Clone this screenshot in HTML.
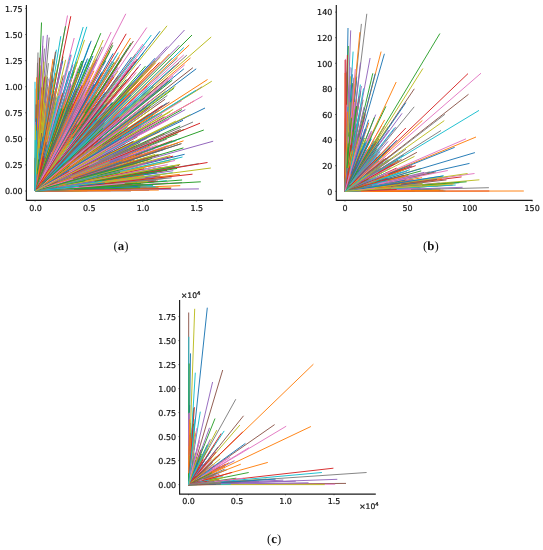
<!DOCTYPE html>
<html><head><meta charset="utf-8"><title>Figure</title>
<style>html,body{margin:0;padding:0;background:#fff}svg{display:block}.c0{stroke:#1f77b4}.c1{stroke:#ff7f0e}.c2{stroke:#2ca02c}.c3{stroke:#d62728}.c4{stroke:#9467bd}.c5{stroke:#8c564b}.c6{stroke:#e377c2}.c7{stroke:#7f7f7f}.c8{stroke:#bcbd22}.c9{stroke:#17becf}</style></head>
<body>
<svg width="543" height="550" viewBox="0 0 543 550">
<rect width="543" height="550" fill="#fff"/>
<g font-family="'DejaVu Sans','Liberation Sans',sans-serif" font-size="8.2" fill="#151515" stroke="#151515" stroke-width="0.22" text-rendering="geometricPrecision">
<path d="M26.4 5.0V200.3H223.1" fill="none" stroke="#1c1c1c" stroke-width="1.15" stroke-linecap="butt" stroke-linejoin="miter"/>
<path d="M35.10 200.3v1.2" stroke="#1c1c1c" stroke-width="0.6"/>
<text transform="translate(35.60 210.80) scale(0.975 1)" text-anchor="middle">0.0</text>
<path d="M88.85 200.3v1.2" stroke="#1c1c1c" stroke-width="0.6"/>
<text transform="translate(89.35 210.80) scale(0.975 1)" text-anchor="middle">0.5</text>
<path d="M142.60 200.3v1.2" stroke="#1c1c1c" stroke-width="0.6"/>
<text transform="translate(143.10 210.80) scale(0.975 1)" text-anchor="middle">1.0</text>
<path d="M196.35 200.3v1.2" stroke="#1c1c1c" stroke-width="0.6"/>
<text transform="translate(196.85 210.80) scale(0.975 1)" text-anchor="middle">1.5</text>
<path d="M26.4 191.00h-1.2" stroke="#1c1c1c" stroke-width="0.6"/>
<text transform="translate(22.70 194.20) scale(0.975 1)" text-anchor="end">0.00</text>
<path d="M26.4 164.93h-1.2" stroke="#1c1c1c" stroke-width="0.6"/>
<text transform="translate(22.70 168.12) scale(0.975 1)" text-anchor="end">0.25</text>
<path d="M26.4 138.85h-1.2" stroke="#1c1c1c" stroke-width="0.6"/>
<text transform="translate(22.70 142.05) scale(0.975 1)" text-anchor="end">0.50</text>
<path d="M26.4 112.78h-1.2" stroke="#1c1c1c" stroke-width="0.6"/>
<text transform="translate(22.70 115.98) scale(0.975 1)" text-anchor="end">0.75</text>
<path d="M26.4 86.70h-1.2" stroke="#1c1c1c" stroke-width="0.6"/>
<text transform="translate(22.70 89.90) scale(0.975 1)" text-anchor="end">1.00</text>
<path d="M26.4 60.62h-1.2" stroke="#1c1c1c" stroke-width="0.6"/>
<text transform="translate(22.70 63.83) scale(0.975 1)" text-anchor="end">1.25</text>
<path d="M26.4 34.55h-1.2" stroke="#1c1c1c" stroke-width="0.6"/>
<text transform="translate(22.70 37.75) scale(0.975 1)" text-anchor="end">1.50</text>
<path d="M26.4 8.47h-1.2" stroke="#1c1c1c" stroke-width="0.6"/>
<text transform="translate(22.70 11.67) scale(0.975 1)" text-anchor="end">1.75</text>
<path d="M336.3 5.0V200.3H532.6" fill="none" stroke="#1c1c1c" stroke-width="1.15" stroke-linecap="butt" stroke-linejoin="miter"/>
<path d="M345.00 200.3v1.2" stroke="#1c1c1c" stroke-width="0.6"/>
<text transform="translate(345.10 211.05) scale(0.975 1)" text-anchor="middle">0</text>
<path d="M407.35 200.3v1.2" stroke="#1c1c1c" stroke-width="0.6"/>
<text transform="translate(407.45 211.05) scale(0.975 1)" text-anchor="middle">50</text>
<path d="M469.70 200.3v1.2" stroke="#1c1c1c" stroke-width="0.6"/>
<text transform="translate(469.80 211.05) scale(0.975 1)" text-anchor="middle">100</text>
<path d="M532.05 200.3v1.2" stroke="#1c1c1c" stroke-width="0.6"/>
<text transform="translate(532.15 211.05) scale(0.975 1)" text-anchor="middle">150</text>
<path d="M336.3 191.30h-1.2" stroke="#1c1c1c" stroke-width="0.6"/>
<text transform="translate(332.30 194.50) scale(0.975 1)" text-anchor="end">0</text>
<path d="M336.3 165.70h-1.2" stroke="#1c1c1c" stroke-width="0.6"/>
<text transform="translate(332.30 168.90) scale(0.975 1)" text-anchor="end">20</text>
<path d="M336.3 140.10h-1.2" stroke="#1c1c1c" stroke-width="0.6"/>
<text transform="translate(332.30 143.30) scale(0.975 1)" text-anchor="end">40</text>
<path d="M336.3 114.50h-1.2" stroke="#1c1c1c" stroke-width="0.6"/>
<text transform="translate(332.30 117.70) scale(0.975 1)" text-anchor="end">60</text>
<path d="M336.3 88.90h-1.2" stroke="#1c1c1c" stroke-width="0.6"/>
<text transform="translate(332.30 92.10) scale(0.975 1)" text-anchor="end">80</text>
<path d="M336.3 63.30h-1.2" stroke="#1c1c1c" stroke-width="0.6"/>
<text transform="translate(332.30 66.50) scale(0.975 1)" text-anchor="end">100</text>
<path d="M336.3 37.70h-1.2" stroke="#1c1c1c" stroke-width="0.6"/>
<text transform="translate(332.30 40.90) scale(0.975 1)" text-anchor="end">120</text>
<path d="M336.3 12.10h-1.2" stroke="#1c1c1c" stroke-width="0.6"/>
<text transform="translate(332.30 15.30) scale(0.975 1)" text-anchor="end">140</text>
<path d="M179.6 300.0V494.05H375.8" fill="none" stroke="#1c1c1c" stroke-width="1.15" stroke-linecap="butt" stroke-linejoin="miter"/>
<path d="M188.50 494.05v1.2" stroke="#1c1c1c" stroke-width="0.6"/>
<text transform="translate(188.60 504.25) scale(0.975 1)" text-anchor="middle">0.0</text>
<path d="M237.00 494.05v1.2" stroke="#1c1c1c" stroke-width="0.6"/>
<text transform="translate(237.10 504.25) scale(0.975 1)" text-anchor="middle">0.5</text>
<path d="M285.50 494.05v1.2" stroke="#1c1c1c" stroke-width="0.6"/>
<text transform="translate(285.60 504.25) scale(0.975 1)" text-anchor="middle">1.0</text>
<path d="M334.00 494.05v1.2" stroke="#1c1c1c" stroke-width="0.6"/>
<text transform="translate(334.10 504.25) scale(0.975 1)" text-anchor="middle">1.5</text>
<path d="M179.6 484.60h-1.2" stroke="#1c1c1c" stroke-width="0.6"/>
<text transform="translate(176.10 487.80) scale(0.975 1)" text-anchor="end">0.00</text>
<path d="M179.6 460.60h-1.2" stroke="#1c1c1c" stroke-width="0.6"/>
<text transform="translate(176.10 463.80) scale(0.975 1)" text-anchor="end">0.25</text>
<path d="M179.6 436.60h-1.2" stroke="#1c1c1c" stroke-width="0.6"/>
<text transform="translate(176.10 439.80) scale(0.975 1)" text-anchor="end">0.50</text>
<path d="M179.6 412.60h-1.2" stroke="#1c1c1c" stroke-width="0.6"/>
<text transform="translate(176.10 415.80) scale(0.975 1)" text-anchor="end">0.75</text>
<path d="M179.6 388.60h-1.2" stroke="#1c1c1c" stroke-width="0.6"/>
<text transform="translate(176.10 391.80) scale(0.975 1)" text-anchor="end">1.00</text>
<path d="M179.6 364.60h-1.2" stroke="#1c1c1c" stroke-width="0.6"/>
<text transform="translate(176.10 367.80) scale(0.975 1)" text-anchor="end">1.25</text>
<path d="M179.6 340.60h-1.2" stroke="#1c1c1c" stroke-width="0.6"/>
<text transform="translate(176.10 343.80) scale(0.975 1)" text-anchor="end">1.50</text>
<path d="M179.6 316.60h-1.2" stroke="#1c1c1c" stroke-width="0.6"/>
<text transform="translate(176.10 319.80) scale(0.975 1)" text-anchor="end">1.75</text>
<text x="181" y="297.9" font-size="7.6">×10<tspan dy="-2.6" font-size="5.3">4</tspan></text>
<text x="359.2" y="508.5" font-size="7.6">×10<tspan dy="-2.6" font-size="5.3">4</tspan></text>
</g>
<g fill="none" stroke-width="1.0" stroke-linecap="butt">
<path class="c0" d="M35 191L79.8 153.5"/>
<path class="c1" d="M35 191L41.4 139.3"/>
<path class="c2" d="M35 191L73.8 152.3"/>
<path class="c3" d="M35 191L82.8 177.1"/>
<path class="c4" d="M35 191L48.1 171.7"/>
<path class="c5" d="M35 191L113.7 179.6"/>
<path class="c6" d="M35 191L52.6 188.6"/>
<path class="c7" d="M35 191L109.9 51.7"/>
<path class="c8" d="M35 191L35.1 188.2"/>
<path class="c9" d="M35 191L58.6 153.1"/>
<path class="c0" d="M35 191L184.6 154.3"/>
<path class="c1" d="M35 191L155.7 62.8"/>
<path class="c2" d="M35 191L120.2 165.5"/>
<path class="c3" d="M35 191L91.4 188.4"/>
<path class="c4" d="M35 191L49.7 179.1"/>
<path class="c5" d="M35 191L67.5 157.5"/>
<path class="c6" d="M35 191L66.3 160.6"/>
<path class="c7" d="M35 191L118.8 119.8"/>
<path class="c8" d="M35 191L35 190.7"/>
<path class="c9" d="M35 191L42.2 163.8"/>
<path class="c0" d="M35 191L125.3 143.6"/>
<path class="c1" d="M35 191L159.8 131.8"/>
<path class="c2" d="M35 191L60.3 127.1"/>
<path class="c3" d="M35 191L51.4 126.3"/>
<path class="c4" d="M35 191L35.9 178.3"/>
<path class="c5" d="M35 191L131 190.9"/>
<path class="c6" d="M35 191L42.5 139.3"/>
<path class="c7" d="M35 191L36.8 132.8"/>
<path class="c8" d="M35 191L71.4 186.9"/>
<path class="c9" d="M35 191L66.2 107.5"/>
<path class="c0" d="M35 191L109.3 181"/>
<path class="c1" d="M35 191L36.2 170.5"/>
<path class="c2" d="M35 191L122.6 175"/>
<path class="c3" d="M35 191L167.1 170.4"/>
<path class="c4" d="M35 191L69.1 90.7"/>
<path class="c5" d="M35 191L84.1 133.4"/>
<path class="c6" d="M35 191L59.2 183.7"/>
<path class="c7" d="M35 191L69.2 184.1"/>
<path class="c8" d="M35 191L96.1 180"/>
<path class="c9" d="M35 191L114.9 164"/>
<path class="c0" d="M35 191L35.8 174.6"/>
<path class="c1" d="M35 191L45.2 185.9"/>
<path class="c2" d="M35 191L96.9 170.3"/>
<path class="c3" d="M35 191L43.1 157.1"/>
<path class="c4" d="M35 191L35.9 190.9"/>
<path class="c5" d="M35 191L116.8 163.3"/>
<path class="c6" d="M35 191L63.5 116.8"/>
<path class="c7" d="M35 191L159.5 130.2"/>
<path class="c8" d="M35 191L76.5 185.2"/>
<path class="c9" d="M35 191L72.3 176.4"/>
<path class="c0" d="M35 191L93.8 153.2"/>
<path class="c1" d="M35 191L38.2 142.5"/>
<path class="c2" d="M35 191L44.8 178.9"/>
<path class="c3" d="M35 191L137.2 161.7"/>
<path class="c4" d="M35 191L37.3 175.2"/>
<path class="c5" d="M35 191L128.8 153.3"/>
<path class="c6" d="M35 191L37.4 185.7"/>
<path class="c7" d="M35 191L39.2 189.7"/>
<path class="c8" d="M35 191L42.2 153.6"/>
<path class="c9" d="M35 191L157.5 98.2"/>
<path class="c0" d="M35 191L38.3 190.8"/>
<path class="c1" d="M35 191L61.7 180.8"/>
<path class="c2" d="M35 191L50.4 184.6"/>
<path class="c3" d="M35 191L96.1 110.2"/>
<path class="c4" d="M35 191L60.5 184"/>
<path class="c5" d="M35 191L127 181.3"/>
<path class="c6" d="M35 191L46.4 177.7"/>
<path class="c7" d="M35 191L94.2 107.9"/>
<path class="c8" d="M35 191L47 101.3"/>
<path class="c9" d="M35 191L120.1 188.8"/>
<path class="c0" d="M35 191L169.9 80.6"/>
<path class="c1" d="M35 191L101.3 172.7"/>
<path class="c2" d="M35 191L126.3 79.5"/>
<path class="c3" d="M35 191L45.1 184.8"/>
<path class="c4" d="M35 191L35.9 161.2"/>
<path class="c5" d="M35 191L57.4 149.7"/>
<path class="c6" d="M35 191L174.9 160.5"/>
<path class="c7" d="M35 191L43.1 190.8"/>
<path class="c8" d="M35 191L36.7 187.7"/>
<path class="c9" d="M35 191L70.8 189.8"/>
<path class="c0" d="M35 191L60.1 167.9"/>
<path class="c1" d="M35 191L35.1 191"/>
<path class="c2" d="M35 191L80.9 185.7"/>
<path class="c3" d="M35 191L39 182.1"/>
<path class="c4" d="M35 191L47.7 162.9"/>
<path class="c5" d="M35 191L37.6 183.5"/>
<path class="c6" d="M35 191L65.7 172.6"/>
<path class="c7" d="M35 191L36.8 180"/>
<path class="c8" d="M35 191L55.1 176"/>
<path class="c9" d="M35 191L44.2 149.8"/>
<path class="c0" d="M35 191L81.3 123.6"/>
<path class="c1" d="M35 191L65.5 152.4"/>
<path class="c2" d="M35 191L70.2 186.7"/>
<path class="c3" d="M35 191L35.1 181.3"/>
<path class="c4" d="M35 191L65.8 125.3"/>
<path class="c5" d="M35 191L53.9 149.5"/>
<path class="c6" d="M35 191L50.1 178.8"/>
<path class="c7" d="M35 191L58.5 188"/>
<path class="c8" d="M35 191L74.7 189.2"/>
<path class="c9" d="M35 191L125 108.6"/>
<path class="c0" d="M35 191L62.2 139.4"/>
<path class="c1" d="M35 191L40.1 183.8"/>
<path class="c2" d="M35 191L183.9 129.5"/>
<path class="c3" d="M35 191L65.2 176"/>
<path class="c4" d="M35 191L133.1 159.6"/>
<path class="c5" d="M35 191L39.7 160.1"/>
<path class="c6" d="M35 191L45 182.9"/>
<path class="c7" d="M35 191L67.2 173.3"/>
<path class="c8" d="M35 191L92.4 173"/>
<path class="c9" d="M35 191L37.5 183.4"/>
<path class="c0" d="M35 191L47.5 127.2"/>
<path class="c1" d="M35 191L95.7 114.2"/>
<path class="c2" d="M35 191L85.9 180.2"/>
<path class="c3" d="M35 191L38.6 177.5"/>
<path class="c4" d="M35 191L37.2 186.6"/>
<path class="c5" d="M35 191L134.1 146.2"/>
<path class="c6" d="M35 191L119.7 120.5"/>
<path class="c7" d="M35 191L94.3 170.9"/>
<path class="c8" d="M35 191L71 138.5"/>
<path class="c9" d="M35 191L49.6 183.4"/>
<path class="c0" d="M35 191L36.5 139.5"/>
<path class="c1" d="M35 191L179.8 174.4"/>
<path class="c2" d="M35 191L63 56.7"/>
<path class="c3" d="M35 191L56.7 148.2"/>
<path class="c4" d="M35 191L54 181.2"/>
<path class="c5" d="M35 191L146.7 187.7"/>
<path class="c6" d="M35 191L184.7 64.8"/>
<path class="c7" d="M35 191L59.9 102.8"/>
<path class="c8" d="M35 191L169.8 161.5"/>
<path class="c9" d="M35 191L74.7 132.4"/>
<path class="c0" d="M35 191L57.7 157.3"/>
<path class="c1" d="M35 191L36.2 187.4"/>
<path class="c2" d="M35 191L89 93.9"/>
<path class="c3" d="M35 191L135.5 100.6"/>
<path class="c4" d="M35 191L90.4 190.1"/>
<path class="c5" d="M35 191L84.9 90.2"/>
<path class="c6" d="M35 191L104.2 160.3"/>
<path class="c7" d="M35 191L60.8 142.2"/>
<path class="c8" d="M35 191L51.4 168"/>
<path class="c9" d="M35 191L54.9 177.2"/>
<path class="c0" d="M35 191L52.7 74.8"/>
<path class="c1" d="M35 191L37.7 166.7"/>
<path class="c2" d="M35 191L91.5 179.6"/>
<path class="c3" d="M35 191L40.6 182.9"/>
<path class="c4" d="M35 191L79.3 162"/>
<path class="c5" d="M35 191L38.6 173"/>
<path class="c6" d="M35 191L39.6 139.8"/>
<path class="c7" d="M35 191L95.5 94.6"/>
<path class="c8" d="M35 191L43 174.4"/>
<path class="c9" d="M35 191L52.5 164"/>
<path class="c0" d="M35 191L43.5 188.1"/>
<path class="c1" d="M35 191L35.1 189.2"/>
<path class="c2" d="M35 191L52.3 172.1"/>
<path class="c3" d="M35 191L43 186.7"/>
<path class="c4" d="M35 191L51.5 121.3"/>
<path class="c5" d="M35 191L94 183.5"/>
<path class="c6" d="M35 191L53.7 169.6"/>
<path class="c7" d="M35 191L177.6 57.8"/>
<path class="c8" d="M35 191L76.1 61.7"/>
<path class="c9" d="M35 191L68.9 89.7"/>
<path class="c0" d="M35 191L54.8 179.8"/>
<path class="c1" d="M35 191L140.7 167.9"/>
<path class="c2" d="M35 191L59.4 166"/>
<path class="c3" d="M35 191L42.7 161.9"/>
<path class="c4" d="M35 191L39.2 143.2"/>
<path class="c5" d="M35 191L44.3 77.9"/>
<path class="c6" d="M35 191L80.5 175"/>
<path class="c7" d="M35 191L59.9 179.2"/>
<path class="c8" d="M35 191L67 142.1"/>
<path class="c9" d="M35 191L46.1 147.9"/>
<path class="c0" d="M35 191L101.1 156.7"/>
<path class="c1" d="M35 191L37.2 182.3"/>
<path class="c2" d="M35 191L47.9 186.7"/>
<path class="c3" d="M35 191L37.2 147.3"/>
<path class="c4" d="M35 191L113.8 94.4"/>
<path class="c5" d="M35 191L80.6 141.3"/>
<path class="c6" d="M35 191L143 44"/>
<path class="c7" d="M35 191L37.2 146.4"/>
<path class="c8" d="M35 191L54 177.5"/>
<path class="c9" d="M35 191L79 138.9"/>
<path class="c0" d="M35 191L105.7 60.8"/>
<path class="c1" d="M35 191L90.7 129.9"/>
<path class="c2" d="M35 191L35.4 184.8"/>
<path class="c3" d="M35 191L87.3 168.1"/>
<path class="c4" d="M35 191L94.1 179.4"/>
<path class="c5" d="M35 191L37.7 182.2"/>
<path class="c6" d="M35 191L110.9 122.4"/>
<path class="c7" d="M35 191L70.8 180.2"/>
<path class="c8" d="M35 191L47.6 86.9"/>
<path class="c9" d="M35 191L89.8 43.4"/>
<path class="c0" d="M35 191L122.6 164.2"/>
<path class="c1" d="M35 191L76.8 115.2"/>
<path class="c2" d="M35 191L73 167.9"/>
<path class="c3" d="M35 191L60.3 186.9"/>
<path class="c4" d="M35 191L84.5 181.6"/>
<path class="c5" d="M35 191L127.4 153.7"/>
<path class="c6" d="M35 191L88.9 133.4"/>
<path class="c7" d="M35 191L99.4 149.1"/>
<path class="c8" d="M35 191L130.6 89.1"/>
<path class="c9" d="M35 191L69.2 179.9"/>
<path class="c0" d="M35 191L66.5 143"/>
<path class="c1" d="M35 191L44.1 153.8"/>
<path class="c2" d="M35 191L55.7 102.9"/>
<path class="c3" d="M35 191L42.7 173.6"/>
<path class="c4" d="M35 191L46.5 118.6"/>
<path class="c5" d="M35 191L41.8 187.4"/>
<path class="c6" d="M35 191L35.1 191"/>
<path class="c7" d="M35 191L54.5 85.1"/>
<path class="c8" d="M35 191L59.5 181.6"/>
<path class="c9" d="M35 191L149.9 142.8"/>
<path class="c0" d="M35 191L51.7 130.7"/>
<path class="c1" d="M35 191L74.5 79"/>
<path class="c2" d="M35 191L66.2 168.8"/>
<path class="c3" d="M35 191L132.6 188.4"/>
<path class="c4" d="M35 191L39.5 183"/>
<path class="c5" d="M35 191L40.3 86.4"/>
<path class="c6" d="M35 191L56.6 169.7"/>
<path class="c7" d="M35 191L63.8 162.8"/>
<path class="c8" d="M35 191L158.2 154.4"/>
<path class="c9" d="M35 191L175.8 168"/>
<path class="c0" d="M35 191L77.7 142.1"/>
<path class="c1" d="M35 191L124.2 83.2"/>
<path class="c2" d="M35 191L127.2 164.3"/>
<path class="c3" d="M35 191L35.2 190.2"/>
<path class="c4" d="M35 191L48.3 78.7"/>
<path class="c5" d="M35 191L39.3 190.6"/>
<path class="c6" d="M35 191L57.2 171.9"/>
<path class="c7" d="M35 191L90.4 160.6"/>
<path class="c8" d="M35 191L91.4 133.5"/>
<path class="c9" d="M35 191L151.3 35"/>
<path class="c0" d="M35 191L42.4 176.8"/>
<path class="c1" d="M35 191L89.9 175.4"/>
<path class="c2" d="M35 191L63.3 127.7"/>
<path class="c3" d="M35 191L134.3 160.4"/>
<path class="c4" d="M35 191L179.2 45.2"/>
<path class="c5" d="M35 191L38 173.6"/>
<path class="c6" d="M35 191L41.5 178.4"/>
<path class="c7" d="M35 191L78.5 126.8"/>
<path class="c8" d="M35 191L73.2 139.9"/>
<path class="c9" d="M35 191L35.5 174.8"/>
<path class="c0" d="M35 191L42.6 187.8"/>
<path class="c1" d="M35 191L44 170.4"/>
<path class="c2" d="M35 191L54.3 128.2"/>
<path class="c3" d="M35 191L36.7 180.7"/>
<path class="c4" d="M35 191L46.6 169.3"/>
<path class="c5" d="M35 191L60.1 127.8"/>
<path class="c6" d="M35 191L96.4 62.8"/>
<path class="c7" d="M35 191L90.8 158.7"/>
<path class="c8" d="M35 191L106.4 189.8"/>
<path class="c9" d="M35 191L59.3 153.9"/>
<path class="c0" d="M35 191L39.7 189.3"/>
<path class="c1" d="M35 191L78.8 117.4"/>
<path class="c2" d="M35 191L61.3 147.8"/>
<path class="c3" d="M35 191L94.4 126.9"/>
<path class="c4" d="M35 191L35 159.9"/>
<path class="c5" d="M35 191L46.6 168.7"/>
<path class="c6" d="M35 191L39.3 57.3"/>
<path class="c7" d="M35 191L52.6 166.2"/>
<path class="c8" d="M35 191L96.1 165.7"/>
<path class="c9" d="M35 191L133.5 183.4"/>
<path class="c0" d="M35 191L158.7 110.5"/>
<path class="c1" d="M35 191L43 187.7"/>
<path class="c2" d="M35 191L78.6 141.3"/>
<path class="c3" d="M35 191L37.1 152"/>
<path class="c4" d="M35 191L35.2 159.5"/>
<path class="c5" d="M35 191L74.8 65.7"/>
<path class="c6" d="M35 191L52.1 168.3"/>
<path class="c7" d="M35 191L41.3 190.6"/>
<path class="c8" d="M35 191L88.3 177.7"/>
<path class="c9" d="M35 191L85.2 177.7"/>
<path class="c0" d="M35 191L131.4 57.2"/>
<path class="c1" d="M35 191L40 134.6"/>
<path class="c2" d="M35 191L71.3 152.6"/>
<path class="c3" d="M35 191L118.5 138.5"/>
<path class="c4" d="M35 191L62.4 146.8"/>
<path class="c5" d="M35 191L61 179"/>
<path class="c6" d="M35 191L185.5 117.6"/>
<path class="c7" d="M35 191L166.8 139.1"/>
<path class="c8" d="M35 191L57.4 185.5"/>
<path class="c9" d="M35 191L44.5 184.5"/>
<path class="c0" d="M35 191L93 55.8"/>
<path class="c1" d="M35 191L35.1 186.6"/>
<path class="c2" d="M35 191L43.5 190"/>
<path class="c3" d="M35 191L90.7 147.7"/>
<path class="c4" d="M35 191L38.5 111"/>
<path class="c5" d="M35 191L40.1 185.6"/>
<path class="c6" d="M35 191L61.4 135.9"/>
<path class="c7" d="M35 191L35.5 175.8"/>
<path class="c8" d="M35 191L121.1 74.5"/>
<path class="c9" d="M35 191L74.5 133.6"/>
<path class="c0" d="M35 191L163.7 149.6"/>
<path class="c1" d="M35 191L138.4 81.2"/>
<path class="c2" d="M35 191L67.7 164.4"/>
<path class="c3" d="M35 191L121.6 117.8"/>
<path class="c4" d="M35 191L84 129.1"/>
<path class="c5" d="M35 191L52.7 143.8"/>
<path class="c6" d="M35 191L35 187.2"/>
<path class="c7" d="M35 191L75.7 101.8"/>
<path class="c8" d="M35 191L44.6 189.3"/>
<path class="c9" d="M35 191L48.2 154.6"/>
<path class="c0" d="M35 191L120.7 138.3"/>
<path class="c1" d="M35 191L59.2 147.4"/>
<path class="c2" d="M35 191L62.6 155"/>
<path class="c3" d="M35 191L76.3 92.7"/>
<path class="c4" d="M35 191L36.7 190.3"/>
<path class="c5" d="M35 191L36.4 180.8"/>
<path class="c6" d="M35 191L168.2 183"/>
<path class="c7" d="M35 191L93.4 165.3"/>
<path class="c8" d="M35 191L118 71"/>
<path class="c9" d="M35 191L148.2 65.5"/>
<path class="c0" d="M35 191L66.2 186.9"/>
<path class="c1" d="M35 191L66.2 155.5"/>
<path class="c2" d="M35 191L90.5 155.2"/>
<path class="c3" d="M35 191L103.8 168"/>
<path class="c4" d="M35 191L41.4 176.3"/>
<path class="c5" d="M35 191L150.1 177.9"/>
<path class="c6" d="M35 191L46.6 154.6"/>
<path class="c7" d="M35 191L71.6 97.4"/>
<path class="c8" d="M35 191L123.9 123"/>
<path class="c9" d="M35 191L56.5 123.1"/>
<path class="c0" d="M35 191L35.6 190"/>
<path class="c1" d="M35 191L80.3 166.3"/>
<path class="c2" d="M35 191L38.1 184"/>
<path class="c3" d="M35 191L105.8 136.3"/>
<path class="c4" d="M35 191L46.3 189.3"/>
<path class="c5" d="M35 191L160.2 175.9"/>
<path class="c6" d="M35 191L79.5 138.1"/>
<path class="c7" d="M35 191L79.1 111.5"/>
<path class="c8" d="M35 191L82.7 65.1"/>
<path class="c9" d="M35 191L66 180.5"/>
<path class="c0" d="M35 191L113.9 181.1"/>
<path class="c1" d="M35 191L48.8 161.9"/>
<path class="c2" d="M35 191L140.2 142.3"/>
<path class="c3" d="M35 191L61.4 174.8"/>
<path class="c4" d="M35 191L153 116.6"/>
<path class="c5" d="M35 191L56.7 148.1"/>
<path class="c6" d="M35 191L35.7 186"/>
<path class="c7" d="M35 191L42.8 135.5"/>
<path class="c8" d="M35 191L60.5 113.4"/>
<path class="c9" d="M35 191L98.9 157.2"/>
<path class="c0" d="M35 191L35.9 182.3"/>
<path class="c1" d="M35 191L101.3 164.5"/>
<path class="c2" d="M35 191L106.3 146.2"/>
<path class="c3" d="M35 191L103.4 143.4"/>
<path class="c4" d="M35 191L76.7 178.2"/>
<path class="c5" d="M35 191L50.6 145.1"/>
<path class="c6" d="M35 191L46.6 148.1"/>
<path class="c7" d="M35 191L56.7 185"/>
<path class="c8" d="M35 191L50.3 112.2"/>
<path class="c9" d="M35 191L84.9 189.3"/>
<path class="c0" d="M35 191L73 148.5"/>
<path class="c1" d="M35 191L36.7 160.4"/>
<path class="c2" d="M35 191L77.3 61.6"/>
<path class="c3" d="M35 191L52.2 171.6"/>
<path class="c4" d="M35 191L160.5 174.8"/>
<path class="c5" d="M35 191L39.1 182"/>
<path class="c6" d="M35 191L70.8 186.3"/>
<path class="c7" d="M35 191L58.4 185.8"/>
<path class="c8" d="M35 191L91.3 102.1"/>
<path class="c9" d="M35 191L55.8 183.7"/>
<path class="c0" d="M35 191L55.3 169.9"/>
<path class="c1" d="M35 191L110.8 138.4"/>
<path class="c2" d="M35 191L36.5 162.5"/>
<path class="c3" d="M35 191L80.4 147.8"/>
<path class="c4" d="M35 191L48.3 163.3"/>
<path class="c5" d="M35 191L43.1 132.1"/>
<path class="c6" d="M35 191L44.1 159.4"/>
<path class="c7" d="M35 191L39.2 173.6"/>
<path class="c8" d="M35 191L37.7 181.1"/>
<path class="c9" d="M35 191L37.2 159.2"/>
<path class="c0" d="M35 191L60.3 164.4"/>
<path class="c1" d="M35 191L55.1 130.2"/>
<path class="c2" d="M35 191L146.7 106.7"/>
<path class="c3" d="M35 191L35.3 190.2"/>
<path class="c4" d="M35 191L141.5 121.7"/>
<path class="c5" d="M35 191L93 172.2"/>
<path class="c6" d="M35 191L37.6 189.8"/>
<path class="c7" d="M35 191L113.4 183.9"/>
<path class="c8" d="M35 191L68.9 185"/>
<path class="c9" d="M35 191L72.9 90.8"/>
<path class="c0" d="M35 191L91.9 185.6"/>
<path class="c1" d="M35 191L41.4 182.8"/>
<path class="c2" d="M35 191L153.5 184.4"/>
<path class="c3" d="M35 191L124.7 165"/>
<path class="c4" d="M35 191L60.4 181.4"/>
<path class="c5" d="M35 191L105.6 98.2"/>
<path class="c6" d="M35 191L114 168"/>
<path class="c7" d="M35 191L56.9 185.1"/>
<path class="c8" d="M35 191L79.9 167.8"/>
<path class="c9" d="M35 191L51.1 137.9"/>
<path class="c0" d="M35 191L44.7 186.9"/>
<path class="c1" d="M35 191L44.5 122.9"/>
<path class="c2" d="M35 191L38.3 187.3"/>
<path class="c3" d="M35 191L126.4 106.8"/>
<path class="c4" d="M35 191L39.7 190.6"/>
<path class="c5" d="M35 191L56.8 125.2"/>
<path class="c6" d="M35 191L80.1 143.2"/>
<path class="c7" d="M35 191L35.8 190.6"/>
<path class="c8" d="M35 191L90.4 100.8"/>
<path class="c9" d="M35 191L90.3 190.1"/>
<path class="c0" d="M35 191L54.3 178.6"/>
<path class="c1" d="M35 191L54.2 152.3"/>
<path class="c2" d="M35 191L138 165.7"/>
<path class="c3" d="M35 191L120.5 145"/>
<path class="c4" d="M35 191L45.2 143.4"/>
<path class="c5" d="M35 191L35.4 190.4"/>
<path class="c6" d="M35 191L80 171.5"/>
<path class="c7" d="M35 191L55.9 186.1"/>
<path class="c8" d="M35 191L51.6 191"/>
<path class="c9" d="M35 191L39 175"/>
<path class="c0" d="M35 191L119.4 180.3"/>
<path class="c1" d="M35 191L94 70.8"/>
<path class="c2" d="M35 191L89.6 141.1"/>
<path class="c3" d="M35 191L37.7 153.7"/>
<path class="c4" d="M35 191L52.9 114.6"/>
<path class="c5" d="M35 191L56.7 129.5"/>
<path class="c6" d="M35 191L50.5 76.7"/>
<path class="c7" d="M35 191L62 97.4"/>
<path class="c8" d="M35 191L77.4 143.7"/>
<path class="c9" d="M35 191L50 187.3"/>
<path class="c0" d="M35 191L111.5 151.4"/>
<path class="c1" d="M35 191L113.7 181.8"/>
<path class="c2" d="M35 191L62.1 167.2"/>
<path class="c3" d="M35 191L65.6 172.1"/>
<path class="c4" d="M35 191L100 180.4"/>
<path class="c5" d="M35 191L37.9 188.5"/>
<path class="c6" d="M35 191L44.3 158.1"/>
<path class="c7" d="M35 191L103.3 189.7"/>
<path class="c8" d="M35 191L80.2 101.4"/>
<path class="c9" d="M35 191L82.3 134.7"/>
<path class="c0" d="M35 191L35.7 191"/>
<path class="c1" d="M35 191L66.7 96.5"/>
<path class="c2" d="M35 191L92.7 109.6"/>
<path class="c3" d="M35 191L82.8 159.8"/>
<path class="c4" d="M35 191L106.7 155.7"/>
<path class="c5" d="M35 191L68.2 168.1"/>
<path class="c6" d="M35 191L127.1 152.8"/>
<path class="c7" d="M35 191L69.3 116.7"/>
<path class="c8" d="M35 191L38.6 150.9"/>
<path class="c9" d="M35 191L70.3 117"/>
<path class="c0" d="M35 191L69.4 71.1"/>
<path class="c1" d="M35 191L154.2 164.9"/>
<path class="c2" d="M35 191L50.9 163.2"/>
<path class="c3" d="M35 191L96.6 173.6"/>
<path class="c4" d="M35 191L45.6 151.5"/>
<path class="c5" d="M35 191L126.9 178.3"/>
<path class="c6" d="M35 191L145.5 163.9"/>
<path class="c7" d="M35 191L167.4 95.4"/>
<path class="c8" d="M35 191L42.3 134.4"/>
<path class="c9" d="M35 191L67.3 158.5"/>
<path class="c0" d="M35 191L41.4 174.7"/>
<path class="c1" d="M35 191L111.7 139.3"/>
<path class="c2" d="M35 191L64.6 170"/>
<path class="c3" d="M35 191L35.5 173.5"/>
<path class="c4" d="M35 191L58.5 152.3"/>
<path class="c5" d="M35 191L110.1 188.9"/>
<path class="c6" d="M35 191L69.2 171.2"/>
<path class="c7" d="M35 191L102.3 180"/>
<path class="c8" d="M35 191L53.6 172.4"/>
<path class="c9" d="M35 191L45.9 153.4"/>
<path class="c0" d="M35 191L56.2 185.8"/>
<path class="c1" d="M35 191L41.8 148.1"/>
<path class="c2" d="M35 191L87.1 159.7"/>
<path class="c3" d="M35 191L61.7 185.1"/>
<path class="c4" d="M35 191L35.9 146.8"/>
<path class="c5" d="M35 191L42.4 176"/>
<path class="c6" d="M35 191L39.7 189.5"/>
<path class="c7" d="M35 191L101.9 93"/>
<path class="c8" d="M35 191L123.8 179.6"/>
<path class="c9" d="M35 191L58.4 162.1"/>
<path class="c0" d="M35 191L41.3 187.5"/>
<path class="c1" d="M35 191L92.2 155.6"/>
<path class="c2" d="M35 191L37.3 190.6"/>
<path class="c3" d="M35 191L43.5 189.2"/>
<path class="c4" d="M35 191L73.8 147.8"/>
<path class="c5" d="M35 191L106.8 106.5"/>
<path class="c6" d="M35 191L35.1 190.4"/>
<path class="c7" d="M35 191L46.8 152.2"/>
<path class="c8" d="M35 191L50.9 188"/>
<path class="c9" d="M35 191L44 186.7"/>
<path class="c0" d="M35 191L75.3 175.4"/>
<path class="c1" d="M35 191L62.4 93.1"/>
<path class="c2" d="M35 191L145.5 66.1"/>
<path class="c3" d="M35 191L136.8 186"/>
<path class="c4" d="M35 191L35.1 186.2"/>
<path class="c5" d="M35 191L83 112.6"/>
<path class="c6" d="M35 191L49.5 166.2"/>
<path class="c7" d="M35 191L76.7 163.3"/>
<path class="c8" d="M35 191L84.5 39.9"/>
<path class="c9" d="M35 191L87.7 174.4"/>
<path class="c0" d="M35 191L100 176.6"/>
<path class="c1" d="M35 191L119.1 89.1"/>
<path class="c2" d="M35 191L114 109.3"/>
<path class="c3" d="M35 191L96.4 117"/>
<path class="c4" d="M35 191L127.2 49"/>
<path class="c5" d="M35 191L98.6 82.1"/>
<path class="c6" d="M35 191L37.4 155.1"/>
<path class="c7" d="M35 191L97.8 135.5"/>
<path class="c8" d="M35 191L55.7 161"/>
<path class="c9" d="M35 191L44.5 167.9"/>
<path class="c0" d="M35 191L35.5 190.6"/>
<path class="c1" d="M35 191L38.5 178.1"/>
<path class="c2" d="M35 191L96.8 146"/>
<path class="c3" d="M35 191L42.1 182.5"/>
<path class="c4" d="M35 191L79.2 144.4"/>
<path class="c5" d="M35 191L43.8 184.1"/>
<path class="c6" d="M35 191L168.4 119.5"/>
<path class="c7" d="M35 191L39.2 182.1"/>
<path class="c8" d="M35 191L53.2 151.4"/>
<path class="c9" d="M35 191L68 113"/>
<path class="c0" d="M35 191L134 61.4"/>
<path class="c1" d="M35 191L92.5 179.9"/>
<path class="c2" d="M35 191L97 130.2"/>
<path class="c3" d="M35 191L64.4 188.7"/>
<path class="c4" d="M35 191L116.9 104.5"/>
<path class="c5" d="M35 191L98.9 158.6"/>
<path class="c6" d="M35 191L157.5 144.7"/>
<path class="c7" d="M35 191L35.4 188.2"/>
<path class="c8" d="M35 191L42.2 178.8"/>
<path class="c9" d="M35 191L53.6 176.9"/>
<path class="c0" d="M35 191L57.6 183"/>
<path class="c1" d="M35 191L42.2 182.4"/>
<path class="c2" d="M35 191L54.2 188.1"/>
<path class="c3" d="M35 191L81.3 182.1"/>
<path class="c4" d="M35 191L47.4 34.9"/>
<path class="c5" d="M35 191L110.2 161.5"/>
<path class="c6" d="M35 191L166 119.8"/>
<path class="c7" d="M35 191L37.8 174.9"/>
<path class="c8" d="M35 191L108 139.9"/>
<path class="c9" d="M35 191L143.3 52.9"/>
<path class="c0" d="M35 191L44.2 190.6"/>
<path class="c1" d="M35 191L85.7 165.1"/>
<path class="c2" d="M35 191L35.2 189.2"/>
<path class="c3" d="M35 191L130.3 106"/>
<path class="c4" d="M35 191L41.7 187.7"/>
<path class="c5" d="M35 191L50.6 98.4"/>
<path class="c6" d="M35 191L53.6 121.5"/>
<path class="c7" d="M35 191L137.3 99.8"/>
<path class="c8" d="M35 191L35.1 190.6"/>
<path class="c9" d="M35 191L69.2 180.1"/>
<path class="c0" d="M35 191L45.4 187.9"/>
<path class="c1" d="M35 191L154.1 181.9"/>
<path class="c2" d="M35 191L71.3 114.1"/>
<path class="c3" d="M35 191L36.8 179.8"/>
<path class="c4" d="M35 191L90 80.5"/>
<path class="c5" d="M35 191L37.9 185.5"/>
<path class="c6" d="M35 191L163.6 85.9"/>
<path class="c7" d="M35 191L109 164.7"/>
<path class="c8" d="M35 191L83.9 93.7"/>
<path class="c9" d="M35 191L121.7 166.4"/>
<path class="c0" d="M35 191L46.7 171.5"/>
<path class="c1" d="M35 191L68.6 169.4"/>
<path class="c2" d="M35 191L42.3 152.2"/>
<path class="c3" d="M35 191L109.9 163.6"/>
<path class="c4" d="M35 191L38.5 161.2"/>
<path class="c5" d="M35 191L68.7 175.8"/>
<path class="c6" d="M35 191L36.5 190.8"/>
<path class="c7" d="M35 191L84 151.5"/>
<path class="c8" d="M35 191L160 57.2"/>
<path class="c9" d="M35 191L96.5 108.7"/>
<path class="c0" d="M35 191L52.3 184"/>
<path class="c1" d="M35 191L116.8 180"/>
<path class="c2" d="M35 191L71.5 103.2"/>
<path class="c3" d="M35 191L78.8 171"/>
<path class="c4" d="M35 191L43.9 188.4"/>
<path class="c5" d="M35 191L37.5 62.8"/>
<path class="c6" d="M35 191L58.6 170.7"/>
<path class="c7" d="M35 191L41.5 186.6"/>
<path class="c8" d="M35 191L131.9 96.8"/>
<path class="c9" d="M35 191L64.5 156.8"/>
<path class="c0" d="M35 191L68.8 170.2"/>
<path class="c1" d="M35 191L52.8 142.2"/>
<path class="c2" d="M35 191L48.4 177.7"/>
<path class="c3" d="M35 191L62.2 142.2"/>
<path class="c4" d="M35 191L42.3 97.8"/>
<path class="c5" d="M35 191L73.3 87.8"/>
<path class="c6" d="M35 191L101.1 100.1"/>
<path class="c7" d="M35 191L56.7 173.6"/>
<path class="c8" d="M35 191L41.9 171.8"/>
<path class="c9" d="M35 191L84.9 172.2"/>
<path class="c0" d="M35 191L74.6 177.1"/>
<path class="c1" d="M35 191L171.9 58.4"/>
<path class="c2" d="M35 191L55.6 163.8"/>
<path class="c3" d="M35 191L44.4 179.5"/>
<path class="c4" d="M35 191L137.8 162"/>
<path class="c5" d="M35 191L87.3 189.6"/>
<path class="c6" d="M35 191L95.4 143.3"/>
<path class="c7" d="M35 191L52.8 183.4"/>
<path class="c8" d="M35 191L43.4 190.1"/>
<path class="c9" d="M35 191L73 145.1"/>
<path class="c0" d="M35 191L66.1 102.1"/>
<path class="c1" d="M35 191L110.9 173.8"/>
<path class="c2" d="M35 191L112.6 186"/>
<path class="c3" d="M35 191L68.8 142.4"/>
<path class="c4" d="M35 191L73.9 174.3"/>
<path class="c5" d="M35 191L51.5 188.8"/>
<path class="c6" d="M35 191L118.8 168.5"/>
<path class="c7" d="M35 191L63.8 183.8"/>
<path class="c8" d="M35 191L40.4 171.6"/>
<path class="c9" d="M35 191L98.4 185.1"/>
<path class="c0" d="M35 191L131 130.9"/>
<path class="c1" d="M35 191L41 65.3"/>
<path class="c2" d="M35 191L56.8 170.5"/>
<path class="c3" d="M35 191L37.2 93.6"/>
<path class="c4" d="M35 191L59.3 170.5"/>
<path class="c5" d="M35 191L125.1 185.6"/>
<path class="c6" d="M35 191L53.7 87"/>
<path class="c7" d="M35 191L117.2 134.3"/>
<path class="c8" d="M35 191L165.7 91"/>
<path class="c9" d="M35 191L35.3 191"/>
<path class="c0" d="M35 191L45 166.1"/>
<path class="c1" d="M35 191L117.4 160.7"/>
<path class="c2" d="M35 191L111.8 103"/>
<path class="c3" d="M35 191L41.1 185.8"/>
<path class="c4" d="M35 191L110.2 143.9"/>
<path class="c5" d="M35 191L36 156.6"/>
<path class="c6" d="M35 191L99.5 187.1"/>
<path class="c7" d="M35 191L119.3 57.4"/>
<path class="c8" d="M35 191L64.5 173.8"/>
<path class="c9" d="M35 191L43.7 151.8"/>
<path class="c0" d="M35 191L44.9 137.5"/>
<path class="c1" d="M35 191L49.8 180.8"/>
<path class="c2" d="M35 191L56 177.1"/>
<path class="c3" d="M35 191L103.2 167.7"/>
<path class="c4" d="M35 191L78.5 178.5"/>
<path class="c5" d="M35 191L128.3 167.1"/>
<path class="c6" d="M35 191L87.5 173.1"/>
<path class="c7" d="M35 191L92.1 161.8"/>
<path class="c8" d="M35 191L35.3 163.4"/>
<path class="c9" d="M35 191L55.9 98.1"/>
<path class="c0" d="M35 191L166.9 103"/>
<path class="c1" d="M35 191L72.8 121.3"/>
<path class="c2" d="M35 191L180.2 126"/>
<path class="c3" d="M35 191L117.1 167.5"/>
<path class="c4" d="M35 191L42.1 186.1"/>
<path class="c5" d="M35 191L76.5 106.9"/>
<path class="c6" d="M35 191L143.9 123.6"/>
<path class="c7" d="M35 191L41.6 126.4"/>
<path class="c8" d="M35 191L45.3 165"/>
<path class="c9" d="M35 191L56.4 49.7"/>
<path class="c0" d="M35 191L101.2 155.3"/>
<path class="c1" d="M35 191L45.7 189.6"/>
<path class="c2" d="M35 191L56.3 179.4"/>
<path class="c3" d="M35 191L159.5 62.4"/>
<path class="c4" d="M35 191L127.7 126.8"/>
<path class="c5" d="M35 191L143.1 184.3"/>
<path class="c6" d="M35 191L144.9 46.2"/>
<path class="c7" d="M35 191L95.3 159.7"/>
<path class="c8" d="M35 191L132.3 82.4"/>
<path class="c9" d="M35 191L78.7 105.4"/>
<path class="c0" d="M35 191L50.2 158.9"/>
<path class="c1" d="M35 191L128.9 169.5"/>
<path class="c2" d="M35 191L61.3 179"/>
<path class="c3" d="M35 191L103.6 141.7"/>
<path class="c4" d="M35 191L54.5 102.2"/>
<path class="c5" d="M35 191L105.2 157.3"/>
<path class="c6" d="M35 191L167.6 145.6"/>
<path class="c7" d="M35 191L71.4 189.6"/>
<path class="c8" d="M35 191L49.7 173.4"/>
<path class="c9" d="M35 191L37.8 119.4"/>
<path class="c0" d="M35 191L39.3 183.7"/>
<path class="c1" d="M35 191L63.2 181.3"/>
<path class="c2" d="M35 191L37.4 187"/>
<path class="c3" d="M35 191L53.8 103.8"/>
<path class="c4" d="M35 191L117.8 67.4"/>
<path class="c5" d="M35 191L102.4 138.9"/>
<path class="c6" d="M35 191L102.2 184.8"/>
<path class="c7" d="M35 191L86.7 162.5"/>
<path class="c8" d="M35 191L136.5 144.6"/>
<path class="c9" d="M35 191L91.3 150.9"/>
<path class="c0" d="M35 191L66.3 182.8"/>
<path class="c1" d="M35 191L150.3 146.6"/>
<path class="c2" d="M35 191L97 155.1"/>
<path class="c3" d="M35 191L75.5 181.5"/>
<path class="c4" d="M35 191L58.4 146.2"/>
<path class="c5" d="M35 191L112.7 42.6"/>
<path class="c6" d="M35 191L106.8 141.7"/>
<path class="c7" d="M35 191L99.2 184.8"/>
<path class="c8" d="M35 191L87.3 186.6"/>
<path class="c9" d="M35 191L78.4 135.6"/>
<path class="c0" d="M35 191L121.8 143.7"/>
<path class="c1" d="M35 191L107.7 188.4"/>
<path class="c2" d="M35 191L42.3 149.7"/>
<path class="c3" d="M35 191L65.5 178.1"/>
<path class="c4" d="M35 191L87.9 175.5"/>
<path class="c5" d="M35 191L37.9 187"/>
<path class="c6" d="M35 191L78.2 164.1"/>
<path class="c7" d="M35 191L36.8 171.4"/>
<path class="c8" d="M35 191L60.5 153.6"/>
<path class="c9" d="M35 191L99.4 143.9"/>
<path class="c0" d="M35 191L50 184.2"/>
<path class="c1" d="M35 191L47.6 126.9"/>
<path class="c2" d="M35 191L54.5 58.6"/>
<path class="c3" d="M35 191L84.7 180.5"/>
<path class="c4" d="M35 191L103.9 155.7"/>
<path class="c5" d="M35 191L38.6 94.4"/>
<path class="c6" d="M35 191L122.4 164.5"/>
<path class="c7" d="M35 191L86.1 100.5"/>
<path class="c8" d="M35 191L81.5 190.9"/>
<path class="c9" d="M35 191L127.5 127"/>
<path class="c0" d="M35 191L67.9 159.6"/>
<path class="c1" d="M35 191L67 154.8"/>
<path class="c2" d="M35 191L48.1 175.6"/>
<path class="c3" d="M35 191L38.4 124.1"/>
<path class="c4" d="M35 191L45.4 184.9"/>
<path class="c5" d="M35 191L61.6 177.1"/>
<path class="c6" d="M35 191L51 161"/>
<path class="c7" d="M35 191L35.9 176.4"/>
<path class="c8" d="M35 191L71 182"/>
<path class="c9" d="M35 191L77.5 150.9"/>
<path class="c0" d="M35 191L118.7 137.6"/>
<path class="c1" d="M35 191L55.1 144.1"/>
<path class="c2" d="M35 191L118.1 159.5"/>
<path class="c3" d="M35 191L136 136"/>
<path class="c4" d="M35 191L141 83.4"/>
<path class="c5" d="M35 191L165.1 178.4"/>
<path class="c6" d="M35 191L63.1 186.6"/>
<path class="c7" d="M35 191L92.1 181.1"/>
<path class="c8" d="M35 191L55.5 137.7"/>
<path class="c9" d="M35 191L46.8 188"/>
<path class="c0" d="M35 191L62.7 61.1"/>
<path class="c1" d="M35 191L82.9 171.4"/>
<path class="c2" d="M35 191L57.1 126.2"/>
<path class="c3" d="M35 191L77.8 104"/>
<path class="c4" d="M35 191L71.8 116.2"/>
<path class="c5" d="M35 191L57.6 178.3"/>
<path class="c6" d="M35 191L39 175.6"/>
<path class="c7" d="M35 191L86 129.6"/>
<path class="c8" d="M35 191L53.8 154.2"/>
<path class="c9" d="M35 191L40 173"/>
<path class="c0" d="M35 191L101.9 178"/>
<path class="c1" d="M35 191L88.7 99.7"/>
<path class="c2" d="M35 191L183.4 147.9"/>
<path class="c3" d="M35 191L39.1 185.7"/>
<path class="c4" d="M35 191L39.8 90.7"/>
<path class="c5" d="M35 191L69 129.2"/>
<path class="c6" d="M35 191L78.9 125.7"/>
<path class="c7" d="M35 191L35.1 190.1"/>
<path class="c8" d="M35 191L62.5 189"/>
<path class="c9" d="M35 191L173 165.8"/>
<path class="c0" d="M35 191L59.5 179.5"/>
<path class="c1" d="M35 191L36.1 88.6"/>
<path class="c2" d="M35 191L181.9 109.6"/>
<path class="c3" d="M35 191L82.2 138.6"/>
<path class="c4" d="M35 191L115 139.3"/>
<path class="c5" d="M35 191L39.9 176.4"/>
<path class="c6" d="M35 191L98.3 161.6"/>
<path class="c7" d="M35 191L50.6 168.9"/>
<path class="c8" d="M35 191L36.8 131.8"/>
<path class="c9" d="M35 191L59.5 145.3"/>
<path class="c0" d="M35 191L70.7 84.1"/>
<path class="c1" d="M35 191L148.6 159.8"/>
<path class="c2" d="M35 191L43.7 110.4"/>
<path class="c3" d="M35 191L146.9 86.2"/>
<path class="c4" d="M35 191L185.3 109.6"/>
<path class="c5" d="M35 191L125.5 82.7"/>
<path class="c6" d="M35 191L92.8 106.9"/>
<path class="c7" d="M35 191L85.7 172.6"/>
<path class="c8" d="M35 191L123.1 135.6"/>
<path class="c9" d="M35 191L166.8 180.7"/>
<path class="c0" d="M35 191L47.9 117.1"/>
<path class="c1" d="M35 191L135.7 178.9"/>
<path class="c2" d="M35 191L35.2 190.8"/>
<path class="c3" d="M35 191L46.5 187.3"/>
<path class="c4" d="M35 191L96.3 134.3"/>
<path class="c5" d="M35 191L55.7 126.8"/>
<path class="c6" d="M35 191L80.5 187"/>
<path class="c7" d="M35 191L57.8 153.9"/>
<path class="c8" d="M35 191L40.2 188.6"/>
<path class="c9" d="M35 191L35.1 190.5"/>
<path class="c0" d="M35 191L50.6 178.4"/>
<path class="c1" d="M35 191L83.1 89.7"/>
<path class="c2" d="M35 191L139.2 186.7"/>
<path class="c3" d="M35 191L161.3 167.8"/>
<path class="c4" d="M35 191L58.6 176.5"/>
<path class="c5" d="M35 191L83.8 165.9"/>
<path class="c6" d="M35 191L130.9 189.5"/>
<path class="c7" d="M35 191L44.4 48.6"/>
<path class="c8" d="M35 191L51 174.1"/>
<path class="c9" d="M35 191L43.6 166.3"/>
<path class="c0" d="M35 191L53.8 177.7"/>
<path class="c1" d="M35 191L41.1 169.7"/>
<path class="c2" d="M35 191L37.4 83.8"/>
<path class="c3" d="M35 191L39.7 132.5"/>
<path class="c4" d="M35 191L79.9 103.7"/>
<path class="c5" d="M35 191L55.5 51.7"/>
<path class="c6" d="M35 191L109 99.3"/>
<path class="c7" d="M35 191L106 142.8"/>
<path class="c8" d="M35 191L45.8 173.5"/>
<path class="c9" d="M35 191L71.1 168.4"/>
<path class="c0" d="M35 191L119.1 140.2"/>
<path class="c1" d="M35 191L46 119.6"/>
<path class="c2" d="M35 191L108.8 180.3"/>
<path class="c3" d="M35 191L76.6 96.8"/>
<path class="c4" d="M35 191L55 145.5"/>
<path class="c5" d="M35 191L92.4 89.4"/>
<path class="c6" d="M35 191L143.6 173.3"/>
<path class="c7" d="M35 191L96.2 154.5"/>
<path class="c8" d="M35 191L86.5 190.3"/>
<path class="c9" d="M35 191L113.5 135"/>
<path class="c0" d="M35 191L38.8 186.9"/>
<path class="c1" d="M35 191L45.3 187.7"/>
<path class="c2" d="M35 191L57.9 178.7"/>
<path class="c3" d="M35 191L36.1 190.8"/>
<path class="c4" d="M35 191L38.4 188.4"/>
<path class="c5" d="M35 191L95 170.1"/>
<path class="c6" d="M35 191L86.8 89.9"/>
<path class="c7" d="M35 191L64.8 177.8"/>
<path class="c8" d="M35 191L40.9 121.7"/>
<path class="c9" d="M35 191L102.7 171.5"/>
<path class="c0" d="M35 191L36.6 94.5"/>
<path class="c1" d="M35 191L80.2 123"/>
<path class="c2" d="M35 191L96.2 95.9"/>
<path class="c3" d="M35 191L42.2 180.8"/>
<path class="c4" d="M35 191L43.3 155.7"/>
<path class="c5" d="M35 191L76.2 150.4"/>
<path class="c6" d="M35 191L49.8 188.4"/>
<path class="c7" d="M35 191L66.2 133.7"/>
<path class="c8" d="M35 191L72 129"/>
<path class="c9" d="M35 191L129.1 127.9"/>
<path class="c0" d="M35 191L67 148.1"/>
<path class="c1" d="M35 191L169.5 53.9"/>
<path class="c2" d="M35 191L74.9 132.5"/>
<path class="c3" d="M35 191L65.8 150.7"/>
<path class="c4" d="M35 191L46 92.2"/>
<path class="c5" d="M35 191L35.6 190.4"/>
<path class="c6" d="M35 191L69.5 114.2"/>
<path class="c7" d="M35 191L35.4 190.1"/>
<path class="c8" d="M35 191L47.4 182.2"/>
<path class="c9" d="M35 191L35.9 190.8"/>
<path class="c0" d="M35 191L123.1 107.8"/>
<path class="c1" d="M35 191L43.8 157.7"/>
<path class="c2" d="M35 191L36.5 176.6"/>
<path class="c3" d="M35 191L51.7 141.6"/>
<path class="c4" d="M35 191L40.6 164.6"/>
<path class="c5" d="M35 191L51.9 184.2"/>
<path class="c6" d="M35 191L82.6 151"/>
<path class="c7" d="M35 191L55.8 96.6"/>
<path class="c8" d="M35 191L68.4 175.8"/>
<path class="c9" d="M35 191L79.9 185.9"/>
<path class="c0" d="M35 191L53.6 139"/>
<path class="c1" d="M35 191L52.5 184.2"/>
<path class="c2" d="M35 191L40 170.2"/>
<path class="c3" d="M35 191L42.4 182.7"/>
<path class="c4" d="M35 191L71 85.1"/>
<path class="c5" d="M35 191L157.7 113.8"/>
<path class="c6" d="M35 191L107.8 186.9"/>
<path class="c7" d="M35 191L38.3 176.3"/>
<path class="c8" d="M35 191L134.8 172.9"/>
<path class="c9" d="M35 191L49.2 181.3"/>
<path class="c0" d="M35 191L41.3 182.1"/>
<path class="c1" d="M35 191L36.1 190.9"/>
<path class="c2" d="M35 191L69.4 179.7"/>
<path class="c3" d="M35 191L40 166.3"/>
<path class="c4" d="M35 191L65.5 181.5"/>
<path class="c5" d="M35 191L192.9 67.7"/>
<path class="c6" d="M35 191L112.5 146.5"/>
<path class="c7" d="M35 191L91.4 107.6"/>
<path class="c8" d="M35 191L56.7 161.6"/>
<path class="c9" d="M35 191L143.2 160.3"/>
<path class="c0" d="M35 191L64.8 135.5"/>
<path class="c1" d="M35 191L149.1 168.2"/>
<path class="c2" d="M35 191L38.4 155.8"/>
<path class="c3" d="M35 191L134.6 130.1"/>
<path class="c4" d="M35 191L35.2 164.6"/>
<path class="c5" d="M35 191L66.5 121.3"/>
<path class="c6" d="M35 191L97.3 158.9"/>
<path class="c7" d="M35 191L70.3 183"/>
<path class="c8" d="M35 191L52 177.9"/>
<path class="c9" d="M35 191L93.7 148.3"/>
<path class="c0" d="M35 191L39.9 186.1"/>
<path class="c1" d="M35 191L63.6 174.2"/>
<path class="c2" d="M35 191L74.6 176.1"/>
<path class="c3" d="M35 191L46.1 185.8"/>
<path class="c4" d="M35 191L47.8 185"/>
<path class="c5" d="M35 191L67.7 133.9"/>
<path class="c6" d="M35 191L41.6 130"/>
<path class="c7" d="M35 191L52.2 151.9"/>
<path class="c8" d="M35 191L168.3 80.9"/>
<path class="c9" d="M35 191L120 127.1"/>
<path class="c0" d="M35 191L39.1 187.7"/>
<path class="c1" d="M35 191L63.3 177.3"/>
<path class="c2" d="M35 191L86.7 102.2"/>
<path class="c3" d="M35 191L150.3 106.4"/>
<path class="c4" d="M35 191L49.1 108.2"/>
<path class="c5" d="M35 191L110.1 134.2"/>
<path class="c6" d="M35 191L39 177.6"/>
<path class="c7" d="M35 191L70.4 145"/>
<path class="c8" d="M35 191L44.3 189.6"/>
<path class="c9" d="M35 191L104.7 181.5"/>
<path class="c0" d="M35 191L62 173.5"/>
<path class="c1" d="M35 191L77.8 118.3"/>
<path class="c2" d="M35 191L35.7 186.8"/>
<path class="c3" d="M35 191L71.2 189.7"/>
<path class="c4" d="M35 191L104.9 129.4"/>
<path class="c5" d="M35 191L112.1 123.9"/>
<path class="c6" d="M35 191L57.8 152"/>
<path class="c7" d="M35 191L35.1 189.1"/>
<path class="c8" d="M35 191L35.7 132.8"/>
<path class="c9" d="M35 191L44.5 157.6"/>
<path class="c0" d="M35 191L35.1 190.8"/>
<path class="c1" d="M35 191L91.4 185.2"/>
<path class="c2" d="M35 191L69.4 166.6"/>
<path class="c3" d="M35 191L35.9 190.7"/>
<path class="c4" d="M35 191L100.2 169.4"/>
<path class="c5" d="M35 191L98.9 176.8"/>
<path class="c6" d="M35 191L89.7 67.1"/>
<path class="c7" d="M35 191L68 182.4"/>
<path class="c8" d="M35 191L51.9 166.5"/>
<path class="c9" d="M35 191L51.5 184.2"/>
<path class="c0" d="M35 191L44.6 170.2"/>
<path class="c1" d="M35 191L89.8 180.9"/>
<path class="c2" d="M35 191L47.9 190.7"/>
<path class="c3" d="M35 191L35.8 182.4"/>
<path class="c4" d="M35 191L107.1 188.3"/>
<path class="c5" d="M35 191L77.3 145"/>
<path class="c6" d="M35 191L54.5 187.7"/>
<path class="c7" d="M35 191L84.3 166.4"/>
<path class="c8" d="M35 191L77.7 182.8"/>
<path class="c9" d="M35 191L156.6 166.6"/>
<path class="c0" d="M35 191L110.4 114.8"/>
<path class="c1" d="M35 191L67.8 103.5"/>
<path class="c2" d="M35 191L173.9 88.3"/>
<path class="c3" d="M35 191L89.5 172.2"/>
<path class="c4" d="M35 191L82.9 135"/>
<path class="c5" d="M35 191L63.4 75.5"/>
<path class="c6" d="M35 191L60.6 87.5"/>
<path class="c7" d="M35 191L37.1 147.4"/>
<path class="c8" d="M35 191L74.4 162.6"/>
<path class="c9" d="M35 191L35.7 187.9"/>
<path class="c0" d="M35 191L51.3 187.1"/>
<path class="c1" d="M35 191L47.4 163.8"/>
<path class="c2" d="M35 191L81.3 179.7"/>
<path class="c3" d="M35 191L153.1 185.8"/>
<path class="c4" d="M35 191L37.9 189.5"/>
<path class="c5" d="M35 191L44 177"/>
<path class="c6" d="M35 191L97.7 186.6"/>
<path class="c7" d="M35 191L121.1 180.7"/>
<path class="c8" d="M35 191L42.2 189.8"/>
<path class="c9" d="M35 191L87.7 161.9"/>
<path class="c0" d="M35 191L41.4 180.7"/>
<path class="c1" d="M35 191L38.4 151.5"/>
<path class="c2" d="M35 191L43.3 182.9"/>
<path class="c3" d="M35 191L117 134.1"/>
<path class="c4" d="M35 191L73.3 105.3"/>
<path class="c5" d="M35 191L97 151.7"/>
<path class="c6" d="M35 191L104.7 128"/>
<path class="c7" d="M35 191L94.2 144.8"/>
<path class="c8" d="M35 191L50.2 189.9"/>
<path class="c9" d="M35 191L83.2 186.4"/>
<path class="c0" d="M35 191L91.2 127.6"/>
<path class="c1" d="M35 191L148.7 150.7"/>
<path class="c2" d="M35 191L114.1 140.2"/>
<path class="c3" d="M35 191L124.6 108.2"/>
<path class="c4" d="M35 191L57.5 138.4"/>
<path class="c5" d="M35 191L99.1 190.1"/>
<path class="c6" d="M35 191L42.9 45.8"/>
<path class="c7" d="M35 191L37.7 187.5"/>
<path class="c8" d="M35 191L75.7 165.4"/>
<path class="c9" d="M35 191L116.1 139.4"/>
<path class="c0" d="M35 191L64.7 150"/>
<path class="c1" d="M35 191L86.1 164.2"/>
<path class="c2" d="M35 191L56.6 169"/>
<path class="c3" d="M35 191L157.8 181"/>
<path class="c4" d="M35 191L114.9 158.5"/>
<path class="c5" d="M35 191L55.6 130.7"/>
<path class="c6" d="M35 191L49.3 128.9"/>
<path class="c7" d="M35 191L64.7 177.1"/>
<path class="c8" d="M35 191L36.4 190.8"/>
<path class="c9" d="M35 191L55.5 117.5"/>
<path class="c0" d="M35 191L51.5 182.3"/>
<path class="c1" d="M35 191L47.3 156.5"/>
<path class="c2" d="M35 191L57.3 189.1"/>
<path class="c3" d="M35 191L72 188.3"/>
<path class="c4" d="M35 191L40.6 184.6"/>
<path class="c5" d="M35 191L133.4 41"/>
<path class="c6" d="M35 191L37.3 169.6"/>
<path class="c7" d="M35 191L62.8 129.4"/>
<path class="c8" d="M35 191L35.8 189.6"/>
<path class="c9" d="M35 191L51.1 72.2"/>
<path class="c0" d="M35 191L56.5 132.6"/>
<path class="c1" d="M35 191L63.4 123.9"/>
<path class="c2" d="M35 191L95.5 141.1"/>
<path class="c3" d="M35 191L110.5 177.2"/>
<path class="c4" d="M35 191L93.2 63.3"/>
<path class="c5" d="M35 191L50.1 188.3"/>
<path class="c6" d="M35 191L62.2 145.3"/>
<path class="c7" d="M35 191L149.2 171"/>
<path class="c8" d="M35 191L39 188.9"/>
<path class="c9" d="M35 191L40.9 184.1"/>
<path class="c0" d="M35 191L94.2 171.2"/>
<path class="c1" d="M35 191L48.2 176.7"/>
<path class="c2" d="M35 191L46.3 188.8"/>
<path class="c3" d="M35 191L178.8 62.9"/>
<path class="c4" d="M35 191L104.5 136.6"/>
<path class="c5" d="M35 191L38.7 184.6"/>
<path class="c6" d="M35 191L63.8 163.5"/>
<path class="c7" d="M35 191L56.3 176.6"/>
<path class="c8" d="M35 191L59.2 187.1"/>
<path class="c9" d="M35 191L74.8 180.6"/>
<path class="c0" d="M35 191L103.7 169.1"/>
<path class="c1" d="M35 191L104.4 173.2"/>
<path class="c2" d="M35 191L72.7 141.9"/>
<path class="c3" d="M35 191L78.8 161.2"/>
<path class="c4" d="M35 191L52.9 122.2"/>
<path class="c5" d="M35 191L77.5 137.1"/>
<path class="c6" d="M35 191L37.1 123.7"/>
<path class="c7" d="M35 191L82.9 100.6"/>
<path class="c8" d="M35 191L59.3 180.7"/>
<path class="c9" d="M35 191L105 104.6"/>
<path class="c0" d="M35 191L51.2 189.4"/>
<path class="c1" d="M35 191L62.7 172.9"/>
<path class="c2" d="M35 191L73.6 160.7"/>
<path class="c3" d="M35 191L36.8 188.9"/>
<path class="c4" d="M35 191L42.9 137.6"/>
<path class="c5" d="M35 191L124.1 107.9"/>
<path class="c6" d="M35 191L84.8 72.6"/>
<path class="c7" d="M35 191L48.7 184.1"/>
<path class="c8" d="M35 191L64 189.4"/>
<path class="c9" d="M35 191L72.3 146"/>
<path class="c0" d="M35 191L142.4 130.8"/>
<path class="c1" d="M35 191L36.6 170.9"/>
<path class="c2" d="M35 191L73.6 71.9"/>
<path class="c3" d="M35 191L68.6 98.5"/>
<path class="c4" d="M35 191L79.9 176.9"/>
<path class="c5" d="M35 191L118.3 75.9"/>
<path class="c6" d="M35 191L51.4 149.8"/>
<path class="c7" d="M35 191L36.1 184.6"/>
<path class="c8" d="M35 191L73 121.5"/>
<path class="c9" d="M35 191L36.9 166.6"/>
<path class="c0" d="M35 191L47.6 185"/>
<path class="c1" d="M35 191L74.9 106.3"/>
<path class="c2" d="M35 191L177.6 133.8"/>
<path class="c3" d="M35 191L112.7 106.1"/>
<path class="c4" d="M35 191L119.7 150.2"/>
<path class="c5" d="M35 191L87.5 180.3"/>
<path class="c6" d="M35 191L113.3 156.3"/>
<path class="c7" d="M35 191L83.3 169.1"/>
<path class="c8" d="M35 191L55.9 89.9"/>
<path class="c9" d="M35 191L38 178.2"/>
<path class="c0" d="M35 191L68.6 144.7"/>
<path class="c1" d="M35 191L56.4 144.1"/>
<path class="c2" d="M35 191L39.4 183.7"/>
<path class="c3" d="M35 191L67.3 105.8"/>
<path class="c4" d="M35 191L40.7 190.5"/>
<path class="c5" d="M35 191L55.2 178.4"/>
<path class="c6" d="M35 191L89.3 170.7"/>
<path class="c7" d="M35 191L61.3 174.2"/>
<path class="c8" d="M35 191L39.2 144.6"/>
<path class="c9" d="M35 191L94.6 119.6"/>
<path class="c0" d="M35 191L39.2 189.4"/>
<path class="c1" d="M35 191L40.3 190.1"/>
<path class="c2" d="M35 191L114.2 62.1"/>
<path class="c3" d="M35 191L53 78.4"/>
<path class="c4" d="M35 191L130.4 76.9"/>
<path class="c5" d="M35 191L36.3 121.3"/>
<path class="c6" d="M35 191L61.6 64.1"/>
<path class="c7" d="M35 191L112.3 61"/>
<path class="c8" d="M35 191L78.2 189"/>
<path class="c9" d="M35 191L35.8 163.9"/>
<path class="c0" d="M35 191L39.6 171.6"/>
<path class="c1" d="M35 191L152 69.5"/>
<path class="c2" d="M35 191L126.3 94.4"/>
<path class="c3" d="M35 191L99.8 122.5"/>
<path class="c4" d="M35 191L128.6 100.3"/>
<path class="c5" d="M35 191L66.8 129.1"/>
<path class="c6" d="M35 191L158.6 76"/>
<path class="c7" d="M35 191L78.5 150.5"/>
<path class="c8" d="M35 191L36.8 151.4"/>
<path class="c9" d="M35 191L113 174.7"/>
<path class="c0" d="M35 191L63.6 174.8"/>
<path class="c1" d="M35 191L35.2 189.1"/>
<path class="c2" d="M35 191L35.5 184.9"/>
<path class="c3" d="M35 191L36.3 185.4"/>
<path class="c4" d="M35 191L88.1 189.4"/>
<path class="c5" d="M35 191L58.3 160.7"/>
<path class="c6" d="M35 191L62.4 152.7"/>
<path class="c7" d="M35 191L47.4 76.8"/>
<path class="c8" d="M35 191L38.3 187.6"/>
<path class="c9" d="M35 191L152.7 185.3"/>
<path class="c0" d="M35 191L35.8 187.3"/>
<path class="c1" d="M35 191L180.3 185.7"/>
<path class="c2" d="M35 191L43.3 161.7"/>
<path class="c3" d="M35 191L73.7 150.9"/>
<path class="c4" d="M35 191L42.3 173.4"/>
<path class="c5" d="M35 191L35.7 188.9"/>
<path class="c6" d="M35 191L52.1 128.9"/>
<path class="c7" d="M35 191L107.4 150"/>
<path class="c8" d="M35 191L56.7 190.5"/>
<path class="c9" d="M35 191L74.2 174.3"/>
<path class="c0" d="M35 191L102.5 119.8"/>
<path class="c1" d="M35 191L67.9 133.8"/>
<path class="c2" d="M35 191L45.1 187.2"/>
<path class="c3" d="M35 191L138.5 162.5"/>
<path class="c4" d="M35 191L86.3 170"/>
<path class="c5" d="M35 191L61.7 117.5"/>
<path class="c6" d="M35 191L66.7 178.9"/>
<path class="c7" d="M35 191L81.2 171.5"/>
<path class="c8" d="M35 191L45.6 186.6"/>
<path class="c9" d="M35 191L122.1 165.8"/>
<path class="c0" d="M35 191L108 154.6"/>
<path class="c1" d="M35 191L49.7 159.8"/>
<path class="c2" d="M35 191L51.2 145"/>
<path class="c3" d="M35 191L57.2 188.3"/>
<path class="c4" d="M35 191L123.6 156.2"/>
<path class="c5" d="M35 191L35.9 190.3"/>
<path class="c6" d="M35 191L107.5 144.6"/>
<path class="c7" d="M35 191L35.1 190.2"/>
<path class="c8" d="M35 191L149.3 113.7"/>
<path class="c9" d="M35 191L42.1 170.9"/>
<path class="c0" d="M35 191L54.6 179.8"/>
<path class="c1" d="M35 191L118.8 135.7"/>
<path class="c2" d="M35 191L53.7 166.5"/>
<path class="c3" d="M35 191L51.6 176"/>
<path class="c4" d="M35 191L87 189.9"/>
<path class="c5" d="M35 191L169.5 102"/>
<path class="c6" d="M35 191L49.1 89.2"/>
<path class="c7" d="M35 191L45.5 187.6"/>
<path class="c8" d="M35 191L35.4 185.5"/>
<path class="c9" d="M35 191L41.2 187.4"/>
<path class="c0" d="M35 191L61.6 185.1"/>
<path class="c1" d="M35 191L42.9 101"/>
<path class="c2" d="M35 191L65.4 184.6"/>
<path class="c3" d="M35 191L39.8 166.3"/>
<path class="c4" d="M35 191L39.3 138.8"/>
<path class="c5" d="M35 191L152.6 115.3"/>
<path class="c6" d="M35 191L40.2 188.7"/>
<path class="c7" d="M35 191L135.4 180"/>
<path class="c8" d="M35 191L173.2 109.4"/>
<path class="c9" d="M35 191L133.6 140.9"/>
<path class="c0" d="M35 191L82.6 182"/>
<path class="c1" d="M35 191L73.3 148.7"/>
<path class="c2" d="M35 191L54.2 143.3"/>
<path class="c3" d="M35 191L44.8 76.5"/>
<path class="c4" d="M35 191L155 148.4"/>
<path class="c5" d="M35 191L57.1 179.7"/>
<path class="c6" d="M35 191L40.8 143.8"/>
<path class="c7" d="M35 191L107.4 172.9"/>
<path class="c8" d="M35 191L101.2 111.1"/>
<path class="c9" d="M35 191L35.8 188.6"/>
<path class="c0" d="M35 191L74.5 157.2"/>
<path class="c1" d="M35 191L48.8 136.6"/>
<path class="c2" d="M35 191L39.8 189.6"/>
<path class="c3" d="M35 191L39.7 58"/>
<path class="c4" d="M35 191L60.7 127.1"/>
<path class="c5" d="M35 191L140.3 182.6"/>
<path class="c6" d="M35 191L59 184.5"/>
<path class="c7" d="M35 191L178 143"/>
<path class="c8" d="M35 191L52.6 184.8"/>
<path class="c9" d="M35 191L67.4 159.6"/>
<path class="c0" d="M35 191L135.8 103.2"/>
<path class="c1" d="M35 191L114.3 189.2"/>
<path class="c2" d="M35 191L121.5 185.5"/>
<path class="c3" d="M35 191L83.6 121.8"/>
<path class="c4" d="M35 191L71.7 158.2"/>
<path class="c5" d="M35 191L104.9 154"/>
<path class="c6" d="M35 191L42.6 151.2"/>
<path class="c7" d="M35 191L83 155.2"/>
<path class="c8" d="M35 191L109.9 126.8"/>
<path class="c9" d="M35 191L46.9 106.2"/>
<path class="c0" d="M35 191L36.3 178.7"/>
<path class="c1" d="M35 191L54.3 90.9"/>
<path class="c2" d="M35 191L36.3 189.7"/>
<path class="c3" d="M35 191L134.6 143.8"/>
<path class="c4" d="M35 191L77.9 101.1"/>
<path class="c5" d="M35 191L118.5 85.1"/>
<path class="c6" d="M35 191L41.4 116.2"/>
<path class="c7" d="M35 191L64.9 186.5"/>
<path class="c8" d="M35 191L79.8 164.6"/>
<path class="c9" d="M35 191L41.7 184.6"/>
<path class="c0" d="M35 191L98.1 126.9"/>
<path class="c1" d="M35 191L87.3 190.9"/>
<path class="c2" d="M35 191L75.6 173.2"/>
<path class="c3" d="M35 191L72.9 134.5"/>
<path class="c4" d="M35 191L86.7 183.9"/>
<path class="c5" d="M35 191L69.4 159.4"/>
<path class="c6" d="M35 191L38.6 116.5"/>
<path class="c7" d="M35 191L162 87.9"/>
<path class="c8" d="M35 191L64.9 101.6"/>
<path class="c9" d="M35 191L40.2 172.6"/>
<path class="c0" d="M35 191L43.3 187.6"/>
<path class="c1" d="M35 191L93 133.9"/>
<path class="c2" d="M35 191L39.1 186.2"/>
<path class="c3" d="M35 191L87.2 141.8"/>
<path class="c4" d="M35 191L49.1 184.3"/>
<path class="c5" d="M35 191L104.5 122.8"/>
<path class="c6" d="M35 191L124.6 163.2"/>
<path class="c7" d="M35 191L39.9 173.2"/>
<path class="c8" d="M35 191L35.2 184.3"/>
<path class="c9" d="M35 191L45.4 172.2"/>
<path class="c0" d="M35 191L43.8 173.5"/>
<path class="c1" d="M35 191L68.4 90.4"/>
<path class="c2" d="M35 191L58.9 113.3"/>
<path class="c3" d="M35 191L41.8 188.3"/>
<path class="c4" d="M35 191L85.3 189.2"/>
<path class="c5" d="M35 191L54.5 179.7"/>
<path class="c6" d="M35 191L40.8 183"/>
<path class="c7" d="M35 191L38.5 159.1"/>
<path class="c8" d="M35 191L67.3 187.8"/>
<path class="c9" d="M35 191L36.6 190.7"/>
<path class="c9" d="M35 191L35 81.8"/>
<path class="c0" d="M35 191L50.7 116.3"/>
<path class="c1" d="M35 191L63 182.8"/>
<path class="c2" d="M35 191L35.5 189.7"/>
<path class="c3" d="M35 191L114 76.9"/>
<path class="c4" d="M35 191L97.3 58.8"/>
<path class="c5" d="M35 191L39.5 170.1"/>
<path class="c6" d="M35 191L39.1 179.7"/>
<path class="c7" d="M35 191L39.1 186"/>
<path class="c8" d="M35 191L69.5 138.3"/>
<path class="c9" d="M35 191L108.3 141.8"/>
<path class="c0" d="M35 191L140.9 187.3"/>
<path class="c1" d="M35 191L66 100.5"/>
<path class="c2" d="M35 191L48.1 170"/>
<path class="c3" d="M35 191L61.4 141.7"/>
<path class="c4" d="M35 191L117.8 147.4"/>
<path class="c5" d="M35 191L67.8 181.4"/>
<path class="c6" d="M35 191L37.8 185.9"/>
<path class="c7" d="M35 191L41.5 187.4"/>
<path class="c8" d="M35 191L45.9 115.3"/>
<path class="c9" d="M35 191L37.6 157"/>
<path class="c0" d="M35 191L36.2 171.9"/>
<path class="c1" d="M35 191L117.9 144.5"/>
<path class="c2" d="M35 191L83.7 140.2"/>
<path class="c3" d="M35 191L47.6 190.3"/>
<path class="c4" d="M35 191L84.1 137.7"/>
<path class="c5" d="M35 191L73 103.8"/>
<path class="c6" d="M35 191L74.7 178.5"/>
<path class="c7" d="M35 191L106 163.5"/>
<path class="c8" d="M35 191L170.9 176.4"/>
<path class="c9" d="M35 191L83.9 161.3"/>
<path class="c0" d="M35 191L37.7 158.9"/>
<path class="c1" d="M35 191L100.6 142.4"/>
<path class="c2" d="M35 191L86.7 171.5"/>
<path class="c3" d="M35 191L41.9 87.4"/>
<path class="c4" d="M35 191L66 166.7"/>
<path class="c5" d="M35 191L52.9 146.6"/>
<path class="c6" d="M35 191L38.6 185.5"/>
<path class="c7" d="M35 191L48.1 108.5"/>
<path class="c8" d="M35 191L35.2 190.8"/>
<path class="c9" d="M35 191L125.3 95.3"/>
<path class="c0" d="M35 191L87.5 58.5"/>
<path class="c1" d="M35 191L79.1 180.7"/>
<path class="c2" d="M35 191L60.5 179.7"/>
<path class="c3" d="M35 191L70.7 115.1"/>
<path class="c4" d="M35 191L48.4 157"/>
<path class="c5" d="M35 191L64 134.3"/>
<path class="c6" d="M35 191L156.3 95.8"/>
<path class="c7" d="M35 191L39 187.4"/>
<path class="c8" d="M35 191L58.2 63.6"/>
<path class="c7" d="M35 191L38 52.5"/>
<path class="c9" d="M35 191L119.7 181.8"/>
<path class="c0" d="M35 191L66.7 131.7"/>
<path class="c1" d="M35 191L95.2 179.1"/>
<path class="c2" d="M35 191L54.6 167"/>
<path class="c3" d="M35 191L70.2 165.9"/>
<path class="c4" d="M35 191L56.3 153.2"/>
<path class="c5" d="M35 191L62.8 189"/>
<path class="c6" d="M35 191L167.6 164.6"/>
<path class="c7" d="M35 191L186.8 55.2"/>
<path class="c8" d="M35 191L101 183.6"/>
<path class="c9" d="M35 191L153.4 86.7"/>
<path class="c0" d="M35 191L35.9 178.7"/>
<path class="c1" d="M35 191L75.1 153.7"/>
<path class="c2" d="M35 191L36.4 190.3"/>
<path class="c3" d="M35 191L112.9 176.6"/>
<path class="c4" d="M35 191L46.6 186.9"/>
<path class="c5" d="M35 191L94.6 131.5"/>
<path class="c6" d="M35 191L45.5 183.6"/>
<path class="c2" d="M35 191L41.5 22.5"/>
<path class="c7" d="M35 191L53.4 183.3"/>
<path class="c8" d="M35 191L64.3 133.2"/>
<path class="c9" d="M35 191L95.9 152.7"/>
<path class="c0" d="M35 191L113 125.6"/>
<path class="c1" d="M35 191L78.7 127.7"/>
<path class="c2" d="M35 191L55.8 180.6"/>
<path class="c3" d="M35 191L90.4 144.3"/>
<path class="c4" d="M35 191L45.8 136.3"/>
<path class="c5" d="M35 191L44.4 184.8"/>
<path class="c6" d="M35 191L35.7 173.1"/>
<path class="c7" d="M35 191L67.8 167.8"/>
<path class="c8" d="M35 191L70.2 111.6"/>
<path class="c9" d="M35 191L37.1 186.6"/>
<path class="c0" d="M35 191L54.8 158.9"/>
<path class="c1" d="M35 191L69.5 163.7"/>
<path class="c2" d="M35 191L55.3 183.7"/>
<path class="c3" d="M35 191L36.6 189.3"/>
<path class="c4" d="M35 191L62.7 175"/>
<path class="c5" d="M35 191L97.8 189.4"/>
<path class="c6" d="M35 191L68.8 105.6"/>
<path class="c7" d="M35 191L101.8 97.4"/>
<path class="c8" d="M35 191L35.6 190.6"/>
<path class="c9" d="M35 191L42.5 188.7"/>
<path class="c0" d="M35 191L76.7 187.2"/>
<path class="c1" d="M35 191L39.3 176.3"/>
<path class="c2" d="M35 191L76.9 162.2"/>
<path class="c3" d="M35 191L46.1 168.8"/>
<path class="c4" d="M35 191L53 149.3"/>
<path class="c5" d="M35 191L61.7 180.2"/>
<path class="c6" d="M35 191L73.7 145.4"/>
<path class="c4" d="M35 191L43.2 35.8"/>
<path class="c7" d="M35 191L37.1 92"/>
<path class="c7" d="M35 191L49.2 37.5"/>
<path class="c8" d="M35 191L62.6 116.3"/>
<path class="c9" d="M35 191L37.1 186.6"/>
<path class="c0" d="M35 191L76.5 172.4"/>
<path class="c1" d="M35 191L82.3 140.7"/>
<path class="c2" d="M35 191L70.5 181.7"/>
<path class="c3" d="M35 191L40.4 160.1"/>
<path class="c4" d="M35 191L52.4 182.8"/>
<path class="c5" d="M35 191L146.9 106.6"/>
<path class="c6" d="M35 191L76.6 134.3"/>
<path class="c7" d="M35 191L35.7 190.2"/>
<path class="c8" d="M35 191L38.4 186.9"/>
<path class="c9" d="M35 191L58 177.2"/>
<path class="c6" d="M35 191L67.5 15.5"/>
<path class="c0" d="M35 191L114.5 181.8"/>
<path class="c3" d="M35 191L70.8 16.2"/>
<path class="c1" d="M35 191L51 161.4"/>
<path class="c2" d="M35 191L53.8 125"/>
<path class="c3" d="M35 191L102.5 160.9"/>
<path class="c2" d="M35 191L65.5 26.2"/>
<path class="c4" d="M35 191L167.2 46.5"/>
<path class="c5" d="M35 191L69.1 168.9"/>
<path class="c6" d="M35 191L110.8 173.5"/>
<path class="c9" d="M35 191L60.8 36.2"/>
<path class="c7" d="M35 191L36.2 185.3"/>
<path class="c8" d="M35 191L131.2 152.3"/>
<path class="c9" d="M35 191L158 168.6"/>
<path class="c0" d="M35 191L43.4 166.6"/>
<path class="c1" d="M35 191L85.3 169.4"/>
<path class="c2" d="M35 191L112.8 45.3"/>
<path class="c3" d="M35 191L38.8 178.4"/>
<path class="c4" d="M35 191L61.8 182"/>
<path class="c5" d="M35 191L73.6 117.6"/>
<path class="c6" d="M35 191L52.8 101.5"/>
<path class="c6" d="M35 191L74.2 38"/>
<path class="c7" d="M35 191L111.7 122.3"/>
<path class="c8" d="M35 191L52.7 176.7"/>
<path class="c9" d="M35 191L66.6 152.6"/>
<path class="c0" d="M35 191L36.7 108.2"/>
<path class="c1" d="M35 191L70.3 178.5"/>
<path class="c2" d="M35 191L38.1 190.3"/>
<path class="c3" d="M35 191L94.5 156.6"/>
<path class="c4" d="M35 191L51.3 178.3"/>
<path class="c5" d="M35 191L39 162"/>
<path class="c9" d="M35 191L83.2 27"/>
<path class="c6" d="M35 191L103.4 172.7"/>
<path class="c7" d="M35 191L82.8 97.4"/>
<path class="c8" d="M35 191L37.1 179.9"/>
<path class="c9" d="M35 191L100.8 167.2"/>
<path class="c0" d="M35 191L60.3 181.8"/>
<path class="c1" d="M35 191L64.3 188.9"/>
<path class="c2" d="M35 191L49.6 189.6"/>
<path class="c3" d="M35 191L71.5 150.4"/>
<path class="c4" d="M35 191L173.3 170.7"/>
<path class="c9" d="M35 191L86.8 26.8"/>
<path class="c5" d="M35 191L36.4 190.2"/>
<path class="c6" d="M35 191L44.4 178.4"/>
<path class="c7" d="M35 191L155.1 179.5"/>
<path class="c8" d="M35 191L64.2 190.1"/>
<path class="c9" d="M35 191L115.7 168.7"/>
<path class="c0" d="M35 191L52.3 161.8"/>
<path class="c1" d="M35 191L90.1 161.3"/>
<path class="c2" d="M35 191L77.6 170.8"/>
<path class="c3" d="M35 191L106.4 147.6"/>
<path class="c4" d="M35 191L111.4 160.4"/>
<path class="c5" d="M35 191L180.7 129.5"/>
<path class="c6" d="M35 191L74.8 170.5"/>
<path class="c7" d="M35 191L146.3 142.4"/>
<path class="c8" d="M35 191L48.7 137.1"/>
<path class="c9" d="M35 191L107.8 117.6"/>
<path class="c0" d="M35 191L39.1 169"/>
<path class="c0" d="M35 191L91.2 40.8"/>
<path class="c1" d="M35 191L58 157.8"/>
<path class="c2" d="M35 191L62.7 139.8"/>
<path class="c3" d="M35 191L103 140.9"/>
<path class="c4" d="M35 191L87.7 139.1"/>
<path class="c5" d="M35 191L78 145.2"/>
<path class="c6" d="M35 191L38.4 181.4"/>
<path class="c7" d="M35 191L176.2 140.6"/>
<path class="c8" d="M35 191L175.8 121"/>
<path class="c9" d="M35 191L47.6 154.2"/>
<path class="c0" d="M35 191L130.3 146.4"/>
<path class="c1" d="M35 191L38.1 176.5"/>
<path class="c2" d="M35 191L51.5 161.5"/>
<path class="c3" d="M35 191L59.8 134.2"/>
<path class="c4" d="M35 191L81.5 158.5"/>
<path class="c5" d="M35 191L35.1 190.3"/>
<path class="c6" d="M35 191L36.9 176.9"/>
<path class="c7" d="M35 191L123.6 180.9"/>
<path class="c8" d="M35 191L36.9 149.4"/>
<path class="c9" d="M35 191L107.7 117"/>
<path class="c0" d="M35 191L45.8 143.3"/>
<path class="c1" d="M35 191L36.8 77.3"/>
<path class="c2" d="M35 191L99.4 176.1"/>
<path class="c3" d="M35 191L112 73.3"/>
<path class="c4" d="M35 191L39.5 185.6"/>
<path class="c5" d="M35 191L57.8 172.9"/>
<path class="c6" d="M35 191L67 149.3"/>
<path class="c7" d="M35 191L88.9 176.4"/>
<path class="c2" d="M35 191L100.8 33.2"/>
<path class="c8" d="M35 191L39.8 161.4"/>
<path class="c9" d="M35 191L90.1 172"/>
<path class="c0" d="M35 191L99.7 118.8"/>
<path class="c1" d="M35 191L63.9 155"/>
<path class="c2" d="M35 191L129 188.4"/>
<path class="c3" d="M35 191L93.2 96.4"/>
<path class="c4" d="M35 191L57.4 188.5"/>
<path class="c6" d="M35 191L111.2 32"/>
<path class="c5" d="M35 191L38.8 188.9"/>
<path class="c6" d="M35 191L136.2 72.5"/>
<path class="c7" d="M35 191L91.8 104.9"/>
<path class="c8" d="M35 191L43 165.2"/>
<path class="c9" d="M35 191L89.4 58.6"/>
<path class="c8" d="M35 191L103.2 40"/>
<path class="c0" d="M35 191L53.9 190"/>
<path class="c1" d="M35 191L129.8 170.3"/>
<path class="c2" d="M35 191L140.3 186.2"/>
<path class="c3" d="M35 191L38.7 187.7"/>
<path class="c4" d="M35 191L120.5 145.1"/>
<path class="c5" d="M35 191L63 92.7"/>
<path class="c6" d="M35 191L60.3 152.9"/>
<path class="c7" d="M35 191L48.4 63.2"/>
<path class="c8" d="M35 191L91 124.6"/>
<path class="c9" d="M35 191L60.1 105.2"/>
<path class="c0" d="M35 191L84.2 91.5"/>
<path class="c1" d="M35 191L37.7 188.4"/>
<path class="c2" d="M35 191L113.3 160.9"/>
<path class="c3" d="M35 191L38.9 161.8"/>
<path class="c4" d="M35 191L135.1 180.9"/>
<path class="c5" d="M35 191L111.6 161.9"/>
<path class="c6" d="M35 191L42.1 163.1"/>
<path class="c7" d="M35 191L35.9 162.4"/>
<path class="c8" d="M35 191L80.8 123.7"/>
<path class="c9" d="M35 191L60.4 139"/>
<path class="c0" d="M35 191L87.7 186.3"/>
<path class="c1" d="M35 191L84 158.2"/>
<path class="c2" d="M35 191L182.1 180"/>
<path class="c3" d="M35 191L36.7 129.5"/>
<path class="c4" d="M35 191L142.9 131.2"/>
<path class="c5" d="M35 191L40.9 183.3"/>
<path class="c6" d="M35 191L84.3 177"/>
<path class="c7" d="M35 191L56 170.6"/>
<path class="c8" d="M35 191L109.7 101.8"/>
<path class="c9" d="M35 191L59.9 183.6"/>
<path class="c0" d="M35 191L47.3 189.5"/>
<path class="c1" d="M35 191L134.9 185.9"/>
<path class="c2" d="M35 191L49.3 178.5"/>
<path class="c3" d="M35 191L51.9 166.9"/>
<path class="c4" d="M35 191L45.6 164.9"/>
<path class="c5" d="M35 191L51.2 189.7"/>
<path class="c6" d="M35 191L137.4 167.5"/>
<path class="c7" d="M35 191L182 182.6"/>
<path class="c8" d="M35 191L48 126.6"/>
<path class="c9" d="M35 191L172.7 172.7"/>
<path class="c0" d="M35 191L44.7 152.6"/>
<path class="c1" d="M35 191L53 58.9"/>
<path class="c6" d="M35 191L125.8 13.8"/>
<path class="c2" d="M35 191L115.9 176.9"/>
<path class="c3" d="M35 191L146.5 157.5"/>
<path class="c4" d="M35 191L68.3 180.4"/>
<path class="c5" d="M35 191L134.9 164.7"/>
<path class="c6" d="M35 191L95.8 124.9"/>
<path class="c7" d="M35 191L77.2 181.2"/>
<path class="c8" d="M35 191L97.6 128.6"/>
<path class="c9" d="M35 191L174.6 65.9"/>
<path class="c0" d="M35 191L105.3 92.1"/>
<path class="c1" d="M35 191L194.2 100.9"/>
<path class="c2" d="M35 191L42.1 152"/>
<path class="c3" d="M35 191L82.8 158.1"/>
<path class="c4" d="M35 191L45 88.5"/>
<path class="c5" d="M35 191L63.7 171.9"/>
<path class="c6" d="M35 191L63.7 172.6"/>
<path class="c7" d="M35 191L54.6 59.6"/>
<path class="c8" d="M35 191L112.7 154.8"/>
<path class="c9" d="M35 191L43.5 171.1"/>
<path class="c0" d="M35 191L38.5 184.3"/>
<path class="c1" d="M35 191L97.6 172.7"/>
<path class="c2" d="M35 191L40.2 169.7"/>
<path class="c3" d="M35 191L36.8 190.7"/>
<path class="c4" d="M35 191L40.4 178.9"/>
<path class="c5" d="M35 191L74.8 166.3"/>
<path class="c6" d="M35 191L35.6 182.7"/>
<path class="c7" d="M35 191L43 181.1"/>
<path class="c8" d="M35 191L35 177.9"/>
<path class="c9" d="M35 191L37.2 187.5"/>
<path class="c0" d="M35 191L97.6 177"/>
<path class="c1" d="M35 191L128.3 79.9"/>
<path class="c2" d="M35 191L83.1 60.5"/>
<path class="c3" d="M35 191L91.4 107.8"/>
<path class="c4" d="M35 191L73.5 170.2"/>
<path class="c5" d="M35 191L90.5 174.3"/>
<path class="c6" d="M35 191L35.3 189.9"/>
<path class="c7" d="M35 191L101.1 162.9"/>
<path class="c8" d="M35 191L88.1 92.2"/>
<path class="c9" d="M35 191L58.5 96.3"/>
<path class="c0" d="M35 191L97.3 118.5"/>
<path class="c1" d="M35 191L110.6 190.8"/>
<path class="c2" d="M35 191L35.7 190.7"/>
<path class="c3" d="M35 191L121.5 59.6"/>
<path class="c4" d="M35 191L79.5 100.6"/>
<path class="c5" d="M35 191L60.9 167.2"/>
<path class="c6" d="M35 191L36.3 185.4"/>
<path class="c7" d="M35 191L113.9 131.3"/>
<path class="c8" d="M35 191L114.9 135.1"/>
<path class="c9" d="M35 191L59.6 135.3"/>
<path class="c0" d="M35 191L94.3 84"/>
<path class="c1" d="M35 191L36.1 188.1"/>
<path class="c2" d="M35 191L70.8 179.5"/>
<path class="c3" d="M35 191L173.1 156.1"/>
<path class="c4" d="M35 191L138.6 114.4"/>
<path class="c5" d="M35 191L54.7 148.5"/>
<path class="c6" d="M35 191L36.6 188.2"/>
<path class="c3" d="M35 191L126.2 33.8"/>
<path class="c7" d="M35 191L156.1 180.2"/>
<path class="c8" d="M35 191L92 187.9"/>
<path class="c9" d="M35 191L43.7 161.2"/>
<path class="c1" d="M35 191L130.5 38"/>
<path class="c0" d="M35 191L46.4 178.1"/>
<path class="c1" d="M35 191L154.5 114.1"/>
<path class="c2" d="M35 191L131.2 42.9"/>
<path class="c3" d="M35 191L172.3 140.7"/>
<path class="c4" d="M35 191L162.1 158.9"/>
<path class="c5" d="M35 191L136.8 81.7"/>
<path class="c6" d="M35 191L47 174.7"/>
<path class="c7" d="M35 191L150.8 123.4"/>
<path class="c8" d="M35 191L50 165.3"/>
<path class="c9" d="M35 191L43.1 148.2"/>
<path class="c0" d="M35 191L44.9 178.5"/>
<path class="c1" d="M35 191L36.3 188.8"/>
<path class="c2" d="M35 191L55.3 181.4"/>
<path class="c3" d="M35 191L72.3 135.3"/>
<path class="c4" d="M35 191L89.8 190.1"/>
<path class="c5" d="M35 191L72.5 175"/>
<path class="c6" d="M35 191L82.3 143.6"/>
<path class="c7" d="M35 191L147.4 180.9"/>
<path class="c8" d="M35 191L57.4 160.3"/>
<path class="c9" d="M35 191L35.3 173.8"/>
<path class="c0" d="M35 191L90.2 164.7"/>
<path class="c1" d="M35 191L52.2 174"/>
<path class="c2" d="M35 191L42.3 185.9"/>
<path class="c3" d="M35 191L98.6 132.2"/>
<path class="c4" d="M35 191L104.7 127.5"/>
<path class="c5" d="M35 191L165.1 99.2"/>
<path class="c6" d="M35 191L96.2 83.6"/>
<path class="c7" d="M35 191L94.8 177.1"/>
<path class="c8" d="M35 191L51.5 168.8"/>
<path class="c9" d="M35 191L116.7 124.3"/>
<path class="c0" d="M35 191L45.3 184.5"/>
<path class="c1" d="M35 191L183.5 140.8"/>
<path class="c2" d="M35 191L44.5 140"/>
<path class="c3" d="M35 191L144 168.7"/>
<path class="c4" d="M35 191L39 168.6"/>
<path class="c5" d="M35 191L66.4 187.9"/>
<path class="c6" d="M35 191L90.2 172.3"/>
<path class="c7" d="M35 191L135.4 54.4"/>
<path class="c8" d="M35 191L42.1 123"/>
<path class="c9" d="M35 191L55 186.5"/>
<path class="c0" d="M35 191L175.8 167.3"/>
<path class="c1" d="M35 191L69.7 135.6"/>
<path class="c2" d="M35 191L38 172.7"/>
<path class="c3" d="M35 191L166.2 148.1"/>
<path class="c4" d="M35 191L76 135.6"/>
<path class="c5" d="M35 191L42.3 187.4"/>
<path class="c6" d="M35 191L68 180.1"/>
<path class="c7" d="M35 191L41.9 190.2"/>
<path class="c8" d="M35 191L37.8 156.8"/>
<path class="c9" d="M35 191L61 177.1"/>
<path class="c0" d="M35 191L37.8 173.1"/>
<path class="c1" d="M35 191L86.3 187.8"/>
<path class="c2" d="M35 191L79.9 181.2"/>
<path class="c3" d="M35 191L35.9 179.8"/>
<path class="c4" d="M35 191L77.7 173.9"/>
<path class="c5" d="M35 191L137.4 136.8"/>
<path class="c6" d="M35 191L44.8 168.6"/>
<path class="c7" d="M35 191L97 155.8"/>
<path class="c8" d="M35 191L48.7 165.3"/>
<path class="c9" d="M35 191L150.7 90.7"/>
<path class="c0" d="M35 191L138 175.8"/>
<path class="c1" d="M35 191L49.7 140.1"/>
<path class="c2" d="M35 191L79.9 121.1"/>
<path class="c3" d="M35 191L139.4 124.6"/>
<path class="c4" d="M35 191L36.4 156"/>
<path class="c5" d="M35 191L63 185.4"/>
<path class="c6" d="M35 191L63.8 152.8"/>
<path class="c7" d="M35 191L49.9 152.7"/>
<path class="c8" d="M35 191L35.5 188.4"/>
<path class="c9" d="M35 191L70.3 165.5"/>
<path class="c0" d="M35 191L99.7 149.1"/>
<path class="c1" d="M35 191L70.1 168.9"/>
<path class="c2" d="M35 191L107.5 147.4"/>
<path class="c3" d="M35 191L39.6 172.9"/>
<path class="c4" d="M35 191L43.2 176.7"/>
<path class="c5" d="M35 191L70.9 166.8"/>
<path class="c6" d="M35 191L107.9 161.5"/>
<path class="c7" d="M35 191L53.6 188.1"/>
<path class="c8" d="M35 191L44.4 117.6"/>
<path class="c9" d="M35 191L153.7 113"/>
<path class="c0" d="M35 191L69.6 183.4"/>
<path class="c1" d="M35 191L55.8 72.7"/>
<path class="c2" d="M35 191L56.4 182.2"/>
<path class="c6" d="M35 191L146.8 27.5"/>
<path class="c3" d="M35 191L45.5 187.2"/>
<path class="c4" d="M35 191L90.6 157.6"/>
<path class="c5" d="M35 191L111.9 166.5"/>
<path class="c6" d="M35 191L120.4 125.7"/>
<path class="c7" d="M35 191L102.2 46.9"/>
<path class="c8" d="M35 191L47 172.6"/>
<path class="c9" d="M35 191L133.3 137.2"/>
<path class="c8" d="M35 191L167 25.8"/>
<path class="c0" d="M35 191L160.4 167.8"/>
<path class="c1" d="M35 191L48.5 152.2"/>
<path class="c0" d="M35 191L160 31.2"/>
<path class="c2" d="M35 191L92.8 189.7"/>
<path class="c3" d="M35 191L92.5 114.3"/>
<path class="c4" d="M35 191L97.1 187.7"/>
<path class="c5" d="M35 191L37.5 189.5"/>
<path class="c6" d="M35 191L42.1 186.6"/>
<path class="c7" d="M35 191L43.9 150.1"/>
<path class="c8" d="M35 191L52.5 187.6"/>
<path class="c4" d="M35 191L184.5 30"/>
<path class="c9" d="M35 191L79.5 184.8"/>
<path class="c0" d="M35 191L156.8 172.8"/>
<path class="c1" d="M35 191L144.5 110.9"/>
<path class="c2" d="M35 191L35.5 153.4"/>
<path class="c3" d="M35 191L35.6 187.4"/>
<path class="c4" d="M35 191L49.1 156.8"/>
<path class="c5" d="M35 191L55.6 172.6"/>
<path class="c6" d="M35 191L97.3 85.1"/>
<path class="c7" d="M35 191L91.8 130.3"/>
<path class="c8" d="M35 191L60.5 165"/>
<path class="c9" d="M35 191L58.5 148"/>
<path class="c0" d="M35 191L40.6 175.1"/>
<path class="c1" d="M35 191L143.5 175.6"/>
<path class="c2" d="M35 191L140.9 183.4"/>
<path class="c3" d="M35 191L39.7 120.4"/>
<path class="c4" d="M35 191L92.1 145.3"/>
<path class="c5" d="M35 191L104 108.8"/>
<path class="c6" d="M35 191L62.5 117.3"/>
<path class="c7" d="M35 191L39.5 173.3"/>
<path class="c8" d="M35 191L81 190.9"/>
<path class="c9" d="M35 191L45.5 189.5"/>
<path class="c0" d="M35 191L120.1 182"/>
<path class="c1" d="M35 191L50.7 150.8"/>
<path class="c2" d="M35 191L72.3 128.2"/>
<path class="c3" d="M35 191L124.1 98.6"/>
<path class="c4" d="M35 191L122 115.9"/>
<path class="c5" d="M35 191L103 72.8"/>
<path class="c6" d="M35 191L130.7 170.6"/>
<path class="c7" d="M35 191L72.5 150.6"/>
<path class="c8" d="M35 191L36.1 191"/>
<path class="c9" d="M35 191L52.9 125.1"/>
<path class="c0" d="M35 191L50.5 187.1"/>
<path class="c1" d="M35 191L38.4 99.9"/>
<path class="c2" d="M35 191L41.9 174.4"/>
<path class="c3" d="M35 191L43.9 103.4"/>
<path class="c2" d="M35 191L192 35"/>
<path class="c4" d="M35 191L138.2 171.8"/>
<path class="c5" d="M35 191L43.5 187.9"/>
<path class="c6" d="M35 191L42.5 139.7"/>
<path class="c7" d="M35 191L105.3 177.1"/>
<path class="c8" d="M35 191L67.3 178.5"/>
<path class="c9" d="M35 191L45.1 170.2"/>
<path class="c0" d="M35 191L93.2 144.6"/>
<path class="c1" d="M35 191L103.7 130.6"/>
<path class="c2" d="M35 191L65.6 165.2"/>
<path class="c3" d="M35 191L72.6 116.1"/>
<path class="c4" d="M35 191L125 82.9"/>
<path class="c5" d="M35 191L101.8 186.4"/>
<path class="c6" d="M35 191L181.7 100.8"/>
<path class="c7" d="M35 191L96.1 183.5"/>
<path class="c8" d="M35 191L36.3 177.4"/>
<path class="c9" d="M35 191L112.3 187.4"/>
<path class="c0" d="M35 191L114.5 140.5"/>
<path class="c1" d="M35 191L74.9 182.5"/>
<path class="c2" d="M35 191L52.4 125.4"/>
<path class="c3" d="M35 191L149 159.5"/>
<path class="c4" d="M35 191L57.2 190.5"/>
<path class="c5" d="M35 191L59.7 181.9"/>
<path class="c6" d="M35 191L78.3 67.6"/>
<path class="c7" d="M35 191L108.5 169.1"/>
<path class="c8" d="M35 191L44.6 166.4"/>
<path class="c9" d="M35 191L91.3 162.8"/>
<path class="c0" d="M35 191L90.9 157.1"/>
<path class="c1" d="M35 191L64.3 106.3"/>
<path class="c2" d="M35 191L37.2 183.9"/>
<path class="c3" d="M35 191L37.7 187.4"/>
<path class="c4" d="M35 191L44.5 96.5"/>
<path class="c5" d="M35 191L36.2 104.4"/>
<path class="c6" d="M35 191L71.8 78.1"/>
<path class="c7" d="M35 191L92.5 162.2"/>
<path class="c8" d="M35 191L43 161"/>
<path class="c9" d="M35 191L43.7 188.2"/>
<path class="c0" d="M35 191L45.7 142.6"/>
<path class="c1" d="M35 191L117.2 184.6"/>
<path class="c2" d="M35 191L95.1 162.1"/>
<path class="c3" d="M35 191L38.4 154.3"/>
<path class="c4" d="M35 191L72.9 64.5"/>
<path class="c5" d="M35 191L59.1 181.5"/>
<path class="c6" d="M35 191L127.5 137.8"/>
<path class="c7" d="M35 191L171.6 177.8"/>
<path class="c8" d="M35 191L82.3 156.2"/>
<path class="c9" d="M35 191L80 159.2"/>
<path class="c0" d="M35 191L183 120.3"/>
<path class="c1" d="M35 191L77.7 117.1"/>
<path class="c2" d="M35 191L100.7 128.8"/>
<path class="c3" d="M35 191L164.6 134.1"/>
<path class="c4" d="M35 191L112.5 153.1"/>
<path class="c5" d="M35 191L179.1 165.4"/>
<path class="c6" d="M35 191L183.8 54.9"/>
<path class="c7" d="M35 191L48.3 123.8"/>
<path class="c8" d="M35 191L84.2 150.9"/>
<path class="c9" d="M35 191L155.6 186.6"/>
<path class="c0" d="M35 191L50.9 146.9"/>
<path class="c1" d="M35 191L105.3 124"/>
<path class="c2" d="M35 191L56.5 140.4"/>
<path class="c3" d="M35 191L40.2 176.1"/>
<path class="c4" d="M35 191L39.3 166.4"/>
<path class="c5" d="M35 191L67.6 134.7"/>
<path class="c6" d="M35 191L72.7 150.2"/>
<path class="c7" d="M35 191L50.3 174.9"/>
<path class="c8" d="M35 191L65.6 59.8"/>
<path class="c9" d="M35 191L50.8 153.6"/>
<path class="c0" d="M35 191L41.2 182.7"/>
<path class="c1" d="M35 191L89.9 186.8"/>
<path class="c2" d="M35 191L39.7 187.9"/>
<path class="c3" d="M35 191L77.4 180.1"/>
<path class="c4" d="M35 191L57.6 185.9"/>
<path class="c5" d="M35 191L59.4 168.1"/>
<path class="c6" d="M35 191L45.4 185.7"/>
<path class="c7" d="M35 191L128.1 190"/>
<path class="c8" d="M35 191L40 180.1"/>
<path class="c9" d="M35 191L66 108.3"/>
<path class="c0" d="M35 191L62.7 187.6"/>
<path class="c1" d="M35 191L95.7 59.5"/>
<path class="c2" d="M35 191L39.7 146.8"/>
<path class="c3" d="M35 191L89.4 188.2"/>
<path class="c4" d="M35 191L154.5 122.8"/>
<path class="c5" d="M35 191L36 185.4"/>
<path class="c6" d="M35 191L92.6 179.9"/>
<path class="c7" d="M35 191L65.3 177.5"/>
<path class="c8" d="M35 191L108.7 178.5"/>
<path class="c9" d="M35 191L91.6 149.7"/>
<path class="c0" d="M35 191L76 158.5"/>
<path class="c1" d="M35 191L35.5 185.4"/>
<path class="c2" d="M35 191L37.2 176.2"/>
<path class="c3" d="M35 191L118.9 160.4"/>
<path class="c4" d="M35 191L70 161"/>
<path class="c5" d="M35 191L87.8 118.9"/>
<path class="c6" d="M35 191L35.9 121.8"/>
<path class="c7" d="M35 191L158.6 187.3"/>
<path class="c8" d="M35 191L59.1 183"/>
<path class="c9" d="M35 191L70.8 54.6"/>
<path class="c0" d="M35 191L119.2 159"/>
<path class="c1" d="M35 191L38.3 181.9"/>
<path class="c2" d="M35 191L148.7 142.5"/>
<path class="c8" d="M35 191L211.2 37"/>
<path class="c3" d="M35 191L35.1 188.7"/>
<path class="c4" d="M35 191L61.8 136.4"/>
<path class="c5" d="M35 191L44.3 169.4"/>
<path class="c6" d="M35 191L114.4 111.6"/>
<path class="c7" d="M35 191L64.9 159.5"/>
<path class="c8" d="M35 191L70 172"/>
<path class="c9" d="M35 191L37.5 190.4"/>
<path class="c0" d="M35 191L122.2 161.8"/>
<path class="c1" d="M35 191L189.2 45"/>
<path class="c1" d="M35 191L35.3 187"/>
<path class="c2" d="M35 191L36.6 177.5"/>
<path class="c3" d="M35 191L39 175"/>
<path class="c4" d="M35 191L140.8 64"/>
<path class="c5" d="M35 191L41.9 176"/>
<path class="c6" d="M35 191L71.4 55.2"/>
<path class="c9" d="M35 191L183.8 47.5"/>
<path class="c7" d="M35 191L60.6 188.6"/>
<path class="c8" d="M35 191L44.4 182.2"/>
<path class="c9" d="M35 191L35.8 139"/>
<path class="c0" d="M35 191L53.6 158.6"/>
<path class="c1" d="M35 191L72 122"/>
<path class="c2" d="M35 191L120.3 60.5"/>
<path class="c3" d="M35 191L39 166.3"/>
<path class="c4" d="M35 191L53.3 135.5"/>
<path class="c5" d="M35 191L89.7 173.2"/>
<path class="c6" d="M35 191L60.7 145.4"/>
<path class="c7" d="M35 191L198.8 163.6"/>
<path class="c8" d="M35 191L126.5 126.8"/>
<path class="c9" d="M35 191L122.8 159.2"/>
<path class="c1" d="M35 191L207.5 79.5"/>
<path class="c0" d="M35 191L65.1 168.6"/>
<path class="c1" d="M35 191L39.1 161.9"/>
<path class="c2" d="M35 191L47.1 190.6"/>
<path class="c3" d="M35 191L53.5 165.5"/>
<path class="c4" d="M35 191L86 119.5"/>
<path class="c5" d="M35 191L164.4 116.8"/>
<path class="c6" d="M35 191L116 56"/>
<path class="c7" d="M35 191L39.5 183"/>
<path class="c8" d="M35 191L58 152.1"/>
<path class="c9" d="M35 191L36.1 187.5"/>
<path class="c0" d="M35 191L35.3 190.1"/>
<path class="c1" d="M35 191L190.5 57.9"/>
<path class="c2" d="M35 191L60.3 155.5"/>
<path class="c3" d="M35 191L43.3 154.1"/>
<path class="c4" d="M35 191L202 86.8"/>
<path class="c5" d="M35 191L45.1 154.9"/>
<path class="c6" d="M35 191L35.9 154.9"/>
<path class="c7" d="M35 191L40 170.3"/>
<path class="c8" d="M35 191L35.7 140.8"/>
<path class="c9" d="M35 191L45.3 129.6"/>
<path class="c0" d="M35 191L111 189.7"/>
<path class="c1" d="M35 191L35.7 190.6"/>
<path class="c2" d="M35 191L121.2 131.2"/>
<path class="c3" d="M35 191L100.5 70.4"/>
<path class="c4" d="M35 191L98.9 158.7"/>
<path class="c5" d="M35 191L74.3 183.4"/>
<path class="c6" d="M35 191L53.9 176.6"/>
<path class="c7" d="M35 191L37 189.8"/>
<path class="c8" d="M35 191L80.4 177"/>
<path class="c9" d="M35 191L181.1 138.3"/>
<path class="c0" d="M35 191L44.2 186.4"/>
<path class="c1" d="M35 191L86.2 166.5"/>
<path class="c2" d="M35 191L113 109.2"/>
<path class="c3" d="M35 191L152.1 64"/>
<path class="c4" d="M35 191L118 141.7"/>
<path class="c5" d="M35 191L41.5 169.8"/>
<path class="c6" d="M35 191L55.9 151"/>
<path class="c7" d="M35 191L40.2 167.4"/>
<path class="c8" d="M35 191L147.8 181.5"/>
<path class="c9" d="M35 191L41.3 176.5"/>
<path class="c0" d="M35 191L35.3 172.2"/>
<path class="c1" d="M35 191L77.1 180.6"/>
<path class="c2" d="M35 191L62.1 151.7"/>
<path class="c3" d="M35 191L37.7 190.4"/>
<path class="c4" d="M35 191L114.6 111"/>
<path class="c5" d="M35 191L36.8 131.2"/>
<path class="c6" d="M35 191L67.1 187.6"/>
<path class="c7" d="M35 191L123.9 153.6"/>
<path class="c8" d="M35 191L72.9 172"/>
<path class="c9" d="M35 191L67.1 173.8"/>
<path class="c0" d="M35 191L35.1 190.2"/>
<path class="c1" d="M35 191L36.2 184.3"/>
<path class="c2" d="M35 191L50.4 184.7"/>
<path class="c3" d="M35 191L76.6 185.3"/>
<path class="c4" d="M35 191L155.6 177"/>
<path class="c5" d="M35 191L43.6 87.9"/>
<path class="c6" d="M35 191L58.4 143.2"/>
<path class="c7" d="M35 191L54.4 191"/>
<path class="c8" d="M35 191L45.3 190"/>
<path class="c9" d="M35 191L50.4 140"/>
<path class="c0" d="M35 191L183.9 68.8"/>
<path class="c1" d="M35 191L108.6 50.6"/>
<path class="c2" d="M35 191L41.1 184.6"/>
<path class="c3" d="M35 191L100.9 75.4"/>
<path class="c4" d="M35 191L48.7 162.7"/>
<path class="c5" d="M35 191L56.3 179.2"/>
<path class="c6" d="M35 191L85.2 128.4"/>
<path class="c7" d="M35 191L111.2 110.7"/>
<path class="c8" d="M35 191L44.7 186.4"/>
<path class="c9" d="M35 191L56.7 178.1"/>
<path class="c0" d="M35 191L136.3 127"/>
<path class="c1" d="M35 191L38.3 191"/>
<path class="c2" d="M35 191L35.7 189.4"/>
<path class="c3" d="M35 191L137.3 59"/>
<path class="c4" d="M35 191L167.3 157.3"/>
<path class="c5" d="M35 191L61.8 153.7"/>
<path class="c6" d="M35 191L40.2 118.3"/>
<path class="c7" d="M35 191L122.9 158.2"/>
<path class="c8" d="M35 191L177.5 158.4"/>
<path class="c9" d="M35 191L94.8 134"/>
<path class="c0" d="M35 191L39.4 188.2"/>
<path class="c1" d="M35 191L50.7 182.8"/>
<path class="c8" d="M35 191L211.8 81.2"/>
<path class="c2" d="M35 191L142.5 75.3"/>
<path class="c3" d="M35 191L73.8 189.2"/>
<path class="c4" d="M35 191L61.9 60.3"/>
<path class="c5" d="M35 191L82.1 100.4"/>
<path class="c6" d="M35 191L43.4 175.7"/>
<path class="c7" d="M35 191L76.4 102.8"/>
<path class="c8" d="M35 191L37.8 190.3"/>
<path class="c9" d="M35 191L35.9 184.6"/>
<path class="c0" d="M35 191L155 58.2"/>
<path class="c1" d="M35 191L43.3 185.7"/>
<path class="c2" d="M35 191L115.5 182.7"/>
<path class="c3" d="M35 191L45.9 190.3"/>
<path class="c4" d="M35 191L162.2 114.3"/>
<path class="c5" d="M35 191L133 131.4"/>
<path class="c6" d="M35 191L73.7 160.5"/>
<path class="c7" d="M35 191L109.4 69.6"/>
<path class="c8" d="M35 191L155.2 60.8"/>
<path class="c9" d="M35 191L53.1 176.3"/>
<path class="c0" d="M35 191L50.6 184.4"/>
<path class="c1" d="M35 191L96.9 166.7"/>
<path class="c2" d="M35 191L75.2 144.6"/>
<path class="c3" d="M35 191L37.3 186.4"/>
<path class="c4" d="M35 191L84.4 98.7"/>
<path class="c5" d="M35 191L86.1 174.9"/>
<path class="c6" d="M35 191L78.3 171.1"/>
<path class="c7" d="M35 191L64.3 187"/>
<path class="c8" d="M35 191L175.5 86.2"/>
<path class="c9" d="M35 191L40.7 189.9"/>
<path class="c0" d="M35 191L37.6 180.5"/>
<path class="c1" d="M35 191L36.4 190"/>
<path class="c2" d="M35 191L60.1 184.3"/>
<path class="c3" d="M35 191L43.2 103.6"/>
<path class="c4" d="M35 191L149.1 190.3"/>
<path class="c5" d="M35 191L53.2 188.7"/>
<path class="c6" d="M35 191L75 136.3"/>
<path class="c7" d="M35 191L69.5 184.9"/>
<path class="c8" d="M35 191L144.4 167.8"/>
<path class="c9" d="M35 191L61.6 156.2"/>
<path class="c6" d="M35 191L202.5 96.2"/>
<path class="c0" d="M35 191L40.2 175.3"/>
<path class="c1" d="M35 191L112.3 174.5"/>
<path class="c2" d="M35 191L86.4 179.5"/>
<path class="c3" d="M35 191L47.1 190.5"/>
<path class="c4" d="M35 191L44.9 173.3"/>
<path class="c5" d="M35 191L42.7 183.8"/>
<path class="c6" d="M35 191L39.2 175.6"/>
<path class="c7" d="M35 191L65 98.3"/>
<path class="c8" d="M35 191L170.3 111.7"/>
<path class="c9" d="M35 191L56.7 136.7"/>
<path class="c0" d="M35 191L36.6 118.4"/>
<path class="c1" d="M35 191L47.5 181.3"/>
<path class="c2" d="M35 191L36 170.4"/>
<path class="c3" d="M35 191L36.3 184.5"/>
<path class="c4" d="M35 191L71 175.1"/>
<path class="c5" d="M35 191L66.3 188"/>
<path class="c6" d="M35 191L38.5 144.9"/>
<path class="c7" d="M35 191L77.1 181.5"/>
<path class="c8" d="M35 191L91.5 185.3"/>
<path class="c9" d="M35 191L97.2 183.3"/>
<path class="c0" d="M35 191L42.3 166.8"/>
<path class="c1" d="M35 191L48.3 135.8"/>
<path class="c2" d="M35 191L172.3 80.2"/>
<path class="c3" d="M35 191L50.1 148.4"/>
<path class="c4" d="M35 191L147.2 109.7"/>
<path class="c5" d="M35 191L167.7 77.8"/>
<path class="c6" d="M35 191L159.8 167.9"/>
<path class="c7" d="M35 191L148.7 103.9"/>
<path class="c8" d="M35 191L45.8 153.3"/>
<path class="c9" d="M35 191L44.5 147.7"/>
<path class="c0" d="M35 191L115.8 170.9"/>
<path class="c1" d="M35 191L45.7 150.7"/>
<path class="c2" d="M35 191L58.1 154.9"/>
<path class="c3" d="M35 191L132.7 183.8"/>
<path class="c4" d="M35 191L49.6 179.6"/>
<path class="c5" d="M35 191L38.4 153.9"/>
<path class="c6" d="M35 191L165.9 136.1"/>
<path class="c7" d="M35 191L88.5 128.4"/>
<path class="c8" d="M35 191L44.9 102.6"/>
<path class="c9" d="M35 191L180.7 143.8"/>
<path class="c0" d="M35 191L52.9 190.2"/>
<path class="c1" d="M35 191L56.7 88.4"/>
<path class="c2" d="M35 191L77.6 190"/>
<path class="c3" d="M35 191L70.9 176.8"/>
<path class="c4" d="M35 191L38.2 168.7"/>
<path class="c5" d="M35 191L72.3 173.9"/>
<path class="c6" d="M35 191L56.8 180.6"/>
<path class="c7" d="M35 191L46.3 186.3"/>
<path class="c8" d="M35 191L40.6 181.2"/>
<path class="c9" d="M35 191L39.1 188.6"/>
<path class="c0" d="M35 191L103.6 104.5"/>
<path class="c1" d="M35 191L84.7 113"/>
<path class="c2" d="M35 191L174.5 166.6"/>
<path class="c3" d="M35 191L99.8 101.3"/>
<path class="c4" d="M35 191L55.8 187.8"/>
<path class="c5" d="M35 191L57.6 186"/>
<path class="c6" d="M35 191L101.7 161.3"/>
<path class="c7" d="M35 191L36.6 176.5"/>
<path class="c8" d="M35 191L35.5 189.3"/>
<path class="c9" d="M35 191L39.3 185.2"/>
<path class="c0" d="M35 191L64 149.2"/>
<path class="c1" d="M35 191L102.1 154.6"/>
<path class="c2" d="M35 191L107.5 103.1"/>
<path class="c3" d="M35 191L43.1 178.6"/>
<path class="c4" d="M35 191L79.4 99.2"/>
<path class="c5" d="M35 191L104.7 188"/>
<path class="c6" d="M35 191L49.4 179.6"/>
<path class="c7" d="M35 191L77.9 142.7"/>
<path class="c8" d="M35 191L68.2 145.8"/>
<path class="c9" d="M35 191L60.3 146.6"/>
<path class="c0" d="M35 191L112.6 102"/>
<path class="c1" d="M35 191L93.4 179.8"/>
<path class="c2" d="M35 191L35.8 186.5"/>
<path class="c0" d="M35 191L205 108"/>
<path class="c3" d="M35 191L76.2 171.1"/>
<path class="c4" d="M35 191L88.1 136.3"/>
<path class="c5" d="M35 191L53.8 185.7"/>
<path class="c6" d="M35 191L126.8 179"/>
<path class="c7" d="M35 191L127.6 148.9"/>
<path class="c8" d="M35 191L155.1 154.4"/>
<path class="c9" d="M35 191L129.4 92.2"/>
<path class="c0" d="M35 191L60.7 151.3"/>
<path class="c1" d="M35 191L72.3 136.8"/>
<path class="c2" d="M35 191L92.8 110.5"/>
<path class="c3" d="M35 191L65 165"/>
<path class="c4" d="M35 191L58.9 182.8"/>
<path class="c5" d="M35 191L36.8 188.8"/>
<path class="c6" d="M35 191L67.4 145.3"/>
<path class="c3" d="M35 191L200 123.2"/>
<path class="c7" d="M35 191L66.6 110.5"/>
<path class="c2" d="M35 191L203.8 130"/>
<path class="c8" d="M35 191L96.7 151.3"/>
<path class="c0" d="M35 191L196.2 68.8"/>
<path class="c9" d="M35 191L47.1 164.5"/>
<path class="c0" d="M35 191L38.9 189.9"/>
<path class="c1" d="M35 191L36.3 144.4"/>
<path class="c2" d="M35 191L35.2 157.8"/>
<path class="c3" d="M35 191L162.5 105.5"/>
<path class="c4" d="M35 191L75.9 189.9"/>
<path class="c5" d="M35 191L53.3 153.4"/>
<path class="c6" d="M35 191L56.5 132"/>
<path class="c7" d="M35 191L52.1 152.2"/>
<path class="c8" d="M35 191L65.5 145.2"/>
<path class="c9" d="M35 191L61.2 146.8"/>
<path class="c0" d="M35 191L66.3 186.6"/>
<path class="c1" d="M35 191L66.3 130.5"/>
<path class="c2" d="M35 191L37.4 142.5"/>
<path class="c3" d="M35 191L83.3 178.4"/>
<path class="c4" d="M35 191L141.1 126"/>
<path class="c5" d="M35 191L52.6 94.3"/>
<path class="c6" d="M35 191L86.3 88.3"/>
<path class="c7" d="M35 191L35.3 190.7"/>
<path class="c8" d="M35 191L47.8 189.2"/>
<path class="c9" d="M35 191L37 191"/>
<path class="c0" d="M35 191L43.1 136.6"/>
<path class="c1" d="M35 191L72.4 134.2"/>
<path class="c2" d="M35 191L103.6 173.5"/>
<path class="c3" d="M35 191L47.1 181.2"/>
<path class="c4" d="M35 191L81.3 182.9"/>
<path class="c5" d="M35 191L79.9 151.1"/>
<path class="c6" d="M35 191L48.6 151.8"/>
<path class="c7" d="M35 191L39 188.8"/>
<path class="c8" d="M35 191L98.4 106.5"/>
<path class="c9" d="M35 191L45.5 179.2"/>
<path class="c0" d="M35 191L69.5 188.6"/>
<path class="c1" d="M35 191L114.4 116.7"/>
<path class="c2" d="M35 191L123.3 169"/>
<path class="c3" d="M35 191L98 140.8"/>
<path class="c4" d="M35 191L98 106.4"/>
<path class="c5" d="M35 191L73.5 135.9"/>
<path class="c6" d="M35 191L41.1 173.1"/>
<path class="c7" d="M35 191L36.9 190.3"/>
<path class="c8" d="M35 191L99.5 118.4"/>
<path class="c9" d="M35 191L60.9 180.3"/>
<path class="c0" d="M35 191L66.1 166.2"/>
<path class="c1" d="M35 191L47.1 186"/>
<path class="c4" d="M35 191L213.2 141.2"/>
<path class="c2" d="M35 191L46.2 186.2"/>
<path class="c3" d="M35 191L100.9 138.3"/>
<path class="c4" d="M35 191L74 142.5"/>
<path class="c5" d="M35 191L73.4 147.6"/>
<path class="c6" d="M35 191L36.8 168.9"/>
<path class="c7" d="M35 191L36.1 190.8"/>
<path class="c8" d="M35 191L171.3 187.8"/>
<path class="c9" d="M35 191L59.7 109"/>
<path class="c0" d="M35 191L137.7 186.4"/>
<path class="c1" d="M35 191L48.8 177.8"/>
<path class="c2" d="M35 191L140 187.8"/>
<path class="c3" d="M35 191L171.1 188.4"/>
<path class="c4" d="M35 191L86.9 163.8"/>
<path class="c5" d="M35 191L36.6 160.1"/>
<path class="c6" d="M35 191L44.4 151.6"/>
<path class="c7" d="M35 191L39.3 161.5"/>
<path class="c8" d="M35 191L99.7 166.1"/>
<path class="c9" d="M35 191L150.8 85.4"/>
<path class="c0" d="M35 191L41.1 141.3"/>
<path class="c1" d="M35 191L84.9 175.2"/>
<path class="c2" d="M35 191L61.9 108.4"/>
<path class="c3" d="M35 191L130.5 68.3"/>
<path class="c4" d="M35 191L129.1 154.5"/>
<path class="c3" d="M35 191L207.5 162.5"/>
<path class="c5" d="M35 191L63.5 162.8"/>
<path class="c6" d="M35 191L63.2 180.8"/>
<path class="c7" d="M35 191L53.4 167.5"/>
<path class="c8" d="M35 191L35.5 124.8"/>
<path class="c9" d="M35 191L35.3 140.1"/>
<path class="c0" d="M35 191L130.8 95"/>
<path class="c1" d="M35 191L69.5 186.5"/>
<path class="c2" d="M35 191L177.2 168.4"/>
<path class="c3" d="M35 191L81.3 185"/>
<path class="c4" d="M35 191L116.4 165.8"/>
<path class="c5" d="M35 191L57.8 133.3"/>
<path class="c6" d="M35 191L65.1 184.1"/>
<path class="c7" d="M35 191L35.3 157.9"/>
<path class="c8" d="M35 191L82.7 152.1"/>
<path class="c9" d="M35 191L42.7 176.2"/>
<path class="c0" d="M35 191L66.4 103.8"/>
<path class="c1" d="M35 191L78.6 73.2"/>
<path class="c2" d="M35 191L84.8 181.1"/>
<path class="c3" d="M35 191L77.2 178.8"/>
<path class="c4" d="M35 191L39.9 188.7"/>
<path class="c5" d="M35 191L52.4 177.3"/>
<path class="c6" d="M35 191L39.7 138.5"/>
<path class="c7" d="M35 191L55.3 139.1"/>
<path class="c8" d="M35 191L152.3 108.3"/>
<path class="c9" d="M35 191L39.3 184"/>
<path class="c0" d="M35 191L77.1 114.4"/>
<path class="c1" d="M35 191L99.8 122.9"/>
<path class="c2" d="M35 191L56.9 176"/>
<path class="c3" d="M35 191L89.2 190.4"/>
<path class="c4" d="M35 191L136.7 88.4"/>
<path class="c5" d="M35 191L74.8 104.4"/>
<path class="c6" d="M35 191L126 126"/>
<path class="c7" d="M35 191L80.7 130.4"/>
<path class="c8" d="M35 191L69 130"/>
<path class="c9" d="M35 191L51.3 146.2"/>
<path class="c0" d="M35 191L87.1 182.6"/>
<path class="c1" d="M35 191L110.6 160.2"/>
<path class="c2" d="M35 191L39.1 141.8"/>
<path class="c3" d="M35 191L82.2 85.5"/>
<path class="c4" d="M35 191L113.4 75.2"/>
<path class="c5" d="M35 191L141.7 153.4"/>
<path class="c6" d="M35 191L43.4 190.7"/>
<path class="c8" d="M35 191L210.8 168"/>
<path class="c7" d="M35 191L38.6 128.6"/>
<path class="c8" d="M35 191L60.4 190.5"/>
<path class="c9" d="M35 191L118.3 52.6"/>
<path class="c0" d="M35 191L85.9 62.2"/>
<path class="c1" d="M35 191L54.5 183.7"/>
<path class="c2" d="M35 191L70.4 101.2"/>
<path class="c3" d="M35 191L52.5 173.6"/>
<path class="c4" d="M35 191L70.9 142.4"/>
<path class="c5" d="M35 191L159.2 154.9"/>
<path class="c6" d="M35 191L81.3 177.3"/>
<path class="c7" d="M35 191L77.9 134.3"/>
<path class="c8" d="M35 191L64.1 147.1"/>
<path class="c9" d="M35 191L75.5 127.7"/>
<path class="c0" d="M35 191L47.1 144.6"/>
<path class="c1" d="M35 191L35.2 189.8"/>
<path class="c2" d="M35 191L41 170.1"/>
<path class="c3" d="M35 191L59.5 146"/>
<path class="c4" d="M35 191L148 146"/>
<path class="c5" d="M35 191L88.5 102.7"/>
<path class="c6" d="M35 191L67.8 145.3"/>
<path class="c7" d="M35 191L79.4 130.2"/>
<path class="c8" d="M35 191L109.5 162.4"/>
<path class="c9" d="M35 191L40.5 180.7"/>
<path class="c0" d="M35 191L111.5 150.3"/>
<path class="c1" d="M35 191L96.6 140.2"/>
<path class="c2" d="M35 191L200.8 181.8"/>
<path class="c2" d="M35 191L50.4 168"/>
<path class="c3" d="M35 191L41.9 173.5"/>
<path class="c4" d="M35 191L36.2 188.5"/>
<path class="c5" d="M35 191L94.2 142.1"/>
<path class="c6" d="M35 191L83.6 113.5"/>
<path class="c7" d="M35 191L52.2 130.1"/>
<path class="c8" d="M35 191L76.6 142.6"/>
<path class="c9" d="M35 191L195.9 90.3"/>
<path class="c0" d="M35 191L87.2 167.3"/>
<path class="c1" d="M35 191L43 90.3"/>
<path class="c2" d="M35 191L35.4 188.7"/>
<path class="c3" d="M35 191L63.6 109.2"/>
<path class="c4" d="M35 191L45.9 190.7"/>
<path class="c5" d="M35 191L115 182.6"/>
<path class="c6" d="M35 191L37.9 162.1"/>
<path class="c7" d="M35 191L39.4 176"/>
<path class="c8" d="M35 191L83.9 177.3"/>
<path class="c4" d="M35 191L198.9 188.9"/>
<path class="c9" d="M35 191L102.4 181.2"/>
<path class="c3" d="M35 191L192.5 174.2"/>
<path class="c0" d="M35 191L51.3 175.4"/>
<path class="c1" d="M35 191L66.2 176.2"/>
<path class="c2" d="M35 191L119.9 172.4"/>
<path class="c3" d="M35 191L77 187.2"/>
<path class="c4" d="M35 191L56.4 163.6"/>
<path class="c5" d="M35 191L40.8 186.6"/>
<path class="c9" d="M35 191L182.5 157"/>
<path class="c6" d="M35 191L55.6 148"/>
<path class="c7" d="M35 191L55.1 93.9"/>
<path class="c8" d="M35 191L78.8 170"/>
<path class="c9" d="M35 191L38 187"/>
<path class="c0" d="M35 191L113.1 53.4"/>
<path class="c1" d="M35 191L39.6 140.2"/>
<path class="c2" d="M35 191L56.1 184.1"/>
<path class="c3" d="M35 191L44.1 177.7"/>
<path class="c4" d="M35 191L109.8 105.5"/>
<path class="c5" d="M35 191L90.5 141.8"/>
<path class="c6" d="M35 191L77.4 165.6"/>
<path class="c7" d="M35 191L120.1 171.2"/>
<path class="c8" d="M35 191L180.2 164.4"/>
<path class="c9" d="M35 191L57.7 167.1"/>
<path class="c0" d="M35 191L44.1 184.5"/>
<path class="c1" d="M35 191L59.2 157.7"/>
<path class="c2" d="M35 191L43.8 186.9"/>
<path class="c3" d="M35 191L49.3 182.5"/>
<path class="c4" d="M35 191L39 189.4"/>
<path class="c5" d="M35 191L91.7 89.7"/>
<path class="c6" d="M35 191L83.7 85.4"/>
<path class="c7" d="M35 191L104.6 144.2"/>
<path class="c8" d="M35 191L105.1 151.4"/>
<path class="c9" d="M35 191L97.5 175.3"/>
<path class="c0" d="M35 191L53.9 188.3"/>
<path class="c1" d="M35 191L62.8 174.2"/>
<path class="c2" d="M35 191L37.3 189.2"/>
<path class="c3" d="M35 191L40.3 164.1"/>
<path class="c4" d="M35 191L37 183.4"/>
<path class="c5" d="M35 191L41.5 133.1"/>
<path class="c6" d="M35 191L134.3 61.2"/>
<path class="c7" d="M35 191L111.7 143"/>
<path class="c8" d="M35 191L88 64.4"/>
<path class="c9" d="M35 191L89.9 149.3"/>
<path class="c0" d="M35 191L44.2 155.9"/>
<path class="c1" d="M35 191L66.5 183.8"/>
<path class="c2" d="M35 191L70.6 177.6"/>
<path class="c3" d="M35 191L39 188"/>
<path class="c4" d="M35 191L120.4 120.3"/>
<path class="c5" d="M35 191L38.7 189.1"/>
<path class="c6" d="M35 191L125.2 137.6"/>
<path class="c7" d="M35 191L63.5 160"/>
<path class="c8" d="M35 191L46.1 75.5"/>
<path class="c9" d="M35 191L61.2 176.5"/>
<path class="c0" d="M35 191L63.6 163.6"/>
<path class="c1" d="M35 191L105.6 68.8"/>
<path class="c2" d="M35 191L137.2 183.1"/>
<path class="c3" d="M35 191L133.5 141.5"/>
<path class="c4" d="M35 191L147.2 138.2"/>
<path class="c5" d="M35 191L83.8 189.1"/>
<path class="c6" d="M35 191L78 86.4"/>
<path class="c7" d="M35 191L60.7 187.3"/>
<path class="c8" d="M35 191L145 177.6"/>
<path class="c9" d="M35 191L112.7 117.7"/>
<path class="c0" d="M35 191L53.1 140.9"/>
<path class="c1" d="M35 191L97.6 125.5"/>
<path class="c2" d="M35 191L51.6 190.3"/>
<path class="c3" d="M35 191L51.4 179.8"/>
<path class="c4" d="M35 191L94.8 181.2"/>
<path class="c5" d="M35 191L129.5 87"/>
<path class="c6" d="M35 191L40.8 190.3"/>
<path class="c7" d="M35 191L35 191"/>
<path class="c7" d="M35 191L193 122"/>
<path class="c8" d="M35 191L57.2 166.2"/>
<path class="c9" d="M35 191L75.5 136.5"/>
<path class="c0" d="M35 191L68.6 182"/>
<path class="c1" d="M35 191L66.6 165.4"/>
<path class="c2" d="M35 191L115.9 185.8"/>
<path class="c3" d="M35 191L57 187.2"/>
<path class="c4" d="M35 191L115.6 117.6"/>
<path class="c5" d="M35 191L52.8 142.6"/>
<path class="c6" d="M35 191L98.5 160.7"/>
<path class="c7" d="M35 191L38.4 190.8"/>
<path class="c8" d="M35 191L43.8 146.9"/>
<path class="c9" d="M35 191L39.1 148.3"/>
<path class="c0" d="M35 191L101.7 72.3"/>
<path class="c1" d="M35 191L74.2 159.8"/>
<path class="c2" d="M35 191L69.8 165.7"/>
<path class="c3" d="M35 191L68.8 171.3"/>
<path class="c4" d="M35 191L85 174.5"/>
<path class="c5" d="M35 191L84.6 152.7"/>
<path class="c6" d="M35 191L124.6 183.4"/>
<path class="c7" d="M35 191L86 87.5"/>
<path class="c8" d="M35 191L35.5 190.6"/>
<path class="c9" d="M35 191L53.3 165.7"/>
<path class="c0" d="M35 191L36.1 188.2"/>
<path class="c1" d="M35 191L102.1 145.5"/>
<path class="c2" d="M35 191L96 44.7"/>
<path class="c3" d="M35 191L119 117"/>
<path class="c4" d="M35 191L56.5 166"/>
<path class="c5" d="M35 191L46.2 142.1"/>
<path class="c6" d="M35 191L103.1 65.1"/>
<path class="c7" d="M35 191L38.8 184.7"/>
<path class="c8" d="M35 191L72.6 138.1"/>
<path class="c9" d="M35 191L94.2 131.5"/>
<path class="c0" d="M35 191L128.7 164.7"/>
<path class="c1" d="M35 191L51.8 142.1"/>
<path class="c2" d="M35 191L73.1 188.8"/>
<path class="c3" d="M35 191L44.3 157.8"/>
<path class="c4" d="M35 191L39.1 189.8"/>
<path class="c5" d="M35 191L83.3 177.2"/>
<path class="c6" d="M35 191L139.9 101.2"/>
<path class="c7" d="M35 191L130.2 149.8"/>
<path class="c8" d="M35 191L170.2 155.6"/>
<path class="c9" d="M35 191L55.7 158.6"/>
<path class="c0" d="M35 191L39.1 189.3"/>
<path class="c1" d="M35 191L93.6 146.3"/>
<path class="c2" d="M35 191L38.7 159.4"/>
<path class="c3" d="M35 191L58.9 170.2"/>
<path class="c4" d="M35 191L69.5 113.5"/>
<path class="c5" d="M35 191L60.4 188.3"/>
<path class="c1" d="M35 191L158.8 190"/>
<path class="c6" d="M35 191L51.9 151.8"/>
<path class="c7" d="M35 191L58.9 186.7"/>
<path class="c8" d="M35 191L53 186"/>
<path class="c9" d="M35 191L59.8 155.3"/>
<path class="c0" d="M35 191L104.7 183"/>
<path class="c1" d="M35 191L88.3 74.8"/>
<path class="c2" d="M35 191L98.1 187.3"/>
<path class="c3" d="M35 191L43.5 155.8"/>
<path class="c4" d="M35 191L153.5 147.5"/>
<path class="c5" d="M35 191L38.8 176.9"/>
<path class="c6" d="M35 191L84.8 95.6"/>
<path class="c7" d="M35 191L108.5 171.2"/>
<path class="c8" d="M35 191L44 61.7"/>
<path class="c9" d="M35 191L59.4 184.9"/>
<path class="c0" d="M35 191L68.8 107.1"/>
<path class="c1" d="M35 191L48.4 189.4"/>
<path class="c2" d="M35 191L35.4 183.6"/>
<path class="c3" d="M35 191L138.2 67.4"/>
<path class="c4" d="M35 191L50.1 157.2"/>
<path class="c5" d="M35 191L41.2 168.9"/>
<path class="c6" d="M35 191L37 189.1"/>
<path class="c7" d="M35 191L93.6 140.4"/>
<path class="c8" d="M35 191L48 171.2"/>
<path class="c9" d="M35 191L39.1 185.7"/>
<path class="c0" d="M35 191L43.9 187.1"/>
<path class="c1" d="M35 191L48.8 121.8"/>
<path class="c2" d="M35 191L74.7 189.3"/>
<path class="c3" d="M35 191L37.5 187.4"/>
<path class="c4" d="M35 191L57.2 165.1"/>
<path class="c5" d="M35 191L76.9 88.4"/>
<path class="c6" d="M35 191L70.3 131.6"/>
<path class="c7" d="M35 191L114.1 163.9"/>
<path class="c8" d="M35 191L60.6 175.1"/>
<path class="c9" d="M35 191L100.5 115.9"/>
<path class="c0" d="M35 191L54.9 189.3"/>
<path class="c1" d="M35 191L41.2 176.1"/>
<path class="c2" d="M35 191L81.7 61"/>
<path class="c3" d="M35 191L89 166.2"/>
<path class="c4" d="M35 191L50.8 183.3"/>
<path class="c5" d="M35 191L181.6 143.6"/>
<path class="c6" d="M35 191L173.1 75.9"/>
<path class="c7" d="M35 191L74.2 189.3"/>
<path class="c8" d="M35 191L69.3 144.5"/>
<path class="c9" d="M35 191L79.2 186.2"/>
<path class="c0" d="M35 191L107.4 115.4"/>
<path class="c1" d="M35 191L135.4 155.3"/>
<path class="c2" d="M35 191L103 128.3"/>
<path class="c3" d="M35 191L59.7 159.5"/>
<path class="c4" d="M35 191L72.2 174.3"/>
<path class="c5" d="M35 191L57.8 181.5"/>
<path class="c6" d="M35 191L73.2 178.7"/>
<path class="c7" d="M35 191L43.4 172.5"/>
<path class="c8" d="M35 191L42.1 183.3"/>
<path class="c9" d="M35 191L35.4 173.8"/>
<path class="c0" d="M35 191L121.5 137.9"/>
<path class="c1" d="M35 191L112.5 77.7"/>
<path class="c2" d="M35 191L151.9 158.6"/>
<path class="c3" d="M35 191L76.8 124.4"/>
<path class="c4" d="M35 191L37.1 174.4"/>
<path class="c5" d="M35 191L101 120.1"/>
<path class="c6" d="M35 191L169.3 119.1"/>
<path class="c7" d="M35 191L46.6 189"/>
<path class="c8" d="M35 191L190.4 114.6"/>
<path class="c9" d="M35 191L36.9 130.6"/>
</g>
<g fill="none" stroke-width="0.95" stroke-linecap="butt">
<path class="c0" d="M345 191.3L348.7 181.7"/>
<path class="c1" d="M345 191.3L360.9 176.3"/>
<path class="c2" d="M345 191.3L414.6 176.4"/>
<path class="c3" d="M345 191.3L357.9 174.6"/>
<path class="c4" d="M345 191.3L363.3 152.8"/>
<path class="c5" d="M345 191.3L360.3 182.6"/>
<path class="c6" d="M345 191.3L347.8 172.2"/>
<path class="c7" d="M345 191.3L351.7 155.7"/>
<path class="c8" d="M345 191.3L374.6 151.8"/>
<path class="c9" d="M345 191.3L447.6 177"/>
<path class="c0" d="M345 191.3L365 154.4"/>
<path class="c1" d="M345 191.3L381.8 188.6"/>
<path class="c2" d="M345 191.3L364.4 137.9"/>
<path class="c3" d="M345 191.3L364.1 163.1"/>
<path class="c4" d="M345 191.3L365.7 163.6"/>
<path class="c5" d="M345 191.3L351.3 121"/>
<path class="c6" d="M345 191.3L356.5 150.2"/>
<path class="c7" d="M345 191.3L351.7 152.8"/>
<path class="c8" d="M345 191.3L347.8 170.5"/>
<path class="c9" d="M345 191.3L390.3 168.3"/>
<path class="c0" d="M345 191.3L369.7 152.7"/>
<path class="c1" d="M345 191.3L380.1 155.8"/>
<path class="c2" d="M345 191.3L354.6 126.6"/>
<path class="c3" d="M345 191.3L363.5 146.4"/>
<path class="c4" d="M345 191.3L357 174.7"/>
<path class="c5" d="M345 191.3L355.5 169.2"/>
<path class="c6" d="M345 191.3L359.9 191"/>
<path class="c7" d="M345 191.3L393.2 180.6"/>
<path class="c8" d="M345 191.3L393.4 179.4"/>
<path class="c9" d="M345 191.3L357.1 185"/>
<path class="c0" d="M345 191.3L371.7 166.2"/>
<path class="c1" d="M345 191.3L348.2 117.7"/>
<path class="c2" d="M345 191.3L395.2 187.9"/>
<path class="c3" d="M345 191.3L359.3 137"/>
<path class="c4" d="M345 191.3L354.1 185.2"/>
<path class="c5" d="M345 191.3L345.3 130.4"/>
<path class="c6" d="M345 191.3L347.2 107.5"/>
<path class="c7" d="M345 191.3L392 164.4"/>
<path class="c8" d="M345 191.3L348.7 167.6"/>
<path class="c9" d="M345 191.3L346.7 172.4"/>
<path class="c0" d="M345 191.3L373.2 149.8"/>
<path class="c1" d="M345 191.3L369.7 146.5"/>
<path class="c2" d="M345 191.3L357.9 190.5"/>
<path class="c3" d="M345 191.3L400.7 187.2"/>
<path class="c4" d="M345 191.3L365.9 163.8"/>
<path class="c5" d="M345 191.3L368.7 183.7"/>
<path class="c6" d="M345 191.3L402.6 168.5"/>
<path class="c7" d="M345 191.3L354.6 132.7"/>
<path class="c8" d="M345 191.3L382.6 187.9"/>
<path class="c9" d="M345 191.3L367.1 169"/>
<path class="c0" d="M345 191.3L377.3 156.9"/>
<path class="c1" d="M345 191.3L417.6 187.8"/>
<path class="c2" d="M345 191.3L345.3 159.8"/>
<path class="c3" d="M345 191.3L452.6 185"/>
<path class="c4" d="M345 191.3L347.2 133.7"/>
<path class="c5" d="M345 191.3L378.9 161.1"/>
<path class="c6" d="M345 191.3L384.8 126.3"/>
<path class="c7" d="M345 191.3L347.8 171.1"/>
<path class="c8" d="M345 191.3L348.2 173.9"/>
<path class="c9" d="M345 191.3L358.2 145.5"/>
<path class="c0" d="M345 191.3L372.5 187.6"/>
<path class="c1" d="M345 191.3L397.2 184.7"/>
<path class="c2" d="M345 191.3L364.5 169.6"/>
<path class="c3" d="M345 191.3L360 164.5"/>
<path class="c4" d="M345 191.3L399.5 185.7"/>
<path class="c5" d="M345 191.3L378.8 184.2"/>
<path class="c6" d="M345 191.3L392.5 184.1"/>
<path class="c7" d="M345 191.3L365.1 186.9"/>
<path class="c8" d="M345 191.3L358.1 161.7"/>
<path class="c9" d="M345 191.3L381.7 189.3"/>
<path class="c0" d="M345 191.3L346.1 118.5"/>
<path class="c1" d="M345 191.3L391.8 189.9"/>
<path class="c2" d="M345 191.3L375.2 188"/>
<path class="c3" d="M345 191.3L350.5 126.6"/>
<path class="c4" d="M345 191.3L365.3 186.9"/>
<path class="c5" d="M345 191.3L380 171.7"/>
<path class="c6" d="M345 191.3L347.1 173.3"/>
<path class="c7" d="M345 191.3L364.6 145.6"/>
<path class="c8" d="M345 191.3L347.3 60"/>
<path class="c9" d="M345 191.3L369.1 189"/>
<path class="c0" d="M345 191.3L350.5 154.3"/>
<path class="c1" d="M345 191.3L351.9 165.2"/>
<path class="c2" d="M345 191.3L399.6 184.4"/>
<path class="c3" d="M345 191.3L346.2 126.8"/>
<path class="c4" d="M345 191.3L370.8 188.9"/>
<path class="c5" d="M345 191.3L359.3 138.4"/>
<path class="c6" d="M345 191.3L345.2 154.9"/>
<path class="c7" d="M345 191.3L393.4 189"/>
<path class="c8" d="M345 191.3L362.3 170.2"/>
<path class="c9" d="M345 191.3L401.5 187.1"/>
<path class="c0" d="M345 191.3L403.5 189.7"/>
<path class="c1" d="M345 191.3L376.8 146.8"/>
<path class="c2" d="M345 191.3L363.8 168.2"/>
<path class="c3" d="M345 191.3L346.1 151.9"/>
<path class="c4" d="M345 191.3L366.2 143.6"/>
<path class="c5" d="M345 191.3L368.1 185.7"/>
<path class="c6" d="M345 191.3L353.9 109.2"/>
<path class="c7" d="M345 191.3L345.2 165.8"/>
<path class="c8" d="M345 191.3L377.2 184.3"/>
<path class="c9" d="M345 191.3L349.2 148.6"/>
<path class="c0" d="M345 191.3L378.6 185"/>
<path class="c1" d="M345 191.3L357.8 187.8"/>
<path class="c2" d="M345 191.3L352.7 83.1"/>
<path class="c3" d="M345 191.3L376 189.3"/>
<path class="c4" d="M345 191.3L393 187.7"/>
<path class="c5" d="M345 191.3L391.4 191.2"/>
<path class="c6" d="M345 191.3L345.6 172.2"/>
<path class="c7" d="M345 191.3L345.8 163.1"/>
<path class="c8" d="M345 191.3L364.8 186.2"/>
<path class="c9" d="M345 191.3L347.4 169.5"/>
<path class="c0" d="M345 191.3L373.4 187.2"/>
<path class="c1" d="M345 191.3L364.6 112.6"/>
<path class="c2" d="M345 191.3L356.3 151.4"/>
<path class="c3" d="M345 191.3L346.3 169"/>
<path class="c4" d="M345 191.3L390.1 148.4"/>
<path class="c5" d="M345 191.3L350.4 156.5"/>
<path class="c6" d="M345 191.3L347.5 174.8"/>
<path class="c7" d="M345 191.3L364.6 178.2"/>
<path class="c8" d="M345 191.3L359.1 146.3"/>
<path class="c9" d="M345 191.3L377.9 181.9"/>
<path class="c0" d="M345 191.3L373.5 176.1"/>
<path class="c1" d="M345 191.3L365.7 174.2"/>
<path class="c2" d="M345 191.3L357.6 162.3"/>
<path class="c3" d="M345 191.3L387.2 180.2"/>
<path class="c4" d="M345 191.3L360.1 168"/>
<path class="c5" d="M345 191.3L358.6 123.3"/>
<path class="c6" d="M345 191.3L384.6 190.9"/>
<path class="c7" d="M345 191.3L385.9 187.9"/>
<path class="c8" d="M345 191.3L355.6 142.4"/>
<path class="c9" d="M345 191.3L383.4 184.9"/>
<path class="c0" d="M345 191.3L350 163.4"/>
<path class="c1" d="M345 191.3L357.8 155.7"/>
<path class="c2" d="M345 191.3L375.2 178"/>
<path class="c3" d="M345 191.3L349 172.2"/>
<path class="c4" d="M345 191.3L446.1 182.9"/>
<path class="c5" d="M345 191.3L353.5 124"/>
<path class="c6" d="M345 191.3L349.6 166.4"/>
<path class="c7" d="M345 191.3L345.8 70.7"/>
<path class="c8" d="M345 191.3L345.8 121.9"/>
<path class="c9" d="M345 191.3L355.3 168.3"/>
<path class="c0" d="M345 191.3L350.6 161.6"/>
<path class="c1" d="M345 191.3L352 137"/>
<path class="c2" d="M345 191.3L345.6 169.8"/>
<path class="c3" d="M345 191.3L353.9 125.9"/>
<path class="c4" d="M345 191.3L390.6 188.5"/>
<path class="c5" d="M345 191.3L350.7 150.5"/>
<path class="c6" d="M345 191.3L378.5 137.5"/>
<path class="c7" d="M345 191.3L391.3 177.8"/>
<path class="c8" d="M345 191.3L369.1 187.5"/>
<path class="c9" d="M345 191.3L377.3 169.8"/>
<path class="c0" d="M345 191.3L345.6 95.3"/>
<path class="c1" d="M345 191.3L366.2 190.4"/>
<path class="c2" d="M345 191.3L422.5 183.7"/>
<path class="c3" d="M345 191.3L396.7 168.1"/>
<path class="c4" d="M345 191.3L371.8 183.1"/>
<path class="c5" d="M345 191.3L385.8 151.3"/>
<path class="c6" d="M345 191.3L380.4 186.6"/>
<path class="c7" d="M345 191.3L355.9 165.1"/>
<path class="c8" d="M345 191.3L362 144.5"/>
<path class="c9" d="M345 191.3L358.1 189.8"/>
<path class="c0" d="M345 191.3L356.8 123.5"/>
<path class="c1" d="M345 191.3L384.4 188.8"/>
<path class="c2" d="M345 191.3L389.5 180.1"/>
<path class="c3" d="M345 191.3L359.3 159.9"/>
<path class="c4" d="M345 191.3L377.1 167.9"/>
<path class="c5" d="M345 191.3L431.9 173"/>
<path class="c6" d="M345 191.3L394.1 186.3"/>
<path class="c7" d="M345 191.3L350.9 160.1"/>
<path class="c8" d="M345 191.3L370.4 133.5"/>
<path class="c9" d="M345 191.3L375.6 179.1"/>
<path class="c0" d="M345 191.3L345.4 159.7"/>
<path class="c1" d="M345 191.3L400.7 147.4"/>
<path class="c2" d="M345 191.3L419.2 176.7"/>
<path class="c3" d="M345 191.3L368.5 186.8"/>
<path class="c4" d="M345 191.3L371.9 185.4"/>
<path class="c5" d="M345 191.3L353.9 83.8"/>
<path class="c6" d="M345 191.3L381.8 125.1"/>
<path class="c7" d="M345 191.3L373 187.2"/>
<path class="c8" d="M345 191.3L398.2 188"/>
<path class="c9" d="M345 191.3L360.9 135.7"/>
<path class="c0" d="M345 191.3L384.4 190.6"/>
<path class="c1" d="M345 191.3L376.8 191.2"/>
<path class="c2" d="M345 191.3L351.5 171.7"/>
<path class="c3" d="M345 191.3L362.8 187.2"/>
<path class="c4" d="M345 191.3L353.8 99"/>
<path class="c5" d="M345 191.3L378.7 139"/>
<path class="c6" d="M345 191.3L345.8 151"/>
<path class="c7" d="M345 191.3L347.2 117.4"/>
<path class="c8" d="M345 191.3L351.1 182.6"/>
<path class="c9" d="M345 191.3L346.1 149"/>
<path class="c0" d="M345 191.3L374.3 140.7"/>
<path class="c1" d="M345 191.3L350.3 103.3"/>
<path class="c2" d="M345 191.3L352.5 169.4"/>
<path class="c3" d="M345 191.3L374.5 165"/>
<path class="c4" d="M345 191.3L376.4 171.7"/>
<path class="c5" d="M345 191.3L373 185.1"/>
<path class="c6" d="M345 191.3L358.7 165.8"/>
<path class="c7" d="M345 191.3L354.6 123.2"/>
<path class="c8" d="M345 191.3L358.9 115.4"/>
<path class="c9" d="M345 191.3L345.9 99"/>
<path class="c0" d="M345 191.3L347.5 162.5"/>
<path class="c1" d="M345 191.3L372.7 168.2"/>
<path class="c2" d="M345 191.3L399.7 171.6"/>
<path class="c3" d="M345 191.3L360.2 178"/>
<path class="c4" d="M345 191.3L420.8 184.2"/>
<path class="c5" d="M345 191.3L354.8 161.3"/>
<path class="c6" d="M345 191.3L365.5 187"/>
<path class="c7" d="M345 191.3L437.9 185.9"/>
<path class="c8" d="M345 191.3L351 164.2"/>
<path class="c9" d="M345 191.3L378.9 150.5"/>
<path class="c0" d="M345 191.3L351.8 160.4"/>
<path class="c1" d="M345 191.3L373.8 182.6"/>
<path class="c2" d="M345 191.3L390.2 147.5"/>
<path class="c3" d="M345 191.3L353.8 169.7"/>
<path class="c4" d="M345 191.3L384.9 166.9"/>
<path class="c5" d="M345 191.3L349.3 171.2"/>
<path class="c6" d="M345 191.3L380.3 184.7"/>
<path class="c7" d="M345 191.3L387.5 189.1"/>
<path class="c8" d="M345 191.3L433.2 172.7"/>
<path class="c9" d="M345 191.3L350.5 161.5"/>
<path class="c0" d="M345 191.3L363 186.7"/>
<path class="c1" d="M345 191.3L359.7 130.3"/>
<path class="c2" d="M345 191.3L413.8 187.2"/>
<path class="c3" d="M345 191.3L345 157.8"/>
<path class="c4" d="M345 191.3L363.7 169.7"/>
<path class="c5" d="M345 191.3L347.4 177.3"/>
<path class="c6" d="M345 191.3L373.3 158.5"/>
<path class="c7" d="M345 191.3L348.9 164.9"/>
<path class="c8" d="M345 191.3L422.1 183.5"/>
<path class="c9" d="M345 191.3L357 136"/>
<path class="c0" d="M345 191.3L347.9 171.3"/>
<path class="c1" d="M345 191.3L355.2 185.3"/>
<path class="c2" d="M345 191.3L364.7 167"/>
<path class="c3" d="M345 191.3L358.6 158.5"/>
<path class="c4" d="M345 191.3L367.7 184.3"/>
<path class="c5" d="M345 191.3L373.2 169.6"/>
<path class="c6" d="M345 191.3L387 184"/>
<path class="c7" d="M345 191.3L371.2 179.3"/>
<path class="c8" d="M345 191.3L428.7 189.4"/>
<path class="c9" d="M345 191.3L349.4 151.4"/>
<path class="c0" d="M345 191.3L347 136.5"/>
<path class="c1" d="M345 191.3L355.2 167.4"/>
<path class="c2" d="M345 191.3L370 188.6"/>
<path class="c3" d="M345 191.3L356.8 161"/>
<path class="c4" d="M345 191.3L375.9 189.3"/>
<path class="c5" d="M345 191.3L346 157.9"/>
<path class="c6" d="M345 191.3L350.8 153.3"/>
<path class="c7" d="M345 191.3L365.3 187.8"/>
<path class="c8" d="M345 191.3L387.3 152.2"/>
<path class="c9" d="M345 191.3L346.8 160"/>
<path class="c0" d="M345 191.3L370 167.3"/>
<path class="c1" d="M345 191.3L428 180.6"/>
<path class="c2" d="M345 191.3L346.6 180"/>
<path class="c3" d="M345 191.3L352.6 134.1"/>
<path class="c4" d="M345 191.3L379.9 185.8"/>
<path class="c5" d="M345 191.3L354.7 161.3"/>
<path class="c6" d="M345 191.3L345.4 132.3"/>
<path class="c7" d="M345 191.3L353.9 77.7"/>
<path class="c8" d="M345 191.3L351.4 134.1"/>
<path class="c9" d="M345 191.3L350.5 173.2"/>
<path class="c0" d="M345 191.3L372.2 185.1"/>
<path class="c1" d="M345 191.3L375.7 171.6"/>
<path class="c2" d="M345 191.3L363.4 152.4"/>
<path class="c3" d="M345 191.3L350.9 166.3"/>
<path class="c4" d="M345 191.3L424.3 172.3"/>
<path class="c5" d="M345 191.3L376.3 142.6"/>
<path class="c6" d="M345 191.3L408.9 187.3"/>
<path class="c7" d="M345 191.3L345.7 177.1"/>
<path class="c8" d="M345 191.3L345.9 174.8"/>
<path class="c9" d="M345 191.3L412.5 166.3"/>
<path class="c0" d="M345 191.3L349.9 161.5"/>
<path class="c1" d="M345 191.3L390.7 189.5"/>
<path class="c2" d="M345 191.3L358.7 173.6"/>
<path class="c3" d="M345 191.3L372.7 162.3"/>
<path class="c4" d="M345 191.3L399.8 190.6"/>
<path class="c5" d="M345 191.3L410.5 190.2"/>
<path class="c6" d="M345 191.3L360.5 163"/>
<path class="c7" d="M345 191.3L365.9 189.8"/>
<path class="c8" d="M345 191.3L440.4 190.1"/>
<path class="c9" d="M345 191.3L368 186.6"/>
<path class="c0" d="M345 191.3L459.4 182.7"/>
<path class="c1" d="M345 191.3L366.5 172.1"/>
<path class="c2" d="M345 191.3L355.5 188.9"/>
<path class="c3" d="M345 191.3L345.1 160.5"/>
<path class="c4" d="M345 191.3L371.5 130.8"/>
<path class="c5" d="M345 191.3L364.2 174.4"/>
<path class="c6" d="M345 191.3L380.9 158.5"/>
<path class="c7" d="M345 191.3L354.2 109.9"/>
<path class="c8" d="M345 191.3L440.3 185.6"/>
<path class="c9" d="M345 191.3L392.4 182.6"/>
<path class="c0" d="M345 191.3L375.3 190.9"/>
<path class="c1" d="M345 191.3L353.1 154.2"/>
<path class="c2" d="M345 191.3L356.7 167.3"/>
<path class="c3" d="M345 191.3L350.4 172.1"/>
<path class="c4" d="M345 191.3L350.1 67.3"/>
<path class="c5" d="M345 191.3L380.4 189.3"/>
<path class="c6" d="M345 191.3L360.6 139.8"/>
<path class="c7" d="M345 191.3L365.7 147.6"/>
<path class="c8" d="M345 191.3L357.5 165.8"/>
<path class="c9" d="M345 191.3L350.6 177.9"/>
<path class="c0" d="M345 191.3L408.8 190.3"/>
<path class="c1" d="M345 191.3L382 186.4"/>
<path class="c2" d="M345 191.3L374.8 191.1"/>
<path class="c3" d="M345 191.3L346.9 173.5"/>
<path class="c4" d="M345 191.3L383.9 159.1"/>
<path class="c5" d="M345 191.3L399.3 185.3"/>
<path class="c6" d="M345 191.3L411.3 179.2"/>
<path class="c7" d="M345 191.3L356.6 80.7"/>
<path class="c8" d="M345 191.3L388.2 187.7"/>
<path class="c9" d="M345 191.3L445.5 191"/>
<path class="c0" d="M345 191.3L355 174.2"/>
<path class="c1" d="M345 191.3L422.1 177.7"/>
<path class="c2" d="M345 191.3L350.1 172.3"/>
<path class="c3" d="M345 191.3L361.7 189.6"/>
<path class="c4" d="M345 191.3L371.1 162.6"/>
<path class="c5" d="M345 191.3L370 190.4"/>
<path class="c6" d="M345 191.3L364.8 169.9"/>
<path class="c7" d="M345 191.3L377.2 154"/>
<path class="c8" d="M345 191.3L409 165.5"/>
<path class="c9" d="M345 191.3L382.3 187.5"/>
<path class="c0" d="M345 191.3L345.2 172.3"/>
<path class="c1" d="M345 191.3L348.8 132.1"/>
<path class="c2" d="M345 191.3L397.3 182"/>
<path class="c3" d="M345 191.3L346 120.5"/>
<path class="c4" d="M345 191.3L373.4 191.3"/>
<path class="c5" d="M345 191.3L356.3 141.7"/>
<path class="c6" d="M345 191.3L361.5 189.7"/>
<path class="c7" d="M345 191.3L365.7 186.3"/>
<path class="c8" d="M345 191.3L361.8 189.5"/>
<path class="c9" d="M345 191.3L363.7 137.9"/>
<path class="c0" d="M345 191.3L384.7 185.4"/>
<path class="c1" d="M345 191.3L364 165.3"/>
<path class="c2" d="M345 191.3L346.6 126.5"/>
<path class="c3" d="M345 191.3L348.8 162.2"/>
<path class="c4" d="M345 191.3L409 174.4"/>
<path class="c5" d="M345 191.3L347.7 179.2"/>
<path class="c6" d="M345 191.3L349.2 160"/>
<path class="c7" d="M345 191.3L401.7 159.1"/>
<path class="c8" d="M345 191.3L377 187.8"/>
<path class="c9" d="M345 191.3L347.5 128.1"/>
<path class="c0" d="M345 191.3L349 151.7"/>
<path class="c1" d="M345 191.3L358.4 155.9"/>
<path class="c2" d="M345 191.3L360.3 175.7"/>
<path class="c3" d="M345 191.3L415.7 165.6"/>
<path class="c4" d="M345 191.3L396 127.1"/>
<path class="c5" d="M345 191.3L379 181.6"/>
<path class="c6" d="M345 191.3L384.9 176.6"/>
<path class="c7" d="M345 191.3L403.2 184.2"/>
<path class="c8" d="M345 191.3L378.9 186.4"/>
<path class="c9" d="M345 191.3L392.1 188.5"/>
<path class="c0" d="M345 191.3L346.8 162.8"/>
<path class="c1" d="M345 191.3L352.9 132.2"/>
<path class="c2" d="M345 191.3L373.9 172.1"/>
<path class="c3" d="M345 191.3L365.4 185.8"/>
<path class="c4" d="M345 191.3L369.9 169.3"/>
<path class="c5" d="M345 191.3L359.6 145.9"/>
<path class="c6" d="M345 191.3L369.9 133.5"/>
<path class="c7" d="M345 191.3L356.5 167.8"/>
<path class="c8" d="M345 191.3L349 171.9"/>
<path class="c9" d="M345 191.3L356.5 158.5"/>
<path class="c0" d="M345 191.3L396.9 140.2"/>
<path class="c1" d="M345 191.3L384.3 188.9"/>
<path class="c2" d="M345 191.3L395.2 182.8"/>
<path class="c3" d="M345 191.3L357.6 168.2"/>
<path class="c4" d="M345 191.3L345.6 134.1"/>
<path class="c5" d="M345 191.3L398 160.1"/>
<path class="c6" d="M345 191.3L345.7 129.3"/>
<path class="c7" d="M345 191.3L346.4 155.2"/>
<path class="c8" d="M345 191.3L369.7 186.2"/>
<path class="c9" d="M345 191.3L348.5 154.1"/>
<path class="c0" d="M345 191.3L396.2 172.1"/>
<path class="c1" d="M345 191.3L405.8 190.8"/>
<path class="c2" d="M345 191.3L386.1 178.1"/>
<path class="c3" d="M345 191.3L352.1 135.9"/>
<path class="c4" d="M345 191.3L361.4 184.8"/>
<path class="c5" d="M345 191.3L352.8 141.3"/>
<path class="c6" d="M345 191.3L385.9 156.1"/>
<path class="c7" d="M345 191.3L398.9 189.3"/>
<path class="c8" d="M345 191.3L377.9 168.3"/>
<path class="c9" d="M345 191.3L420.7 188.7"/>
<path class="c0" d="M345 191.3L350 175.7"/>
<path class="c1" d="M345 191.3L353.6 156.4"/>
<path class="c2" d="M345 191.3L384.6 181.5"/>
<path class="c3" d="M345 191.3L364.8 171.5"/>
<path class="c4" d="M345 191.3L411.3 166.8"/>
<path class="c5" d="M345 191.3L361.1 136.4"/>
<path class="c6" d="M345 191.3L382.3 185.9"/>
<path class="c7" d="M345 191.3L364.8 148.5"/>
<path class="c8" d="M345 191.3L363.8 135.4"/>
<path class="c9" d="M345 191.3L379.4 183.4"/>
<path class="c0" d="M345 191.3L352.2 179.1"/>
<path class="c1" d="M345 191.3L374.4 151.7"/>
<path class="c2" d="M345 191.3L357.9 171.5"/>
<path class="c3" d="M345 191.3L360.5 175.4"/>
<path class="c4" d="M345 191.3L357.3 162.8"/>
<path class="c5" d="M345 191.3L387.2 180.5"/>
<path class="c6" d="M345 191.3L346.6 169"/>
<path class="c7" d="M345 191.3L361.5 107.2"/>
<path class="c8" d="M345 191.3L354.6 167.7"/>
<path class="c9" d="M345 191.3L391.5 178.1"/>
<path class="c0" d="M345 191.3L356.7 76.6"/>
<path class="c1" d="M345 191.3L352 187.1"/>
<path class="c2" d="M345 191.3L388.1 159.8"/>
<path class="c3" d="M345 191.3L346.2 148.7"/>
<path class="c4" d="M345 191.3L367.9 151.6"/>
<path class="c5" d="M345 191.3L364.2 175.4"/>
<path class="c6" d="M345 191.3L353.1 168.5"/>
<path class="c7" d="M345 191.3L358.4 185.5"/>
<path class="c8" d="M345 191.3L371.2 188.1"/>
<path class="c9" d="M345 191.3L393.1 180.4"/>
<path class="c0" d="M345 191.3L390.3 189.9"/>
<path class="c1" d="M345 191.3L373.1 183.6"/>
<path class="c2" d="M345 191.3L361.6 179.7"/>
<path class="c3" d="M345 191.3L346.4 164.3"/>
<path class="c4" d="M345 191.3L388.2 174.4"/>
<path class="c5" d="M345 191.3L399.2 186.5"/>
<path class="c6" d="M345 191.3L373.2 176"/>
<path class="c7" d="M345 191.3L367.6 181"/>
<path class="c8" d="M345 191.3L364.7 185.6"/>
<path class="c9" d="M345 191.3L360.4 84.6"/>
<path class="c0" d="M345 191.3L356.5 179.5"/>
<path class="c1" d="M345 191.3L362.6 149.9"/>
<path class="c2" d="M345 191.3L347 164.6"/>
<path class="c3" d="M345 191.3L346.8 177.8"/>
<path class="c4" d="M345 191.3L367.2 184.5"/>
<path class="c5" d="M345 191.3L356.6 189.2"/>
<path class="c6" d="M345 191.3L369.6 181.6"/>
<path class="c7" d="M345 191.3L346.8 148.6"/>
<path class="c8" d="M345 191.3L383.1 185.9"/>
<path class="c9" d="M345 191.3L360.1 181.5"/>
<path class="c0" d="M345 191.3L376.6 170.4"/>
<path class="c1" d="M345 191.3L352.2 177.9"/>
<path class="c2" d="M345 191.3L367 190.4"/>
<path class="c3" d="M345 191.3L405.8 179.7"/>
<path class="c4" d="M345 191.3L388.8 130.2"/>
<path class="c5" d="M345 191.3L355.3 125.8"/>
<path class="c6" d="M345 191.3L347.2 140.1"/>
<path class="c7" d="M345 191.3L353.6 151"/>
<path class="c8" d="M345 191.3L371.5 185.1"/>
<path class="c9" d="M345 191.3L443.9 175.8"/>
<path class="c0" d="M345 191.3L363.5 182.9"/>
<path class="c1" d="M345 191.3L376.3 188.1"/>
<path class="c2" d="M345 191.3L377.7 166.4"/>
<path class="c3" d="M345 191.3L350.1 134.9"/>
<path class="c4" d="M345 191.3L407.1 171.1"/>
<path class="c5" d="M345 191.3L355.6 178.5"/>
<path class="c6" d="M345 191.3L385.6 188.7"/>
<path class="c7" d="M345 191.3L358.5 133.3"/>
<path class="c8" d="M345 191.3L424.2 185.1"/>
<path class="c9" d="M345 191.3L347.8 141.8"/>
<path class="c0" d="M345 191.3L357.6 139.1"/>
<path class="c1" d="M345 191.3L378.8 188.9"/>
<path class="c2" d="M345 191.3L399.7 186.1"/>
<path class="c3" d="M345 191.3L369.8 188.3"/>
<path class="c4" d="M345 191.3L368.6 166.7"/>
<path class="c5" d="M345 191.3L349.4 164.3"/>
<path class="c6" d="M345 191.3L357.9 166.8"/>
<path class="c7" d="M345 191.3L392.5 184.2"/>
<path class="c8" d="M345 191.3L346.3 175.2"/>
<path class="c9" d="M345 191.3L409.9 169.7"/>
<path class="c0" d="M345 191.3L354.8 180.6"/>
<path class="c1" d="M345 191.3L352.7 139.5"/>
<path class="c2" d="M345 191.3L392.9 183.6"/>
<path class="c3" d="M345 191.3L357.4 182.1"/>
<path class="c4" d="M345 191.3L376.3 174.1"/>
<path class="c5" d="M345 191.3L346.1 72.3"/>
<path class="c6" d="M345 191.3L361.3 179.9"/>
<path class="c7" d="M345 191.3L373.1 189.1"/>
<path class="c8" d="M345 191.3L384.1 158.9"/>
<path class="c9" d="M345 191.3L431.8 189.3"/>
<path class="c0" d="M345 191.3L367.7 149.3"/>
<path class="c1" d="M345 191.3L366.5 187.7"/>
<path class="c2" d="M345 191.3L365.8 186.7"/>
<path class="c3" d="M345 191.3L411.8 189.3"/>
<path class="c4" d="M345 191.3L375.7 114.6"/>
<path class="c5" d="M345 191.3L350.6 145.9"/>
<path class="c6" d="M345 191.3L395.1 184.8"/>
<path class="c7" d="M345 191.3L376.1 150.3"/>
<path class="c8" d="M345 191.3L417.9 188.4"/>
<path class="c9" d="M345 191.3L346 184.1"/>
<path class="c0" d="M345 191.3L348.6 170.6"/>
<path class="c1" d="M345 191.3L350.9 152.6"/>
<path class="c2" d="M345 191.3L421.2 170.9"/>
<path class="c3" d="M345 191.3L360 178.7"/>
<path class="c4" d="M345 191.3L361.7 150.6"/>
<path class="c5" d="M345 191.3L360.3 174.4"/>
<path class="c6" d="M345 191.3L358.6 161.6"/>
<path class="c7" d="M345 191.3L363 163.4"/>
<path class="c8" d="M345 191.3L368.2 166.3"/>
<path class="c9" d="M345 191.3L349.1 154.1"/>
<path class="c0" d="M345 191.3L352.6 156.5"/>
<path class="c1" d="M345 191.3L366.7 150.6"/>
<path class="c2" d="M345 191.3L370.3 170.3"/>
<path class="c3" d="M345 191.3L412.2 189.6"/>
<path class="c4" d="M345 191.3L350.6 175.4"/>
<path class="c5" d="M345 191.3L350 159.4"/>
<path class="c6" d="M345 191.3L347.1 167.3"/>
<path class="c7" d="M345 191.3L375.1 190"/>
<path class="c8" d="M345 191.3L397 186.7"/>
<path class="c9" d="M345 191.3L349.9 140.5"/>
<path class="c0" d="M345 191.3L371.6 189.8"/>
<path class="c1" d="M345 191.3L366 148"/>
<path class="c2" d="M345 191.3L367.1 181.9"/>
<path class="c3" d="M345 191.3L392.1 188.3"/>
<path class="c4" d="M345 191.3L413.2 179.8"/>
<path class="c5" d="M345 191.3L368.6 186.1"/>
<path class="c6" d="M345 191.3L399.9 181.3"/>
<path class="c7" d="M345 191.3L364.7 156.6"/>
<path class="c8" d="M345 191.3L406.7 168.5"/>
<path class="c9" d="M345 191.3L371.3 163.9"/>
<path class="c0" d="M345 191.3L362.9 180.2"/>
<path class="c1" d="M345 191.3L353.1 183.1"/>
<path class="c2" d="M345 191.3L383.8 187.9"/>
<path class="c3" d="M345 191.3L382.2 161.7"/>
<path class="c4" d="M345 191.3L361.7 190.7"/>
<path class="c5" d="M345 191.3L386.1 158.1"/>
<path class="c6" d="M345 191.3L356.9 134.1"/>
<path class="c7" d="M345 191.3L354.2 146.9"/>
<path class="c8" d="M345 191.3L348.6 152.3"/>
<path class="c9" d="M345 191.3L350.8 136.6"/>
<path class="c0" d="M345 191.3L366.4 143.6"/>
<path class="c1" d="M345 191.3L391.4 191.3"/>
<path class="c2" d="M345 191.3L377.9 174.4"/>
<path class="c3" d="M345 191.3L349.5 175.5"/>
<path class="c4" d="M345 191.3L371.3 182.7"/>
<path class="c5" d="M345 191.3L356.4 153"/>
<path class="c6" d="M345 191.3L402.2 185.9"/>
<path class="c7" d="M345 191.3L395.3 190.4"/>
<path class="c8" d="M345 191.3L362.9 125.6"/>
<path class="c9" d="M345 191.3L348.2 166.5"/>
<path class="c0" d="M345 191.3L413.6 186.2"/>
<path class="c1" d="M345 191.3L368.8 122.7"/>
<path class="c2" d="M345 191.3L351.2 149.1"/>
<path class="c3" d="M345 191.3L345.4 118.3"/>
<path class="c4" d="M345 191.3L353.4 173.1"/>
<path class="c5" d="M345 191.3L397.6 177.3"/>
<path class="c6" d="M345 191.3L348.8 156.7"/>
<path class="c7" d="M345 191.3L383.1 163"/>
<path class="c8" d="M345 191.3L366.7 186.3"/>
<path class="c9" d="M345 191.3L412.4 188.8"/>
<path class="c0" d="M345 191.3L414.7 191"/>
<path class="c1" d="M345 191.3L348.3 159.7"/>
<path class="c2" d="M345 191.3L360.7 91.4"/>
<path class="c3" d="M345 191.3L362.4 182.3"/>
<path class="c4" d="M345 191.3L367.4 191.1"/>
<path class="c5" d="M345 191.3L347.7 153.5"/>
<path class="c6" d="M345 191.3L373.5 178.9"/>
<path class="c7" d="M345 191.3L404.6 187.2"/>
<path class="c8" d="M345 191.3L392.6 185.1"/>
<path class="c9" d="M345 191.3L368.6 175.4"/>
<path class="c0" d="M345 191.3L352 170.7"/>
<path class="c1" d="M345 191.3L349.5 126.8"/>
<path class="c2" d="M345 191.3L385.2 188.8"/>
<path class="c3" d="M345 191.3L390.1 163"/>
<path class="c4" d="M345 191.3L421.6 175.2"/>
<path class="c5" d="M345 191.3L436 171.9"/>
<path class="c6" d="M345 191.3L360.3 163.4"/>
<path class="c7" d="M345 191.3L371.3 180.2"/>
<path class="c8" d="M345 191.3L353.4 168.5"/>
<path class="c9" d="M345 191.3L369.6 187.3"/>
<path class="c0" d="M345 191.3L404 154.8"/>
<path class="c1" d="M345 191.3L388 175"/>
<path class="c2" d="M345 191.3L374.4 117.4"/>
<path class="c7" d="M345 191.3L366.8 13.8"/>
<path class="c3" d="M345 191.3L370.4 176.9"/>
<path class="c4" d="M345 191.3L385.5 186.2"/>
<path class="c5" d="M345 191.3L349.6 155.4"/>
<path class="c6" d="M345 191.3L349.8 140.3"/>
<path class="c7" d="M345 191.3L361.4 23.9"/>
<path class="c7" d="M345 191.3L359.6 174.5"/>
<path class="c8" d="M345 191.3L366 185.5"/>
<path class="c9" d="M345 191.3L360.9 189"/>
<path class="c0" d="M345 191.3L379.2 185.6"/>
<path class="c1" d="M345 191.3L405.4 181.4"/>
<path class="c2" d="M345 191.3L376.9 148.6"/>
<path class="c3" d="M345 191.3L349.5 154.9"/>
<path class="c4" d="M345 191.3L348.7 161"/>
<path class="c5" d="M345 191.3L350.4 123.6"/>
<path class="c6" d="M345 191.3L349.2 148.7"/>
<path class="c7" d="M345 191.3L405.7 184.8"/>
<path class="c8" d="M345 191.3L374.6 189.6"/>
<path class="c1" d="M345 191.3L359.9 32.2"/>
<path class="c9" d="M345 191.3L345.5 133.7"/>
<path class="c0" d="M345 191.3L358.1 155.5"/>
<path class="c1" d="M345 191.3L356.5 98.9"/>
<path class="c2" d="M345 191.3L361.2 137.1"/>
<path class="c3" d="M345 191.3L362.6 190.4"/>
<path class="c4" d="M345 191.3L385.5 167.3"/>
<path class="c5" d="M345 191.3L385 183.3"/>
<path class="c6" d="M345 191.3L347.5 158.4"/>
<path class="c7" d="M345 191.3L369.5 172.6"/>
<path class="c8" d="M345 191.3L354.2 116.3"/>
<path class="c9" d="M345 191.3L353.8 170.2"/>
<path class="c0" d="M345 191.3L373.9 154.3"/>
<path class="c1" d="M345 191.3L354 177.7"/>
<path class="c2" d="M345 191.3L369.5 189.2"/>
<path class="c3" d="M345 191.3L380.7 182.1"/>
<path class="c4" d="M345 191.3L389.3 159.5"/>
<path class="c5" d="M345 191.3L415.3 187.2"/>
<path class="c6" d="M345 191.3L373.5 172.6"/>
<path class="c7" d="M345 191.3L354 189.7"/>
<path class="c8" d="M345 191.3L347.7 141.6"/>
<path class="c9" d="M345 191.3L395.4 181.6"/>
<path class="c0" d="M345 191.3L345.2 172.8"/>
<path class="c1" d="M345 191.3L378 188.9"/>
<path class="c2" d="M345 191.3L356.6 171.7"/>
<path class="c3" d="M345 191.3L364.1 189.8"/>
<path class="c4" d="M345 191.3L364.9 129.1"/>
<path class="c5" d="M345 191.3L400.6 176.6"/>
<path class="c6" d="M345 191.3L356.2 181.7"/>
<path class="c7" d="M345 191.3L415.7 186.3"/>
<path class="c8" d="M345 191.3L349.2 178.1"/>
<path class="c9" d="M345 191.3L371.4 137.5"/>
<path class="c0" d="M345 191.3L388.3 187.8"/>
<path class="c1" d="M345 191.3L399 161.2"/>
<path class="c2" d="M345 191.3L380.1 133.5"/>
<path class="c3" d="M345 191.3L345.9 143.8"/>
<path class="c4" d="M345 191.3L404 188.2"/>
<path class="c5" d="M345 191.3L378.2 187.3"/>
<path class="c6" d="M345 191.3L379.2 166.6"/>
<path class="c7" d="M345 191.3L394 182.3"/>
<path class="c8" d="M345 191.3L346.4 176.7"/>
<path class="c9" d="M345 191.3L350.9 142"/>
<path class="c0" d="M345 191.3L379.3 158.3"/>
<path class="c0" d="M345 191.3L348 28"/>
<path class="c1" d="M345 191.3L390 190.4"/>
<path class="c2" d="M345 191.3L372.6 173.3"/>
<path class="c3" d="M345 191.3L407.5 182.4"/>
<path class="c4" d="M345 191.3L370.4 149.7"/>
<path class="c5" d="M345 191.3L358 171.3"/>
<path class="c6" d="M345 191.3L367.7 186.4"/>
<path class="c7" d="M345 191.3L363.1 99.8"/>
<path class="c8" d="M345 191.3L373 157.8"/>
<path class="c9" d="M345 191.3L363.5 168.7"/>
<path class="c0" d="M345 191.3L388.7 186.7"/>
<path class="c1" d="M345 191.3L348.2 119.4"/>
<path class="c2" d="M345 191.3L360.9 174.8"/>
<path class="c3" d="M345 191.3L375.9 177.8"/>
<path class="c4" d="M345 191.3L412.1 176.9"/>
<path class="c5" d="M345 191.3L446.5 179.9"/>
<path class="c6" d="M345 191.3L351.8 67.7"/>
<path class="c7" d="M345 191.3L350.6 144.6"/>
<path class="c8" d="M345 191.3L363.1 140.4"/>
<path class="c4" d="M345 191.3L350.7 30.4"/>
<path class="c9" d="M345 191.3L380.3 151.9"/>
<path class="c0" d="M345 191.3L374.9 178.3"/>
<path class="c1" d="M345 191.3L370.3 145.7"/>
<path class="c2" d="M345 191.3L382.3 172.5"/>
<path class="c3" d="M345 191.3L349.5 123.1"/>
<path class="c4" d="M345 191.3L357.2 129"/>
<path class="c5" d="M345 191.3L349.2 155.9"/>
<path class="c6" d="M345 191.3L353.4 143.9"/>
<path class="c7" d="M345 191.3L352.9 127.9"/>
<path class="c2" d="M345 191.3L348.3 46"/>
<path class="c8" d="M345 191.3L347.7 165"/>
<path class="c9" d="M345 191.3L346.4 172.2"/>
<path class="c0" d="M345 191.3L363.7 189.2"/>
<path class="c1" d="M345 191.3L345.1 169.5"/>
<path class="c2" d="M345 191.3L403.1 180.6"/>
<path class="c3" d="M345 191.3L346.9 183.3"/>
<path class="c9" d="M345 191.3L353.1 51.6"/>
<path class="c6" d="M345 191.3L345.6 58.9"/>
<path class="c4" d="M345 191.3L400.3 191.1"/>
<path class="c5" d="M345 191.3L414.7 182.3"/>
<path class="c6" d="M345 191.3L369.6 189.3"/>
<path class="c7" d="M345 191.3L386.7 180.9"/>
<path class="c8" d="M345 191.3L414.5 156.4"/>
<path class="c9" d="M345 191.3L383.9 181.1"/>
<path class="c0" d="M345 191.3L372.8 187.3"/>
<path class="c1" d="M345 191.3L381.1 51.6"/>
<path class="c1" d="M345 191.3L358 174.6"/>
<path class="c2" d="M345 191.3L374 184.9"/>
<path class="c3" d="M345 191.3L349 116.9"/>
<path class="c4" d="M345 191.3L386.6 186.2"/>
<path class="c0" d="M345 191.3L384.4 53.8"/>
<path class="c5" d="M345 191.3L359.4 96.3"/>
<path class="c6" d="M345 191.3L388.6 188.4"/>
<path class="c7" d="M345 191.3L346.2 172.6"/>
<path class="c8" d="M345 191.3L365.7 139"/>
<path class="c9" d="M345 191.3L354.8 183.7"/>
<path class="c0" d="M345 191.3L383.8 184.1"/>
<path class="c1" d="M345 191.3L358.6 103.2"/>
<path class="c2" d="M345 191.3L437.1 184.5"/>
<path class="c4" d="M345 191.3L370.1 58"/>
<path class="c3" d="M345 191.3L361.7 167.2"/>
<path class="c4" d="M345 191.3L352.8 154.6"/>
<path class="c5" d="M345 191.3L355.5 178.1"/>
<path class="c6" d="M345 191.3L397.7 190.8"/>
<path class="c7" d="M345 191.3L356.5 171.7"/>
<path class="c8" d="M345 191.3L379.7 183.3"/>
<path class="c2" d="M345 191.3L372.8 73.3"/>
<path class="c9" d="M345 191.3L354.8 164.1"/>
<path class="c0" d="M345 191.3L405 180"/>
<path class="c1" d="M345 191.3L405.2 176"/>
<path class="c2" d="M345 191.3L353.7 153.8"/>
<path class="c3" d="M345 191.3L354.6 187.4"/>
<path class="c4" d="M345 191.3L357.4 102.7"/>
<path class="c0" d="M345 191.3L375.2 73.7"/>
<path class="c5" d="M345 191.3L349.2 170.8"/>
<path class="c6" d="M345 191.3L374.2 183.3"/>
<path class="c7" d="M345 191.3L352.9 190.3"/>
<path class="c8" d="M345 191.3L348.5 131.7"/>
<path class="c9" d="M345 191.3L355.2 181.5"/>
<path class="c0" d="M345 191.3L429.4 184.8"/>
<path class="c1" d="M345 191.3L412.1 190.1"/>
<path class="c2" d="M345 191.3L349.4 164.7"/>
<path class="c3" d="M345 191.3L355.8 125"/>
<path class="c4" d="M345 191.3L375.1 172.2"/>
<path class="c5" d="M345 191.3L348.1 182"/>
<path class="c6" d="M345 191.3L362.4 179.1"/>
<path class="c1" d="M345 191.3L396.2 82"/>
<path class="c7" d="M345 191.3L355.2 182"/>
<path class="c8" d="M345 191.3L346.9 178.7"/>
<path class="c9" d="M345 191.3L346.6 174.8"/>
<path class="c0" d="M345 191.3L347.7 163.8"/>
<path class="c2" d="M345 191.3L439.9 33.5"/>
<path class="c1" d="M345 191.3L347.4 155.5"/>
<path class="c2" d="M345 191.3L345.2 168"/>
<path class="c8" d="M345 191.3L422.9 68.5"/>
<path class="c3" d="M345 191.3L354.9 138.7"/>
<path class="c4" d="M345 191.3L358.7 179"/>
<path class="c5" d="M345 191.3L370.4 190.6"/>
<path class="c6" d="M345 191.3L357.3 144.6"/>
<path class="c7" d="M345 191.3L356.6 132.6"/>
<path class="c8" d="M345 191.3L384.5 125.4"/>
<path class="c9" d="M345 191.3L347.3 163.3"/>
<path class="c0" d="M345 191.3L356.1 149.5"/>
<path class="c1" d="M345 191.3L355.7 186.6"/>
<path class="c2" d="M345 191.3L376.3 186.5"/>
<path class="c3" d="M345 191.3L389 189.6"/>
<path class="c4" d="M345 191.3L364.1 106.9"/>
<path class="c5" d="M345 191.3L361.3 138.3"/>
<path class="c6" d="M345 191.3L357 162.4"/>
<path class="c7" d="M345 191.3L354.3 163.3"/>
<path class="c8" d="M345 191.3L350.4 76.4"/>
<path class="c9" d="M345 191.3L426.3 181.3"/>
<path class="c0" d="M345 191.3L352.5 180.1"/>
<path class="c1" d="M345 191.3L398.8 169.8"/>
<path class="c5" d="M345 191.3L414.3 88.8"/>
<path class="c2" d="M345 191.3L387.6 174.5"/>
<path class="c3" d="M345 191.3L393.6 185.2"/>
<path class="c4" d="M345 191.3L364.9 163.5"/>
<path class="c3" d="M345 191.3L347.4 55"/>
<path class="c5" d="M345 191.3L419.6 187.1"/>
<path class="c6" d="M345 191.3L373.3 187.6"/>
<path class="c7" d="M345 191.3L345.6 182.4"/>
<path class="c8" d="M345 191.3L444.3 185"/>
<path class="c9" d="M345 191.3L345.2 155.7"/>
<path class="c0" d="M345 191.3L356.9 155.8"/>
<path class="c1" d="M345 191.3L375 189.6"/>
<path class="c2" d="M345 191.3L440.3 188.9"/>
<path class="c3" d="M345 191.3L347.4 147.9"/>
<path class="c4" d="M345 191.3L388.4 189.6"/>
<path class="c5" d="M345 191.3L393.9 185.8"/>
<path class="c6" d="M345 191.3L348.6 121"/>
<path class="c7" d="M345 191.3L373.8 181.2"/>
<path class="c8" d="M345 191.3L402.2 181.8"/>
<path class="c9" d="M345 191.3L385.7 186.7"/>
<path class="c0" d="M345 191.3L350.4 157.9"/>
<path class="c1" d="M345 191.3L406.2 168.1"/>
<path class="c2" d="M345 191.3L351.4 160"/>
<path class="c3" d="M345 191.3L357.1 143.3"/>
<path class="c6" d="M345 191.3L355.3 69"/>
<path class="c4" d="M345 191.3L366.9 164"/>
<path class="c5" d="M345 191.3L355.6 166"/>
<path class="c6" d="M345 191.3L360.1 180.8"/>
<path class="c7" d="M345 191.3L350 181.2"/>
<path class="c8" d="M345 191.3L348.9 169.2"/>
<path class="c9" d="M345 191.3L347.1 160"/>
<path class="c0" d="M345 191.3L373.5 184.6"/>
<path class="c1" d="M345 191.3L356.3 126.1"/>
<path class="c2" d="M345 191.3L365.4 157.9"/>
<path class="c3" d="M345 191.3L387.6 185.4"/>
<path class="c4" d="M345 191.3L347.5 130.7"/>
<path class="c5" d="M345 191.3L399.8 179.9"/>
<path class="c4" d="M345 191.3L360.5 62.6"/>
<path class="c6" d="M345 191.3L349.9 156.7"/>
<path class="c7" d="M345 191.3L352.1 149.1"/>
<path class="c8" d="M345 191.3L380.8 185.5"/>
<path class="c9" d="M345 191.3L374.5 190.4"/>
<path class="c0" d="M345 191.3L353.5 160.2"/>
<path class="c1" d="M345 191.3L354.5 180.6"/>
<path class="c2" d="M345 191.3L429.3 184.8"/>
<path class="c3" d="M345 191.3L374.8 188.4"/>
<path class="c4" d="M345 191.3L377.9 187.8"/>
<path class="c5" d="M345 191.3L397 182.9"/>
<path class="c9" d="M345 191.3L363.6 88.4"/>
<path class="c6" d="M345 191.3L364.3 119.6"/>
<path class="c7" d="M345 191.3L368.2 173.5"/>
<path class="c8" d="M345 191.3L421.1 168.3"/>
<path class="c3" d="M345 191.3L468 73.6"/>
<path class="c9" d="M345 191.3L382 156.2"/>
<path class="c0" d="M345 191.3L354.6 126.4"/>
<path class="c1" d="M345 191.3L395.9 190.9"/>
<path class="c2" d="M345 191.3L356.7 184.3"/>
<path class="c3" d="M345 191.3L366.7 189.9"/>
<path class="c4" d="M345 191.3L365.1 148.9"/>
<path class="c5" d="M345 191.3L378.7 188.1"/>
<path class="c6" d="M345 191.3L346.9 104.7"/>
<path class="c7" d="M345 191.3L363.1 189.9"/>
<path class="c8" d="M345 191.3L372.7 180.5"/>
<path class="c9" d="M345 191.3L370.3 189.2"/>
<path class="c6" d="M345 191.3L481 73.2"/>
<path class="c0" d="M345 191.3L352.3 74.3"/>
<path class="c5" d="M345 191.3L468.5 94.3"/>
<path class="c1" d="M345 191.3L360.4 181.3"/>
<path class="c2" d="M345 191.3L354.3 170.1"/>
<path class="c3" d="M345 191.3L379.1 187.7"/>
<path class="c4" d="M345 191.3L402.3 187"/>
<path class="c5" d="M345 191.3L416.9 152.3"/>
<path class="c6" d="M345 191.3L345.6 176.2"/>
<path class="c7" d="M345 191.3L347.1 154.8"/>
<path class="c8" d="M345 191.3L369.7 159.1"/>
<path class="c9" d="M345 191.3L385.7 173.1"/>
<path class="c0" d="M345 191.3L400.3 180.7"/>
<path class="c1" d="M345 191.3L347.6 155"/>
<path class="c9" d="M345 191.3L479 110.4"/>
<path class="c2" d="M345 191.3L355.2 160.3"/>
<path class="c3" d="M345 191.3L353.4 164.4"/>
<path class="c4" d="M345 191.3L441.4 184.1"/>
<path class="c5" d="M345 191.3L387 178.2"/>
<path class="c6" d="M345 191.3L372.2 132.1"/>
<path class="c7" d="M345 191.3L375.1 161"/>
<path class="c8" d="M345 191.3L351.1 174.7"/>
<path class="c9" d="M345 191.3L346.5 154.5"/>
<path class="c0" d="M345 191.3L387.9 188.4"/>
<path class="c1" d="M345 191.3L351.9 154.8"/>
<path class="c2" d="M345 191.3L357.1 155.9"/>
<path class="c3" d="M345 191.3L345.5 160.2"/>
<path class="c4" d="M345 191.3L374.7 189.4"/>
<path class="c5" d="M345 191.3L348.1 149.9"/>
<path class="c1" d="M345 191.3L476 137"/>
<path class="c6" d="M345 191.3L361.8 179.4"/>
<path class="c6" d="M345 191.3L466 138.8"/>
<path class="c7" d="M345 191.3L394.2 179.8"/>
<path class="c8" d="M345 191.3L351.5 151.3"/>
<path class="c9" d="M345 191.3L376.6 177.9"/>
<path class="c0" d="M345 191.3L391.3 158.6"/>
<path class="c1" d="M345 191.3L358.7 171.2"/>
<path class="c2" d="M345 191.3L356.6 106"/>
<path class="c3" d="M345 191.3L381.1 182.2"/>
<path class="c4" d="M345 191.3L393.2 186.9"/>
<path class="c5" d="M345 191.3L357.7 144.8"/>
<path class="c6" d="M345 191.3L385.3 189.5"/>
<path class="c0" d="M345 191.3L474.9 152.6"/>
<path class="c7" d="M345 191.3L376.5 182.1"/>
<path class="c8" d="M345 191.3L358.9 154.5"/>
<path class="c9" d="M345 191.3L364.6 142.9"/>
<path class="c0" d="M345 191.3L421.4 180.5"/>
<path class="c1" d="M345 191.3L443.5 190.2"/>
<path class="c2" d="M345 191.3L424.2 180.1"/>
<path class="c3" d="M345 191.3L359.9 179.5"/>
<path class="c4" d="M345 191.3L369.3 190.6"/>
<path class="c5" d="M345 191.3L348 150.1"/>
<path class="c6" d="M345 191.3L407.7 186.2"/>
<path class="c7" d="M345 191.3L402.3 188.2"/>
<path class="c8" d="M345 191.3L375.9 180.8"/>
<path class="c9" d="M345 191.3L371.2 187.8"/>
<path class="c0" d="M345 191.3L407.2 186.5"/>
<path class="c1" d="M345 191.3L408.4 175.3"/>
<path class="c2" d="M345 191.3L381.2 180"/>
<path class="c3" d="M345 191.3L345.7 159.8"/>
<path class="c4" d="M345 191.3L439.7 182.9"/>
<path class="c5" d="M345 191.3L413.6 186.1"/>
<path class="c6" d="M345 191.3L366.1 177.7"/>
<path class="c7" d="M345 191.3L375.6 185.7"/>
<path class="c8" d="M345 191.3L386.4 181.1"/>
<path class="c9" d="M345 191.3L355.7 155.5"/>
<path class="c0" d="M345 191.3L371.5 191.2"/>
<path class="c1" d="M345 191.3L345.1 72.9"/>
<path class="c2" d="M345 191.3L346.4 172.8"/>
<path class="c3" d="M345 191.3L368 180.6"/>
<path class="c4" d="M345 191.3L409.1 188.3"/>
<path class="c0" d="M345 191.3L454.7 147.3"/>
<path class="c5" d="M345 191.3L377 154.4"/>
<path class="c6" d="M345 191.3L359 158.1"/>
<path class="c7" d="M345 191.3L359.8 141.9"/>
<path class="c8" d="M345 191.3L377.2 173.3"/>
<path class="c9" d="M345 191.3L402.6 171.9"/>
<path class="c0" d="M345 191.3L351.5 154.6"/>
<path class="c0" d="M345 191.3L469.5 163.4"/>
<path class="c1" d="M345 191.3L351.9 187.5"/>
<path class="c2" d="M345 191.3L408.1 188"/>
<path class="c3" d="M345 191.3L397.9 186"/>
<path class="c4" d="M345 191.3L389 161.2"/>
<path class="c5" d="M345 191.3L404 175.2"/>
<path class="c6" d="M345 191.3L383.5 185.4"/>
<path class="c7" d="M345 191.3L429.7 171.9"/>
<path class="c8" d="M345 191.3L347.1 167"/>
<path class="c6" d="M345 191.3L447.8 170.5"/>
<path class="c9" d="M345 191.3L348 156.1"/>
<path class="c0" d="M345 191.3L398.8 187.9"/>
<path class="c1" d="M345 191.3L365.1 172.9"/>
<path class="c2" d="M345 191.3L350.5 134.4"/>
<path class="c3" d="M345 191.3L347.2 149.8"/>
<path class="c4" d="M345 191.3L370.7 179.1"/>
<path class="c5" d="M345 191.3L384.9 181"/>
<path class="c6" d="M345 191.3L360.5 139.2"/>
<path class="c7" d="M345 191.3L351 173.4"/>
<path class="c8" d="M345 191.3L367.9 185.1"/>
<path class="c9" d="M345 191.3L365.9 189.7"/>
<path class="c0" d="M345 191.3L388.2 179.3"/>
<path class="c6" d="M345 191.3L474.5 173.5"/>
<path class="c1" d="M345 191.3L350.7 162.5"/>
<path class="c2" d="M345 191.3L355.4 130.9"/>
<path class="c3" d="M345 191.3L351 145.5"/>
<path class="c4" d="M345 191.3L406.6 186"/>
<path class="c5" d="M345 191.3L347.5 164.8"/>
<path class="c6" d="M345 191.3L348.7 146"/>
<path class="c7" d="M345 191.3L357.1 179.4"/>
<path class="c8" d="M345 191.3L389.7 145.8"/>
<path class="c9" d="M345 191.3L352.7 148.4"/>
<path class="c0" d="M345 191.3L350.4 165.1"/>
<path class="c1" d="M345 191.3L346.8 142.8"/>
<path class="c2" d="M345 191.3L373.4 188.6"/>
<path class="c8" d="M345 191.3L467.6 173.5"/>
<path class="c3" d="M345 191.3L356 153.5"/>
<path class="c4" d="M345 191.3L357.2 133.4"/>
<path class="c5" d="M345 191.3L392.7 186.2"/>
<path class="c6" d="M345 191.3L362.8 173.8"/>
<path class="c7" d="M345 191.3L378.1 179.2"/>
<path class="c8" d="M345 191.3L351.4 176.6"/>
<path class="c9" d="M345 191.3L387.6 180.7"/>
<path class="c0" d="M345 191.3L348.1 171.5"/>
<path class="c1" d="M345 191.3L452.6 182.9"/>
<path class="c2" d="M345 191.3L345.9 160.3"/>
<path class="c3" d="M345 191.3L347.1 178.9"/>
<path class="c4" d="M345 191.3L346.3 176.8"/>
<path class="c5" d="M345 191.3L360.9 187.4"/>
<path class="c6" d="M345 191.3L354.8 153"/>
<path class="c7" d="M345 191.3L390.3 182.8"/>
<path class="c8" d="M345 191.3L347.4 179.7"/>
<path class="c9" d="M345 191.3L352.5 168.4"/>
<path class="c0" d="M345 191.3L347.7 169.5"/>
<path class="c3" d="M345 191.3L461.6 176.9"/>
<path class="c1" d="M345 191.3L384.6 119.9"/>
<path class="c8" d="M345 191.3L479.4 179.8"/>
<path class="c2" d="M345 191.3L372.4 188.4"/>
<path class="c3" d="M345 191.3L389.7 156.3"/>
<path class="c2" d="M345 191.3L466.6 181.8"/>
<path class="c4" d="M345 191.3L367.6 180.4"/>
<path class="c5" d="M345 191.3L361.6 149.7"/>
<path class="c6" d="M345 191.3L385.9 182.4"/>
<path class="c7" d="M345 191.3L380.5 168.1"/>
<path class="c8" d="M345 191.3L373.9 187.6"/>
<path class="c9" d="M345 191.3L366.6 141.3"/>
<path class="c0" d="M345 191.3L358.2 167.1"/>
<path class="c1" d="M345 191.3L388.7 188.2"/>
<path class="c2" d="M345 191.3L356.4 106.5"/>
<path class="c3" d="M345 191.3L411.8 165.7"/>
<path class="c4" d="M345 191.3L350.1 84.8"/>
<path class="c5" d="M345 191.3L358.4 189.4"/>
<path class="c6" d="M345 191.3L378.1 172.3"/>
<path class="c7" d="M345 191.3L346 133.1"/>
<path class="c8" d="M345 191.3L346.8 136.1"/>
<path class="c9" d="M345 191.3L366.3 171.7"/>
<path class="c0" d="M345 191.3L417.7 182.6"/>
<path class="c1" d="M345 191.3L360.6 171.4"/>
<path class="c2" d="M345 191.3L355.9 167.7"/>
<path class="c3" d="M345 191.3L347.1 156.1"/>
<path class="c4" d="M345 191.3L374.1 190.7"/>
<path class="c5" d="M345 191.3L368.3 189.9"/>
<path class="c6" d="M345 191.3L355.8 181.4"/>
<path class="c7" d="M345 191.3L408.2 181.5"/>
<path class="c8" d="M345 191.3L350.1 102.2"/>
<path class="c9" d="M345 191.3L366.2 129.1"/>
<path class="c0" d="M345 191.3L373.3 144.2"/>
<path class="c1" d="M345 191.3L346.7 135.5"/>
<path class="c2" d="M345 191.3L348.7 172.8"/>
<path class="c3" d="M345 191.3L348 166.1"/>
<path class="c4" d="M345 191.3L365.7 130"/>
<path class="c5" d="M345 191.3L346.3 180.4"/>
<path class="c6" d="M345 191.3L354.6 102"/>
<path class="c7" d="M345 191.3L373.2 154.5"/>
<path class="c8" d="M345 191.3L358 187.8"/>
<path class="c9" d="M345 191.3L349.6 172.7"/>
<path class="c0" d="M345 191.3L367.4 168.9"/>
<path class="c1" d="M345 191.3L388.8 175.2"/>
<path class="c2" d="M345 191.3L349.2 132.3"/>
<path class="c3" d="M345 191.3L361 171.3"/>
<path class="c4" d="M345 191.3L372 189.9"/>
<path class="c5" d="M345 191.3L366.5 187.8"/>
<path class="c6" d="M345 191.3L391.8 166.2"/>
<path class="c7" d="M345 191.3L353.8 150.2"/>
<path class="c8" d="M345 191.3L388.8 190"/>
<path class="c9" d="M345 191.3L347 169.3"/>
<path class="c0" d="M345 191.3L386.6 184.1"/>
<path class="c1" d="M345 191.3L353 131.4"/>
<path class="c7" d="M345 191.3L488.9 187.7"/>
<path class="c2" d="M345 191.3L368.7 178.9"/>
<path class="c3" d="M345 191.3L400 183.4"/>
<path class="c4" d="M345 191.3L360.5 154.8"/>
<path class="c5" d="M345 191.3L373 156.4"/>
<path class="c6" d="M345 191.3L367.1 169.7"/>
<path class="c7" d="M345 191.3L380.5 187.3"/>
<path class="c8" d="M345 191.3L347.7 121.3"/>
<path class="c9" d="M345 191.3L349.2 181.5"/>
<path class="c0" d="M345 191.3L354.6 149.6"/>
<path class="c1" d="M345 191.3L345.9 161"/>
<path class="c2" d="M345 191.3L379.4 143.1"/>
<path class="c3" d="M345 191.3L367.1 158.7"/>
<path class="c4" d="M345 191.3L363.4 160.4"/>
<path class="c5" d="M345 191.3L365.3 114.4"/>
<path class="c3" d="M345 191.3L489.3 191"/>
<path class="c6" d="M345 191.3L417.7 188.2"/>
<path class="c7" d="M345 191.3L360.9 170.8"/>
<path class="c8" d="M345 191.3L347.7 164.6"/>
<path class="c9" d="M345 191.3L380.7 188.1"/>
<path class="c0" d="M345 191.3L358.6 160.3"/>
<path class="c1" d="M345 191.3L358.2 179"/>
<path class="c2" d="M345 191.3L393.2 189.2"/>
<path class="c3" d="M345 191.3L350.7 145.2"/>
<path class="c4" d="M345 191.3L361.4 86"/>
<path class="c1" d="M345 191.3L523.8 191"/>
<path class="c5" d="M345 191.3L355 157.7"/>
<path class="c6" d="M345 191.3L388.3 174"/>
<path class="c7" d="M345 191.3L362.1 184.4"/>
<path class="c8" d="M345 191.3L354.4 174.7"/>
<path class="c9" d="M345 191.3L358.5 117.1"/>
<path class="c0" d="M345 191.3L368.6 119.7"/>
<path class="c1" d="M345 191.3L367.9 189"/>
<path class="c2" d="M345 191.3L353.9 127.5"/>
<path class="c3" d="M345 191.3L351.8 143.3"/>
<path class="c7" d="M345 191.3L444.9 114.3"/>
<path class="c4" d="M345 191.3L360.5 161.2"/>
<path class="c5" d="M345 191.3L376.1 142.1"/>
<path class="c6" d="M345 191.3L348.8 136.5"/>
<path class="c7" d="M345 191.3L351.3 119.2"/>
<path class="c8" d="M345 191.3L377.1 153.5"/>
<path class="c9" d="M345 191.3L383.5 180.7"/>
<path class="c0" d="M345 191.3L379 167"/>
<path class="c1" d="M345 191.3L351.6 117.3"/>
<path class="c2" d="M345 191.3L368.4 184.4"/>
<path class="c3" d="M345 191.3L382.8 186.9"/>
<path class="c4" d="M345 191.3L374 162.6"/>
<path class="c5" d="M345 191.3L369.7 154.5"/>
<path class="c6" d="M345 191.3L374.5 180.2"/>
<path class="c7" d="M345 191.3L406 149.2"/>
<path class="c8" d="M345 191.3L388.6 126.1"/>
<path class="c9" d="M345 191.3L370.5 181"/>
<path class="c0" d="M345 191.3L346.1 168.8"/>
<path class="c1" d="M345 191.3L356.2 178.2"/>
<path class="c2" d="M345 191.3L348.4 147.2"/>
<path class="c3" d="M345 191.3L352.3 178.9"/>
<path class="c4" d="M345 191.3L356.9 168.3"/>
<path class="c5" d="M345 191.3L361.6 178.9"/>
<path class="c6" d="M345 191.3L346.1 178.5"/>
<path class="c7" d="M345 191.3L395.2 160"/>
<path class="c8" d="M345 191.3L351.1 151.4"/>
<path class="c8" d="M345 191.3L444.3 120.6"/>
<path class="c9" d="M345 191.3L359 188.8"/>
<path class="c0" d="M345 191.3L358.7 169.7"/>
<path class="c1" d="M345 191.3L375.4 188.8"/>
<path class="c7" d="M345 191.3L441 130.5"/>
<path class="c2" d="M345 191.3L351.8 154.2"/>
<path class="c3" d="M345 191.3L345.1 59.9"/>
<path class="c4" d="M345 191.3L367.6 186.7"/>
<path class="c5" d="M345 191.3L347.3 112.3"/>
<path class="c6" d="M345 191.3L352.8 179.4"/>
<path class="c7" d="M345 191.3L350.4 175.8"/>
<path class="c8" d="M345 191.3L358.5 137.6"/>
<path class="c9" d="M345 191.3L455.7 185"/>
<path class="c9" d="M345 191.3L378 185.6"/>
<path class="c0" d="M345 191.3L377.3 183.8"/>
<path class="c1" d="M345 191.3L391 186.9"/>
<path class="c4" d="M345 191.3L462.6 187.3"/>
<path class="c2" d="M345 191.3L369.9 148.5"/>
<path class="c3" d="M345 191.3L356.1 165.3"/>
<path class="c4" d="M345 191.3L369.8 175.5"/>
<path class="c5" d="M345 191.3L352.1 156"/>
<path class="c6" d="M345 191.3L426.8 172.9"/>
<path class="c7" d="M345 191.3L357.8 127"/>
<path class="c8" d="M345 191.3L354.1 190.3"/>
<path class="c9" d="M345 191.3L354.1 150.1"/>
<path class="c0" d="M345 191.3L348.7 168"/>
<path class="c1" d="M345 191.3L441.8 178.8"/>
<path class="c2" d="M345 191.3L348.2 143.5"/>
<path class="c3" d="M345 191.3L349.9 165.3"/>
<path class="c4" d="M345 191.3L350.8 165.2"/>
<path class="c5" d="M345 191.3L437 179.4"/>
<path class="c6" d="M345 191.3L369.9 184"/>
<path class="c7" d="M345 191.3L395.3 182.4"/>
<path class="c8" d="M345 191.3L372.1 158.2"/>
<path class="c9" d="M345 191.3L352.8 156.8"/>
<path class="c0" d="M345 191.3L360.2 189.4"/>
<path class="c1" d="M345 191.3L375.4 190.2"/>
<path class="c2" d="M345 191.3L358.2 170.2"/>
<path class="c3" d="M345 191.3L394.6 163.8"/>
<path class="c4" d="M345 191.3L350.4 176.7"/>
<path class="c5" d="M345 191.3L347.6 171"/>
<path class="c6" d="M345 191.3L354.6 181.7"/>
<path class="c7" d="M345 191.3L356.3 152.5"/>
<path class="c8" d="M345 191.3L358.7 141.9"/>
<path class="c7" d="M345 191.3L414.2 106.8"/>
<path class="c9" d="M345 191.3L378.4 183.7"/>
<path class="c0" d="M345 191.3L365.4 142.4"/>
<path class="c1" d="M345 191.3L422.4 120.4"/>
<path class="c1" d="M345 191.3L353 149.8"/>
<path class="c2" d="M345 191.3L353.9 178.2"/>
<path class="c3" d="M345 191.3L367.4 184.3"/>
<path class="c4" d="M345 191.3L388.1 141.4"/>
<path class="c5" d="M345 191.3L361.5 187.6"/>
<path class="c6" d="M345 191.3L422.2 185.7"/>
<path class="c7" d="M345 191.3L378.4 186.4"/>
<path class="c0" d="M345 191.3L405.8 102.7"/>
<path class="c8" d="M345 191.3L376.7 181.8"/>
<path class="c9" d="M345 191.3L347.2 126.6"/>
<path class="c0" d="M345 191.3L352.5 169.2"/>
<path class="c1" d="M345 191.3L411.1 190.5"/>
<path class="c2" d="M345 191.3L389.9 189.6"/>
<path class="c4" d="M345 191.3L402.1 113.3"/>
<path class="c3" d="M345 191.3L370 190.2"/>
<path class="c4" d="M345 191.3L367 150.2"/>
<path class="c5" d="M345 191.3L371.9 185.8"/>
<path class="c6" d="M345 191.3L411.1 189.7"/>
<path class="c7" d="M345 191.3L371.3 188.9"/>
<path class="c8" d="M345 191.3L401 184.4"/>
<path class="c9" d="M345 191.3L348 106.8"/>
<path class="c0" d="M345 191.3L380.6 153.9"/>
<path class="c3" d="M345 191.3L405.8 128"/>
<path class="c1" d="M345 191.3L347.7 111.6"/>
<path class="c2" d="M345 191.3L351.4 118.2"/>
<path class="c3" d="M345 191.3L387.8 179"/>
<path class="c4" d="M345 191.3L360.7 182.1"/>
<path class="c5" d="M345 191.3L383.7 176.2"/>
<path class="c6" d="M345 191.3L377.4 190.4"/>
<path class="c7" d="M345 191.3L355.3 170.4"/>
<path class="c8" d="M345 191.3L357.6 174.9"/>
<path class="c9" d="M345 191.3L390 184.1"/>
<path class="c0" d="M345 191.3L442.9 176"/>
<path class="c1" d="M345 191.3L438.6 190.3"/>
<path class="c2" d="M345 191.3L364.1 186.7"/>
<path class="c3" d="M345 191.3L396.6 189.5"/>
<path class="c4" d="M345 191.3L347.2 168"/>
<path class="c2" d="M345 191.3L385.9 106.4"/>
<path class="c5" d="M345 191.3L391 188.7"/>
<path class="c9" d="M345 191.3L394.7 127.7"/>
<path class="c6" d="M345 191.3L374.9 188.4"/>
<path class="c7" d="M345 191.3L358.3 184.2"/>
<path class="c8" d="M345 191.3L369.9 173.9"/>
<path class="c9" d="M345 191.3L361.1 190.9"/>
<path class="c0" d="M345 191.3L371.2 139"/>
<path class="c1" d="M345 191.3L351 174"/>
<path class="c2" d="M345 191.3L350.2 184.8"/>
<path class="c3" d="M345 191.3L349.7 166.3"/>
<path class="c4" d="M345 191.3L360.2 140.7"/>
<path class="c5" d="M345 191.3L360.9 152"/>
<path class="c6" d="M345 191.3L364.1 121.8"/>
<path class="c7" d="M345 191.3L371.7 185.7"/>
<path class="c8" d="M345 191.3L454.3 183.8"/>
<path class="c9" d="M345 191.3L366.4 174.6"/>
<path class="c0" d="M188.5 484.6L189.7 405.2"/>
<path class="c1" d="M188.5 484.6L193.1 481"/>
<path class="c2" d="M188.5 484.6L188.6 464.6"/>
<path class="c3" d="M188.5 484.6L195.4 480.2"/>
<path class="c4" d="M188.5 484.6L200.6 483.2"/>
<path class="c5" d="M188.5 484.6L226.9 484.5"/>
<path class="c6" d="M188.5 484.6L189.7 478.5"/>
<path class="c7" d="M188.5 484.6L188.7 467"/>
<path class="c8" d="M188.5 484.6L188.8 423.2"/>
<path class="c9" d="M188.5 484.6L193.5 467.4"/>
<path class="c0" d="M188.5 484.6L189.6 469.1"/>
<path class="c1" d="M188.5 484.6L229.9 484.1"/>
<path class="c2" d="M188.5 484.6L193.7 479.2"/>
<path class="c3" d="M188.5 484.6L220.1 478.6"/>
<path class="c4" d="M188.5 484.6L197.3 470.6"/>
<path class="c5" d="M188.5 484.6L195.6 483.6"/>
<path class="c6" d="M188.5 484.6L195.9 474.8"/>
<path class="c7" d="M188.5 484.6L208.2 483.1"/>
<path class="c8" d="M188.5 484.6L191.4 466"/>
<path class="c9" d="M188.5 484.6L190.8 437.5"/>
<path class="c0" d="M188.5 484.6L217.3 482.7"/>
<path class="c1" d="M188.5 484.6L194.3 446.1"/>
<path class="c2" d="M188.5 484.6L199.9 476.1"/>
<path class="c3" d="M188.5 484.6L212.4 466.9"/>
<path class="c4" d="M188.5 484.6L193.2 476.7"/>
<path class="c5" d="M188.5 484.6L201.8 475.8"/>
<path class="c6" d="M188.5 484.6L193.9 452.6"/>
<path class="c7" d="M188.5 484.6L215.5 484.1"/>
<path class="c8" d="M188.5 484.6L206.3 484.3"/>
<path class="c9" d="M188.5 484.6L204.7 476.3"/>
<path class="c0" d="M188.5 484.6L190.7 469.2"/>
<path class="c1" d="M188.5 484.6L206.9 469.5"/>
<path class="c2" d="M188.5 484.6L189.9 463.4"/>
<path class="c3" d="M188.5 484.6L191.5 479.3"/>
<path class="c4" d="M188.5 484.6L189.5 465.4"/>
<path class="c5" d="M188.5 484.6L213.2 468.9"/>
<path class="c6" d="M188.5 484.6L244.4 480.7"/>
<path class="c7" d="M188.5 484.6L219.8 475.8"/>
<path class="c8" d="M188.5 484.6L211.6 483"/>
<path class="c9" d="M188.5 484.6L223.2 475.9"/>
<path class="c0" d="M188.5 484.6L196.3 484.3"/>
<path class="c1" d="M188.5 484.6L214.9 444.7"/>
<path class="c2" d="M188.5 484.6L190 474.9"/>
<path class="c3" d="M188.5 484.6L195.9 433.2"/>
<path class="c4" d="M188.5 484.6L189.4 472.4"/>
<path class="c5" d="M188.5 484.6L193.9 473"/>
<path class="c6" d="M188.5 484.6L208 481.3"/>
<path class="c7" d="M188.5 484.6L197.4 484.3"/>
<path class="c8" d="M188.5 484.6L196.8 484.5"/>
<path class="c9" d="M188.5 484.6L195 472.7"/>
<path class="c0" d="M188.5 484.6L205.6 475.7"/>
<path class="c1" d="M188.5 484.6L195.2 477.5"/>
<path class="c2" d="M188.5 484.6L188.6 464.1"/>
<path class="c3" d="M188.5 484.6L189.1 463.9"/>
<path class="c4" d="M188.5 484.6L206.7 460.9"/>
<path class="c5" d="M188.5 484.6L191.2 473"/>
<path class="c6" d="M188.5 484.6L189.2 460.5"/>
<path class="c7" d="M188.5 484.6L189.6 446.1"/>
<path class="c8" d="M188.5 484.6L188.6 471"/>
<path class="c9" d="M188.5 484.6L216.7 481.6"/>
<path class="c0" d="M188.5 484.6L199.1 473.5"/>
<path class="c1" d="M188.5 484.6L189.5 467.2"/>
<path class="c2" d="M188.5 484.6L219.9 454.6"/>
<path class="c3" d="M188.5 484.6L230 483.5"/>
<path class="c4" d="M188.5 484.6L188.9 479.2"/>
<path class="c5" d="M188.5 484.6L219.6 466.6"/>
<path class="c6" d="M188.5 484.6L208 462.1"/>
<path class="c7" d="M188.5 484.6L194 446.8"/>
<path class="c8" d="M188.5 484.6L256.3 480.8"/>
<path class="c9" d="M188.5 484.6L194.1 439.5"/>
<path class="c0" d="M188.5 484.6L216.4 483.6"/>
<path class="c1" d="M188.5 484.6L191.8 465.4"/>
<path class="c2" d="M188.5 484.6L203.9 476.4"/>
<path class="c3" d="M188.5 484.6L225.5 464.2"/>
<path class="c4" d="M188.5 484.6L188.5 477.5"/>
<path class="c5" d="M188.5 484.6L190.3 442.8"/>
<path class="c6" d="M188.5 484.6L197.5 484.3"/>
<path class="c7" d="M188.5 484.6L198.7 483.8"/>
<path class="c8" d="M188.5 484.6L219 481.7"/>
<path class="c9" d="M188.5 484.6L207.7 482.6"/>
<path class="c0" d="M188.5 484.6L209.1 473.7"/>
<path class="c1" d="M188.5 484.6L212.7 483.5"/>
<path class="c2" d="M188.5 484.6L189.6 475.1"/>
<path class="c3" d="M188.5 484.6L250.8 480.9"/>
<path class="c4" d="M188.5 484.6L216.1 482.3"/>
<path class="c5" d="M188.5 484.6L214 475.5"/>
<path class="c6" d="M188.5 484.6L204.2 484.6"/>
<path class="c7" d="M188.5 484.6L192.3 464.9"/>
<path class="c8" d="M188.5 484.6L215.5 470.6"/>
<path class="c9" d="M188.5 484.6L229.3 482.6"/>
<path class="c0" d="M188.5 484.6L219.2 484.2"/>
<path class="c1" d="M188.5 484.6L215.2 484"/>
<path class="c2" d="M188.5 484.6L189.5 452"/>
<path class="c3" d="M188.5 484.6L194.2 466.4"/>
<path class="c4" d="M188.5 484.6L195.9 471.1"/>
<path class="c5" d="M188.5 484.6L190.1 460.1"/>
<path class="c6" d="M188.5 484.6L190.3 468.8"/>
<path class="c7" d="M188.5 484.6L219.1 454.7"/>
<path class="c8" d="M188.5 484.6L237.3 482.2"/>
<path class="c9" d="M188.5 484.6L203 446.5"/>
<path class="c0" d="M188.5 484.6L188.7 478.7"/>
<path class="c1" d="M188.5 484.6L189.2 467"/>
<path class="c2" d="M188.5 484.6L205 483.3"/>
<path class="c3" d="M188.5 484.6L200.8 449.7"/>
<path class="c4" d="M188.5 484.6L199.8 458.7"/>
<path class="c5" d="M188.5 484.6L227.3 480.7"/>
<path class="c6" d="M188.5 484.6L212.4 480.8"/>
<path class="c7" d="M188.5 484.6L259 481.7"/>
<path class="c8" d="M188.5 484.6L202.6 483.4"/>
<path class="c9" d="M188.5 484.6L188.6 437.6"/>
<path class="c0" d="M188.5 484.6L202.2 467.4"/>
<path class="c1" d="M188.5 484.6L197.6 483.8"/>
<path class="c2" d="M188.5 484.6L191.4 468.9"/>
<path class="c3" d="M188.5 484.6L214 481.1"/>
<path class="c4" d="M188.5 484.6L283.3 480.1"/>
<path class="c5" d="M188.5 484.6L196.5 460.3"/>
<path class="c6" d="M188.5 484.6L193.5 483.3"/>
<path class="c7" d="M188.5 484.6L203.5 468.8"/>
<path class="c8" d="M188.5 484.6L211.1 482.4"/>
<path class="c9" d="M188.5 484.6L189.4 470.2"/>
<path class="c0" d="M188.5 484.6L205.3 452.1"/>
<path class="c1" d="M188.5 484.6L209.1 460"/>
<path class="c2" d="M188.5 484.6L197.3 480.6"/>
<path class="c3" d="M188.5 484.6L207.2 483.5"/>
<path class="c4" d="M188.5 484.6L196.7 470.9"/>
<path class="c5" d="M188.5 484.6L215 482.1"/>
<path class="c6" d="M188.5 484.6L202.1 462.4"/>
<path class="c7" d="M188.5 484.6L196.7 480.2"/>
<path class="c8" d="M188.5 484.6L199.5 484.3"/>
<path class="c9" d="M188.5 484.6L215.6 478.6"/>
<path class="c0" d="M188.5 484.6L189 477.7"/>
<path class="c1" d="M188.5 484.6L188.9 445.7"/>
<path class="c2" d="M188.5 484.6L191.5 463.3"/>
<path class="c3" d="M188.5 484.6L202.3 473.1"/>
<path class="c4" d="M188.5 484.6L188.6 474.7"/>
<path class="c5" d="M188.5 484.6L238.6 484"/>
<path class="c6" d="M188.5 484.6L209.7 475.1"/>
<path class="c7" d="M188.5 484.6L213.8 467.1"/>
<path class="c8" d="M188.5 484.6L211.7 482.5"/>
<path class="c9" d="M188.5 484.6L203.5 475"/>
<path class="c0" d="M188.5 484.6L193.1 474.3"/>
<path class="c1" d="M188.5 484.6L211.7 483.1"/>
<path class="c2" d="M188.5 484.6L206.7 482.3"/>
<path class="c3" d="M188.5 484.6L214.7 484.5"/>
<path class="c4" d="M188.5 484.6L188.6 468.5"/>
<path class="c5" d="M188.5 484.6L210.2 483.6"/>
<path class="c6" d="M188.5 484.6L198.9 478.2"/>
<path class="c7" d="M188.5 484.6L189.1 462.3"/>
<path class="c8" d="M188.5 484.6L266.4 479.1"/>
<path class="c9" d="M188.5 484.6L206.8 480"/>
<path class="c0" d="M188.5 484.6L210.6 484.5"/>
<path class="c1" d="M188.5 484.6L196.3 484.3"/>
<path class="c2" d="M188.5 484.6L208 448.9"/>
<path class="c3" d="M188.5 484.6L200 483.3"/>
<path class="c4" d="M188.5 484.6L190.5 423"/>
<path class="c5" d="M188.5 484.6L191.2 461"/>
<path class="c6" d="M188.5 484.6L195.4 455.8"/>
<path class="c7" d="M188.5 484.6L188.8 472.5"/>
<path class="c8" d="M188.5 484.6L203.2 484.2"/>
<path class="c9" d="M188.5 484.6L205.5 483.3"/>
<path class="c0" d="M188.5 484.6L205.6 482.5"/>
<path class="c1" d="M188.5 484.6L191.8 453.8"/>
<path class="c2" d="M188.5 484.6L206.9 482.3"/>
<path class="c3" d="M188.5 484.6L194 465.9"/>
<path class="c4" d="M188.5 484.6L230 480.1"/>
<path class="c5" d="M188.5 484.6L227.5 482"/>
<path class="c6" d="M188.5 484.6L210.7 467.3"/>
<path class="c7" d="M188.5 484.6L215.8 484.1"/>
<path class="c8" d="M188.5 484.6L204 477.9"/>
<path class="c9" d="M188.5 484.6L189.9 463"/>
<path class="c0" d="M188.5 484.6L203.3 484.1"/>
<path class="c1" d="M188.5 484.6L202.2 482.9"/>
<path class="c2" d="M188.5 484.6L193.6 423.6"/>
<path class="c3" d="M188.5 484.6L188.7 464.6"/>
<path class="c4" d="M188.5 484.6L218 447"/>
<path class="c5" d="M188.5 484.6L208.4 483.8"/>
<path class="c6" d="M188.5 484.6L189 465.1"/>
<path class="c7" d="M188.5 484.6L189.9 466.7"/>
<path class="c8" d="M188.5 484.6L189.6 448.3"/>
<path class="c9" d="M188.5 484.6L190.2 472.4"/>
<path class="c0" d="M188.5 484.6L226.7 481.5"/>
<path class="c1" d="M188.5 484.6L210.3 463.8"/>
<path class="c2" d="M188.5 484.6L212.7 482"/>
<path class="c3" d="M188.5 484.6L189.6 433.6"/>
<path class="c4" d="M188.5 484.6L219.4 474.3"/>
<path class="c5" d="M188.5 484.6L191.1 478.5"/>
<path class="c6" d="M188.5 484.6L190.8 480"/>
<path class="c7" d="M188.5 484.6L188.6 475.5"/>
<path class="c8" d="M188.5 484.6L211.7 480.1"/>
<path class="c9" d="M188.5 484.6L188.6 452.7"/>
<path class="c0" d="M188.5 484.6L199.4 470.9"/>
<path class="c1" d="M188.5 484.6L200.1 483.9"/>
<path class="c2" d="M188.5 484.6L189.8 464.3"/>
<path class="c3" d="M188.5 484.6L208.1 467.5"/>
<path class="c4" d="M188.5 484.6L213.9 472.4"/>
<path class="c5" d="M188.5 484.6L196 468"/>
<path class="c6" d="M188.5 484.6L207.5 482.5"/>
<path class="c7" d="M188.5 484.6L195.8 460.2"/>
<path class="c8" d="M188.5 484.6L199.7 483.7"/>
<path class="c9" d="M188.5 484.6L191.9 447.4"/>
<path class="c0" d="M188.5 484.6L189.3 471.3"/>
<path class="c1" d="M188.5 484.6L189.6 468.7"/>
<path class="c2" d="M188.5 484.6L207.4 444.7"/>
<path class="c3" d="M188.5 484.6L202.6 469.9"/>
<path class="c4" d="M188.5 484.6L191.1 466.8"/>
<path class="c5" d="M188.5 484.6L201.2 480.5"/>
<path class="c6" d="M188.5 484.6L219 481.4"/>
<path class="c7" d="M188.5 484.6L190.1 429.4"/>
<path class="c8" d="M188.5 484.6L197 460"/>
<path class="c9" d="M188.5 484.6L188.5 478.8"/>
<path class="c0" d="M188.5 484.6L205.7 478.9"/>
<path class="c1" d="M188.5 484.6L219.2 479.4"/>
<path class="c2" d="M188.5 484.6L193.7 407.8"/>
<path class="c3" d="M188.5 484.6L214.9 468.8"/>
<path class="c4" d="M188.5 484.6L197.9 478.4"/>
<path class="c5" d="M188.5 484.6L188.9 471.8"/>
<path class="c6" d="M188.5 484.6L192 428.1"/>
<path class="c7" d="M188.5 484.6L188.7 456"/>
<path class="c8" d="M188.5 484.6L190 469.5"/>
<path class="c9" d="M188.5 484.6L190.4 475.2"/>
<path class="c0" d="M188.5 484.6L192.3 448.7"/>
<path class="c1" d="M188.5 484.6L191.2 430.2"/>
<path class="c2" d="M188.5 484.6L192 469.6"/>
<path class="c3" d="M188.5 484.6L189.3 467.1"/>
<path class="c4" d="M188.5 484.6L212.8 464.2"/>
<path class="c5" d="M188.5 484.6L194.2 478.7"/>
<path class="c6" d="M188.5 484.6L237.3 484.5"/>
<path class="c7" d="M188.5 484.6L198.2 483.1"/>
<path class="c8" d="M188.5 484.6L235.7 481.9"/>
<path class="c9" d="M188.5 484.6L230.3 481.6"/>
<path class="c0" d="M188.5 484.6L208.4 483.9"/>
<path class="c1" d="M188.5 484.6L200.2 456.9"/>
<path class="c2" d="M188.5 484.6L189.2 473.9"/>
<path class="c3" d="M188.5 484.6L190.2 462.9"/>
<path class="c4" d="M188.5 484.6L201.7 479.7"/>
<path class="c5" d="M188.5 484.6L188.7 312.5"/>
<path class="c8" d="M188.5 484.6L194.7 308.8"/>
<path class="c5" d="M188.5 484.6L211.8 482"/>
<path class="c0" d="M188.5 484.6L207.3 307.7"/>
<path class="c6" d="M188.5 484.6L192.4 484.6"/>
<path class="c7" d="M188.5 484.6L194.3 462.1"/>
<path class="c8" d="M188.5 484.6L193.5 480.7"/>
<path class="c9" d="M188.5 484.6L190.6 449.8"/>
<path class="c0" d="M188.5 484.6L199.8 482.8"/>
<path class="c9" d="M188.5 484.6L188.8 336.8"/>
<path class="c0" d="M188.5 484.6L190.5 353.4"/>
<path class="c1" d="M188.5 484.6L188.9 477.9"/>
<path class="c2" d="M188.5 484.6L195.2 462.6"/>
<path class="c3" d="M188.5 484.6L207.8 483.6"/>
<path class="c4" d="M188.5 484.6L195.7 483.9"/>
<path class="c9" d="M188.5 484.6L195.3 372.7"/>
<path class="c5" d="M188.5 484.6L220 465.8"/>
<path class="c2" d="M188.5 484.6L189.2 363.5"/>
<path class="c6" d="M188.5 484.6L222.6 475.5"/>
<path class="c7" d="M188.5 484.6L188.7 470"/>
<path class="c8" d="M188.5 484.6L189.8 431"/>
<path class="c9" d="M188.5 484.6L197 478.4"/>
<path class="c5" d="M188.5 484.6L222.7 370"/>
<path class="c0" d="M188.5 484.6L189.8 473.4"/>
<path class="c1" d="M188.5 484.6L229.2 462.6"/>
<path class="c2" d="M188.5 484.6L216.8 478.3"/>
<path class="c4" d="M188.5 484.6L212.6 382"/>
<path class="c3" d="M188.5 484.6L211.8 483.7"/>
<path class="c4" d="M188.5 484.6L190.5 469.2"/>
<path class="c5" d="M188.5 484.6L199.1 483.8"/>
<path class="c6" d="M188.5 484.6L204.4 478.3"/>
<path class="c7" d="M188.5 484.6L213.5 482.5"/>
<path class="c7" d="M188.5 484.6L235.8 399.2"/>
<path class="c8" d="M188.5 484.6L216.3 456.3"/>
<path class="c9" d="M188.5 484.6L196 478.4"/>
<path class="c0" d="M188.5 484.6L218.7 481.4"/>
<path class="c1" d="M188.5 484.6L219.3 484.5"/>
<path class="c2" d="M188.5 484.6L236.3 478.2"/>
<path class="c3" d="M188.5 484.6L190.9 475.9"/>
<path class="c4" d="M188.5 484.6L210.3 439.3"/>
<path class="c5" d="M188.5 484.6L212.1 470.1"/>
<path class="c6" d="M188.5 484.6L191.9 466.1"/>
<path class="c7" d="M188.5 484.6L222.9 484.4"/>
<path class="c8" d="M188.5 484.6L193.9 451.5"/>
<path class="c9" d="M188.5 484.6L189.5 445.5"/>
<path class="c0" d="M188.5 484.6L192.7 469.7"/>
<path class="c1" d="M188.5 484.6L313.4 364.2"/>
<path class="c1" d="M188.5 484.6L213.4 476.7"/>
<path class="c2" d="M188.5 484.6L189.5 457.7"/>
<path class="c3" d="M188.5 484.6L210.5 474.2"/>
<path class="c4" d="M188.5 484.6L192.2 439.2"/>
<path class="c5" d="M188.5 484.6L193 448.2"/>
<path class="c6" d="M188.5 484.6L230.2 457.3"/>
<path class="c7" d="M188.5 484.6L191.4 473.6"/>
<path class="c8" d="M188.5 484.6L194.5 453.5"/>
<path class="c9" d="M188.5 484.6L190.9 471.4"/>
<path class="c0" d="M188.5 484.6L218.2 484"/>
<path class="c5" d="M188.5 484.6L243.5 415.8"/>
<path class="c1" d="M188.5 484.6L207.1 484.5"/>
<path class="c2" d="M188.5 484.6L209.6 481.5"/>
<path class="c3" d="M188.5 484.6L212.6 482"/>
<path class="c4" d="M188.5 484.6L202.4 477.6"/>
<path class="c5" d="M188.5 484.6L240.8 481.7"/>
<path class="c5" d="M188.5 484.6L274.6 424.6"/>
<path class="c6" d="M188.5 484.6L189 435.5"/>
<path class="c6" d="M188.5 484.6L286.2 426.2"/>
<path class="c7" d="M188.5 484.6L191 468.2"/>
<path class="c8" d="M188.5 484.6L188.6 471.7"/>
<path class="c1" d="M188.5 484.6L310.9 426.5"/>
<path class="c9" d="M188.5 484.6L189.3 456"/>
<path class="c0" d="M188.5 484.6L226.7 469.8"/>
<path class="c1" d="M188.5 484.6L225.4 465.6"/>
<path class="c1" d="M188.5 484.6L267.8 462.4"/>
<path class="c2" d="M188.5 484.6L203.3 462.4"/>
<path class="c3" d="M188.5 484.6L232.1 472.4"/>
<path class="c4" d="M188.5 484.6L234.5 460.7"/>
<path class="c5" d="M188.5 484.6L188.7 440.5"/>
<path class="c6" d="M188.5 484.6L203.6 483.8"/>
<path class="c2" d="M188.5 484.6L248.7 472.5"/>
<path class="c7" d="M188.5 484.6L193.7 429.2"/>
<path class="c8" d="M188.5 484.6L223.8 477.4"/>
<path class="c9" d="M188.5 484.6L197.3 482.5"/>
<path class="c0" d="M188.5 484.6L191 474.1"/>
<path class="c1" d="M188.5 484.6L195 470.9"/>
<path class="c1" d="M188.5 484.6L240.8 464.2"/>
<path class="c2" d="M188.5 484.6L220.4 483"/>
<path class="c3" d="M188.5 484.6L191.1 457.2"/>
<path class="c4" d="M188.5 484.6L189.3 456.8"/>
<path class="c5" d="M188.5 484.6L192.1 455.5"/>
<path class="c6" d="M188.5 484.6L227.2 458.2"/>
<path class="c7" d="M188.5 484.6L210.3 471"/>
<path class="c8" d="M188.5 484.6L188.7 469.3"/>
<path class="c9" d="M188.5 484.6L213 460.7"/>
<path class="c0" d="M188.5 484.6L196 452.7"/>
<path class="c1" d="M188.5 484.6L191.5 438.5"/>
<path class="c2" d="M188.5 484.6L192 472.7"/>
<path class="c3" d="M188.5 484.6L203.3 459.3"/>
<path class="c4" d="M188.5 484.6L202.3 483"/>
<path class="c5" d="M188.5 484.6L238.3 481.3"/>
<path class="c6" d="M188.5 484.6L199.3 482.9"/>
<path class="c7" d="M188.5 484.6L190 452.5"/>
<path class="c8" d="M188.5 484.6L216.5 481.6"/>
<path class="c9" d="M188.5 484.6L192.7 442.7"/>
<path class="c0" d="M188.5 484.6L192.8 458.6"/>
<path class="c1" d="M188.5 484.6L216.9 483"/>
<path class="c2" d="M188.5 484.6L200.9 471.8"/>
<path class="c3" d="M188.5 484.6L196.6 484.6"/>
<path class="c4" d="M188.5 484.6L209.5 480.2"/>
<path class="c5" d="M188.5 484.6L219.7 483.1"/>
<path class="c6" d="M188.5 484.6L189.4 424"/>
<path class="c7" d="M188.5 484.6L229.2 483.1"/>
<path class="c8" d="M188.5 484.6L204.6 484"/>
<path class="c9" d="M188.5 484.6L211.7 469.2"/>
<path class="c0" d="M188.5 484.6L194.4 481.5"/>
<path class="c8" d="M188.5 484.6L239.9 425"/>
<path class="c1" d="M188.5 484.6L202 479.5"/>
<path class="c2" d="M188.5 484.6L196.9 481.9"/>
<path class="c3" d="M188.5 484.6L201.1 451.2"/>
<path class="c9" d="M188.5 484.6L224.2 430.9"/>
<path class="c4" d="M188.5 484.6L188.9 476.7"/>
<path class="c5" d="M188.5 484.6L203.3 479.7"/>
<path class="c6" d="M188.5 484.6L211.6 459.4"/>
<path class="c7" d="M188.5 484.6L203.3 479.2"/>
<path class="c8" d="M188.5 484.6L198.6 483.4"/>
<path class="c9" d="M188.5 484.6L192.1 458.1"/>
<path class="c0" d="M188.5 484.6L197.1 484.4"/>
<path class="c1" d="M188.5 484.6L192.7 464.7"/>
<path class="c8" d="M188.5 484.6L216.8 430.1"/>
<path class="c2" d="M188.5 484.6L215 418.5"/>
<path class="c2" d="M188.5 484.6L201.3 484.6"/>
<path class="c9" d="M188.5 484.6L200.3 411.7"/>
<path class="c3" d="M188.5 484.6L196.9 476"/>
<path class="c4" d="M188.5 484.6L203.6 464"/>
<path class="c5" d="M188.5 484.6L189.7 462.1"/>
<path class="c6" d="M188.5 484.6L191.3 469.3"/>
<path class="c0" d="M188.5 484.6L245.4 443.4"/>
<path class="c7" d="M188.5 484.6L205.9 474.5"/>
<path class="c8" d="M188.5 484.6L190.1 450.3"/>
<path class="c9" d="M188.5 484.6L207.5 484.4"/>
<path class="c0" d="M188.5 484.6L211.8 483.2"/>
<path class="c6" d="M188.5 484.6L249 447.6"/>
<path class="c1" d="M188.5 484.6L195.7 462.6"/>
<path class="c2" d="M188.5 484.6L201.5 454.2"/>
<path class="c3" d="M188.5 484.6L189.4 473.8"/>
<path class="c4" d="M188.5 484.6L191.6 478.8"/>
<path class="c5" d="M188.5 484.6L207.3 483"/>
<path class="c3" d="M188.5 484.6L242.6 432"/>
<path class="c6" d="M188.5 484.6L188.8 475.9"/>
<path class="c7" d="M188.5 484.6L214.8 475.1"/>
<path class="c4" d="M188.5 484.6L209.5 427.8"/>
<path class="c1" d="M188.5 484.6L225 466.4"/>
<path class="c8" d="M188.5 484.6L195.7 484.5"/>
<path class="c9" d="M188.5 484.6L188.9 477"/>
<path class="c0" d="M188.5 484.6L197.7 460.5"/>
<path class="c1" d="M188.5 484.6L189.2 457.7"/>
<path class="c2" d="M188.5 484.6L195.2 484.4"/>
<path class="c3" d="M188.5 484.6L223.9 484.2"/>
<path class="c4" d="M188.5 484.6L188.5 413.4"/>
<path class="c5" d="M188.5 484.6L190.1 470.4"/>
<path class="c6" d="M188.5 484.6L214.7 464.6"/>
<path class="c7" d="M188.5 484.6L199.7 482.3"/>
<path class="c8" d="M188.5 484.6L188.7 448.1"/>
<path class="c9" d="M188.5 484.6L194 463.6"/>
<path class="c3" d="M188.5 484.6L333.4 468.2"/>
<path class="c0" d="M188.5 484.6L201.2 475.3"/>
<path class="c1" d="M188.5 484.6L214 470.8"/>
<path class="c2" d="M188.5 484.6L218.2 484.3"/>
<path class="c3" d="M188.5 484.6L218.3 481.1"/>
<path class="c4" d="M188.5 484.6L197 470.3"/>
<path class="c5" d="M188.5 484.6L212.7 462.4"/>
<path class="c6" d="M188.5 484.6L224.1 481.5"/>
<path class="c9" d="M188.5 484.6L321.9 472.5"/>
<path class="c7" d="M188.5 484.6L192.5 448"/>
<path class="c8" d="M188.5 484.6L224.3 483.7"/>
<path class="c9" d="M188.5 484.6L188.5 477.1"/>
<path class="c0" d="M188.5 484.6L189.1 472.3"/>
<path class="c1" d="M188.5 484.6L188.6 446"/>
<path class="c2" d="M188.5 484.6L195.2 439.8"/>
<path class="c3" d="M188.5 484.6L216 452.1"/>
<path class="c4" d="M188.5 484.6L190.3 473.7"/>
<path class="c7" d="M188.5 484.6L366.6 472.5"/>
<path class="c5" d="M188.5 484.6L216.8 473.2"/>
<path class="c4" d="M188.5 484.6L337.3 479.3"/>
<path class="c6" d="M188.5 484.6L188.7 478.2"/>
<path class="c7" d="M188.5 484.6L194.5 461"/>
<path class="c8" d="M188.5 484.6L189.9 467"/>
<path class="c9" d="M188.5 484.6L208.2 480.5"/>
<path class="c0" d="M188.5 484.6L189.7 466.2"/>
<path class="c5" d="M188.5 484.6L346 483.4"/>
<path class="c1" d="M188.5 484.6L190.7 434.5"/>
<path class="c2" d="M188.5 484.6L188.8 476.1"/>
<path class="c3" d="M188.5 484.6L224.8 482.6"/>
<path class="c4" d="M188.5 484.6L199 483.2"/>
<path class="c5" d="M188.5 484.6L190 432.9"/>
<path class="c6" d="M188.5 484.6L203.6 479.2"/>
<path class="c7" d="M188.5 484.6L196.1 484"/>
<path class="c8" d="M188.5 484.6L205.5 484"/>
<path class="c9" d="M188.5 484.6L196.6 474.4"/>
<path class="c0" d="M188.5 484.6L210.4 451.6"/>
<path class="c1" d="M188.5 484.6L215.1 484.5"/>
<path class="c2" d="M188.5 484.6L197.4 484.6"/>
<path class="c3" d="M188.5 484.6L205.7 471.1"/>
<path class="c4" d="M188.5 484.6L188.9 458.2"/>
<path class="c5" d="M188.5 484.6L241.2 481.7"/>
<path class="c6" d="M188.5 484.6L189.9 451.1"/>
<path class="c6" d="M188.5 484.6L335.2 484.2"/>
<path class="c7" d="M188.5 484.6L224.8 469.1"/>
<path class="c8" d="M188.5 484.6L222.4 483.8"/>
<path class="c9" d="M188.5 484.6L201 483.6"/>
<path class="c0" d="M188.5 484.6L208.8 484.5"/>
<path class="c1" d="M188.5 484.6L195 484"/>
<path class="c2" d="M188.5 484.6L217.1 484.3"/>
<path class="c3" d="M188.5 484.6L211.9 482.8"/>
<path class="c4" d="M188.5 484.6L308.5 482.8"/>
<path class="c4" d="M188.5 484.6L201.9 484.3"/>
<path class="c5" d="M188.5 484.6L191.1 457.4"/>
<path class="c6" d="M188.5 484.6L203 483.6"/>
<path class="c8" d="M188.5 484.6L324.7 484.6"/>
<path class="c7" d="M188.5 484.6L194 459.5"/>
<path class="c8" d="M188.5 484.6L195 431.5"/>
<path class="c9" d="M188.5 484.6L193.2 462.6"/>
<path class="c0" d="M188.5 484.6L275.6 479.1"/>
<path class="c1" d="M188.5 484.6L199 479.5"/>
<path class="c2" d="M188.5 484.6L211.9 472.7"/>
<path class="c3" d="M188.5 484.6L195.9 475.9"/>
<path class="c4" d="M188.5 484.6L295.8 481.2"/>
<path class="c5" d="M188.5 484.6L216.3 481.3"/>
<path class="c6" d="M188.5 484.6L189.3 412.7"/>
<path class="c7" d="M188.5 484.6L189.6 472.1"/>
<path class="c8" d="M188.5 484.6L220.2 458.8"/>
<path class="c9" d="M188.5 484.6L230.7 484.2"/>
<path class="c0" d="M188.5 484.6L216 484.4"/>
<path class="c1" d="M188.5 484.6L188.7 475.2"/>
<path class="c2" d="M188.5 484.6L192.9 457.5"/>
<path class="c3" d="M188.5 484.6L221.2 433.5"/>
<path class="c3" d="M188.5 484.6L188.8 462.8"/>
<path class="c6" d="M188.5 484.6L196.9 428.1"/>
<path class="c4" d="M188.5 484.6L207.7 482"/>
<path class="c5" d="M188.5 484.6L189.5 435"/>
<path class="c6" d="M188.5 484.6L188.8 459.6"/>
<path class="c7" d="M188.5 484.6L207.8 482.8"/>
<path class="c8" d="M188.5 484.6L220.5 482.4"/>
<path class="c9" d="M188.5 484.6L190.1 454.5"/>
<path class="c0" d="M188.5 484.6L190.2 473.7"/>
<path class="c1" d="M188.5 484.6L189.1 455.1"/>
<path class="c2" d="M188.5 484.6L214.9 482.6"/>
<path class="c3" d="M188.5 484.6L202.4 484.1"/>
<path class="c4" d="M188.5 484.6L188.8 467.1"/>
<path class="c5" d="M188.5 484.6L200.7 478.1"/>
<path class="c6" d="M188.5 484.6L199.1 483.1"/>
<path class="c7" d="M188.5 484.6L222.2 481.1"/>
<path class="c8" d="M188.5 484.6L215.1 481.5"/>
<path class="c9" d="M188.5 484.6L196.1 483.1"/>
<path class="c0" d="M188.5 484.6L197.9 463.5"/>
<path class="c1" d="M188.5 484.6L208.8 483.7"/>
<path class="c2" d="M188.5 484.6L190.1 455.7"/>
<path class="c3" d="M188.5 484.6L207.3 481.3"/>
<path class="c4" d="M188.5 484.6L199.1 441.8"/>
<path class="c5" d="M188.5 484.6L199.3 480.9"/>
<path class="c6" d="M188.5 484.6L243.7 478.2"/>
<path class="c7" d="M188.5 484.6L214.5 481.4"/>
<path class="c8" d="M188.5 484.6L199.6 484.1"/>
<path class="c9" d="M188.5 484.6L208.3 444.5"/>
<path class="c0" d="M188.5 484.6L191.7 449.8"/>
<path class="c1" d="M188.5 484.6L189.7 419.4"/>
<path class="c3" d="M188.5 484.6L194.4 407.2"/>
<path class="c2" d="M188.5 484.6L188.5 473.3"/>
<path class="c3" d="M188.5 484.6L197.8 484"/>
<path class="c4" d="M188.5 484.6L196.3 484.4"/>
<path class="c5" d="M188.5 484.6L220.9 484"/>
<path class="c6" d="M188.5 484.6L199.7 439.8"/>
<path class="c6" d="M188.5 484.6L193.2 466.6"/>
<path class="c7" d="M188.5 484.6L221.5 482.1"/>
<path class="c8" d="M188.5 484.6L197.5 457.1"/>
<path class="c9" d="M188.5 484.6L195 419.1"/>
</g>
<g font-family="'Liberation Serif',serif" font-size="12.8" fill="#111" text-anchor="middle" text-rendering="geometricPrecision">
<text x="121.0" y="249.6">(<tspan font-weight="bold">a</tspan>)</text>
<text x="430.9" y="249.6">(<tspan font-weight="bold">b</tspan>)</text>
<text x="274.2" y="543.3">(<tspan font-weight="bold">c</tspan>)</text>
</g>
</svg>
</body></html>
